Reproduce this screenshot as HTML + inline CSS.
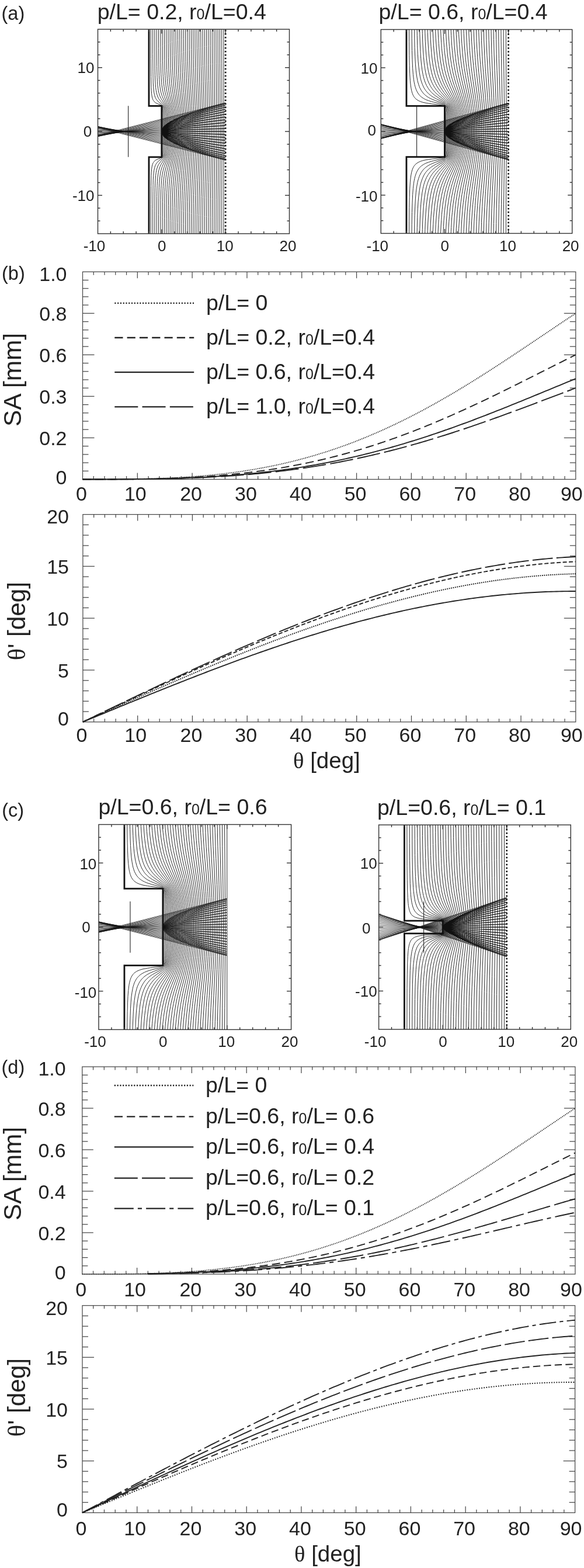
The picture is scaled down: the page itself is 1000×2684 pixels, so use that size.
<!DOCTYPE html>
<html><head><meta charset="utf-8"><title>Figure</title>
<style>html,body{margin:0;padding:0;background:#fff}svg{display:block}</style></head>
<body>
<svg width="1000" height="2684" viewBox="0 0 1000 2684" font-family='"Liberation Sans", Arial, Helvetica, sans-serif'>
<rect width="1000" height="2684" fill="#fff"/>
<text x="2.5" y="33.5" font-size="32.5" text-anchor="start" fill="#222" >(a)</text>
<text x="3" y="478.5" font-size="32.5" text-anchor="start" fill="#222" >(b)</text>
<text x="3.3" y="1398" font-size="32.5" text-anchor="start" fill="#222" >(c)</text>
<text x="2.5" y="1838.3" font-size="32.5" text-anchor="start" fill="#222" >(d)</text>
<rect x="141.5" y="465.3" width="844.3" height="355.2" fill="none" stroke="#484848" stroke-width="1.25"/>
<line x1="160.26" y1="820.5" x2="160.26" y2="815" stroke="#484848" stroke-width="1.25" />
<line x1="160.26" y1="465.3" x2="160.26" y2="470.8" stroke="#484848" stroke-width="1.25" />
<line x1="179.02" y1="820.5" x2="179.02" y2="815" stroke="#484848" stroke-width="1.25" />
<line x1="179.02" y1="465.3" x2="179.02" y2="470.8" stroke="#484848" stroke-width="1.25" />
<line x1="197.79" y1="820.5" x2="197.79" y2="815" stroke="#484848" stroke-width="1.25" />
<line x1="197.79" y1="465.3" x2="197.79" y2="470.8" stroke="#484848" stroke-width="1.25" />
<line x1="216.55" y1="820.5" x2="216.55" y2="815" stroke="#484848" stroke-width="1.25" />
<line x1="216.55" y1="465.3" x2="216.55" y2="470.8" stroke="#484848" stroke-width="1.25" />
<line x1="235.31" y1="820.5" x2="235.31" y2="809.5" stroke="#484848" stroke-width="1.25" />
<line x1="235.31" y1="465.3" x2="235.31" y2="476.3" stroke="#484848" stroke-width="1.25" />
<line x1="254.07" y1="820.5" x2="254.07" y2="815" stroke="#484848" stroke-width="1.25" />
<line x1="254.07" y1="465.3" x2="254.07" y2="470.8" stroke="#484848" stroke-width="1.25" />
<line x1="272.84" y1="820.5" x2="272.84" y2="815" stroke="#484848" stroke-width="1.25" />
<line x1="272.84" y1="465.3" x2="272.84" y2="470.8" stroke="#484848" stroke-width="1.25" />
<line x1="291.6" y1="820.5" x2="291.6" y2="815" stroke="#484848" stroke-width="1.25" />
<line x1="291.6" y1="465.3" x2="291.6" y2="470.8" stroke="#484848" stroke-width="1.25" />
<line x1="310.36" y1="820.5" x2="310.36" y2="815" stroke="#484848" stroke-width="1.25" />
<line x1="310.36" y1="465.3" x2="310.36" y2="470.8" stroke="#484848" stroke-width="1.25" />
<line x1="329.12" y1="820.5" x2="329.12" y2="809.5" stroke="#484848" stroke-width="1.25" />
<line x1="329.12" y1="465.3" x2="329.12" y2="476.3" stroke="#484848" stroke-width="1.25" />
<line x1="347.88" y1="820.5" x2="347.88" y2="815" stroke="#484848" stroke-width="1.25" />
<line x1="347.88" y1="465.3" x2="347.88" y2="470.8" stroke="#484848" stroke-width="1.25" />
<line x1="366.65" y1="820.5" x2="366.65" y2="815" stroke="#484848" stroke-width="1.25" />
<line x1="366.65" y1="465.3" x2="366.65" y2="470.8" stroke="#484848" stroke-width="1.25" />
<line x1="385.41" y1="820.5" x2="385.41" y2="815" stroke="#484848" stroke-width="1.25" />
<line x1="385.41" y1="465.3" x2="385.41" y2="470.8" stroke="#484848" stroke-width="1.25" />
<line x1="404.17" y1="820.5" x2="404.17" y2="815" stroke="#484848" stroke-width="1.25" />
<line x1="404.17" y1="465.3" x2="404.17" y2="470.8" stroke="#484848" stroke-width="1.25" />
<line x1="422.93" y1="820.5" x2="422.93" y2="809.5" stroke="#484848" stroke-width="1.25" />
<line x1="422.93" y1="465.3" x2="422.93" y2="476.3" stroke="#484848" stroke-width="1.25" />
<line x1="441.7" y1="820.5" x2="441.7" y2="815" stroke="#484848" stroke-width="1.25" />
<line x1="441.7" y1="465.3" x2="441.7" y2="470.8" stroke="#484848" stroke-width="1.25" />
<line x1="460.46" y1="820.5" x2="460.46" y2="815" stroke="#484848" stroke-width="1.25" />
<line x1="460.46" y1="465.3" x2="460.46" y2="470.8" stroke="#484848" stroke-width="1.25" />
<line x1="479.22" y1="820.5" x2="479.22" y2="815" stroke="#484848" stroke-width="1.25" />
<line x1="479.22" y1="465.3" x2="479.22" y2="470.8" stroke="#484848" stroke-width="1.25" />
<line x1="497.98" y1="820.5" x2="497.98" y2="815" stroke="#484848" stroke-width="1.25" />
<line x1="497.98" y1="465.3" x2="497.98" y2="470.8" stroke="#484848" stroke-width="1.25" />
<line x1="516.74" y1="820.5" x2="516.74" y2="809.5" stroke="#484848" stroke-width="1.25" />
<line x1="516.74" y1="465.3" x2="516.74" y2="476.3" stroke="#484848" stroke-width="1.25" />
<line x1="535.51" y1="820.5" x2="535.51" y2="815" stroke="#484848" stroke-width="1.25" />
<line x1="535.51" y1="465.3" x2="535.51" y2="470.8" stroke="#484848" stroke-width="1.25" />
<line x1="554.27" y1="820.5" x2="554.27" y2="815" stroke="#484848" stroke-width="1.25" />
<line x1="554.27" y1="465.3" x2="554.27" y2="470.8" stroke="#484848" stroke-width="1.25" />
<line x1="573.03" y1="820.5" x2="573.03" y2="815" stroke="#484848" stroke-width="1.25" />
<line x1="573.03" y1="465.3" x2="573.03" y2="470.8" stroke="#484848" stroke-width="1.25" />
<line x1="591.79" y1="820.5" x2="591.79" y2="815" stroke="#484848" stroke-width="1.25" />
<line x1="591.79" y1="465.3" x2="591.79" y2="470.8" stroke="#484848" stroke-width="1.25" />
<line x1="610.56" y1="820.5" x2="610.56" y2="809.5" stroke="#484848" stroke-width="1.25" />
<line x1="610.56" y1="465.3" x2="610.56" y2="476.3" stroke="#484848" stroke-width="1.25" />
<line x1="629.32" y1="820.5" x2="629.32" y2="815" stroke="#484848" stroke-width="1.25" />
<line x1="629.32" y1="465.3" x2="629.32" y2="470.8" stroke="#484848" stroke-width="1.25" />
<line x1="648.08" y1="820.5" x2="648.08" y2="815" stroke="#484848" stroke-width="1.25" />
<line x1="648.08" y1="465.3" x2="648.08" y2="470.8" stroke="#484848" stroke-width="1.25" />
<line x1="666.84" y1="820.5" x2="666.84" y2="815" stroke="#484848" stroke-width="1.25" />
<line x1="666.84" y1="465.3" x2="666.84" y2="470.8" stroke="#484848" stroke-width="1.25" />
<line x1="685.6" y1="820.5" x2="685.6" y2="815" stroke="#484848" stroke-width="1.25" />
<line x1="685.6" y1="465.3" x2="685.6" y2="470.8" stroke="#484848" stroke-width="1.25" />
<line x1="704.37" y1="820.5" x2="704.37" y2="809.5" stroke="#484848" stroke-width="1.25" />
<line x1="704.37" y1="465.3" x2="704.37" y2="476.3" stroke="#484848" stroke-width="1.25" />
<line x1="723.13" y1="820.5" x2="723.13" y2="815" stroke="#484848" stroke-width="1.25" />
<line x1="723.13" y1="465.3" x2="723.13" y2="470.8" stroke="#484848" stroke-width="1.25" />
<line x1="741.89" y1="820.5" x2="741.89" y2="815" stroke="#484848" stroke-width="1.25" />
<line x1="741.89" y1="465.3" x2="741.89" y2="470.8" stroke="#484848" stroke-width="1.25" />
<line x1="760.65" y1="820.5" x2="760.65" y2="815" stroke="#484848" stroke-width="1.25" />
<line x1="760.65" y1="465.3" x2="760.65" y2="470.8" stroke="#484848" stroke-width="1.25" />
<line x1="779.42" y1="820.5" x2="779.42" y2="815" stroke="#484848" stroke-width="1.25" />
<line x1="779.42" y1="465.3" x2="779.42" y2="470.8" stroke="#484848" stroke-width="1.25" />
<line x1="798.18" y1="820.5" x2="798.18" y2="809.5" stroke="#484848" stroke-width="1.25" />
<line x1="798.18" y1="465.3" x2="798.18" y2="476.3" stroke="#484848" stroke-width="1.25" />
<line x1="816.94" y1="820.5" x2="816.94" y2="815" stroke="#484848" stroke-width="1.25" />
<line x1="816.94" y1="465.3" x2="816.94" y2="470.8" stroke="#484848" stroke-width="1.25" />
<line x1="835.7" y1="820.5" x2="835.7" y2="815" stroke="#484848" stroke-width="1.25" />
<line x1="835.7" y1="465.3" x2="835.7" y2="470.8" stroke="#484848" stroke-width="1.25" />
<line x1="854.46" y1="820.5" x2="854.46" y2="815" stroke="#484848" stroke-width="1.25" />
<line x1="854.46" y1="465.3" x2="854.46" y2="470.8" stroke="#484848" stroke-width="1.25" />
<line x1="873.23" y1="820.5" x2="873.23" y2="815" stroke="#484848" stroke-width="1.25" />
<line x1="873.23" y1="465.3" x2="873.23" y2="470.8" stroke="#484848" stroke-width="1.25" />
<line x1="891.99" y1="820.5" x2="891.99" y2="809.5" stroke="#484848" stroke-width="1.25" />
<line x1="891.99" y1="465.3" x2="891.99" y2="476.3" stroke="#484848" stroke-width="1.25" />
<line x1="910.75" y1="820.5" x2="910.75" y2="815" stroke="#484848" stroke-width="1.25" />
<line x1="910.75" y1="465.3" x2="910.75" y2="470.8" stroke="#484848" stroke-width="1.25" />
<line x1="929.51" y1="820.5" x2="929.51" y2="815" stroke="#484848" stroke-width="1.25" />
<line x1="929.51" y1="465.3" x2="929.51" y2="470.8" stroke="#484848" stroke-width="1.25" />
<line x1="948.28" y1="820.5" x2="948.28" y2="815" stroke="#484848" stroke-width="1.25" />
<line x1="948.28" y1="465.3" x2="948.28" y2="470.8" stroke="#484848" stroke-width="1.25" />
<line x1="967.04" y1="820.5" x2="967.04" y2="815" stroke="#484848" stroke-width="1.25" />
<line x1="967.04" y1="465.3" x2="967.04" y2="470.8" stroke="#484848" stroke-width="1.25" />
<line x1="141.5" y1="806.29" x2="151.5" y2="806.29" stroke="#484848" stroke-width="1.25" />
<line x1="985.8" y1="806.29" x2="975.8" y2="806.29" stroke="#484848" stroke-width="1.25" />
<line x1="141.5" y1="792.08" x2="151.5" y2="792.08" stroke="#484848" stroke-width="1.25" />
<line x1="985.8" y1="792.08" x2="975.8" y2="792.08" stroke="#484848" stroke-width="1.25" />
<line x1="141.5" y1="777.88" x2="151.5" y2="777.88" stroke="#484848" stroke-width="1.25" />
<line x1="985.8" y1="777.88" x2="975.8" y2="777.88" stroke="#484848" stroke-width="1.25" />
<line x1="141.5" y1="763.67" x2="151.5" y2="763.67" stroke="#484848" stroke-width="1.25" />
<line x1="985.8" y1="763.67" x2="975.8" y2="763.67" stroke="#484848" stroke-width="1.25" />
<line x1="141.5" y1="749.46" x2="161.5" y2="749.46" stroke="#484848" stroke-width="1.25" />
<line x1="985.8" y1="749.46" x2="965.8" y2="749.46" stroke="#484848" stroke-width="1.25" />
<line x1="141.5" y1="735.25" x2="151.5" y2="735.25" stroke="#484848" stroke-width="1.25" />
<line x1="985.8" y1="735.25" x2="975.8" y2="735.25" stroke="#484848" stroke-width="1.25" />
<line x1="141.5" y1="721.04" x2="151.5" y2="721.04" stroke="#484848" stroke-width="1.25" />
<line x1="985.8" y1="721.04" x2="975.8" y2="721.04" stroke="#484848" stroke-width="1.25" />
<line x1="141.5" y1="706.84" x2="151.5" y2="706.84" stroke="#484848" stroke-width="1.25" />
<line x1="985.8" y1="706.84" x2="975.8" y2="706.84" stroke="#484848" stroke-width="1.25" />
<line x1="141.5" y1="692.63" x2="151.5" y2="692.63" stroke="#484848" stroke-width="1.25" />
<line x1="985.8" y1="692.63" x2="975.8" y2="692.63" stroke="#484848" stroke-width="1.25" />
<line x1="141.5" y1="678.42" x2="161.5" y2="678.42" stroke="#484848" stroke-width="1.25" />
<line x1="985.8" y1="678.42" x2="965.8" y2="678.42" stroke="#484848" stroke-width="1.25" />
<line x1="141.5" y1="664.21" x2="151.5" y2="664.21" stroke="#484848" stroke-width="1.25" />
<line x1="985.8" y1="664.21" x2="975.8" y2="664.21" stroke="#484848" stroke-width="1.25" />
<line x1="141.5" y1="650" x2="151.5" y2="650" stroke="#484848" stroke-width="1.25" />
<line x1="985.8" y1="650" x2="975.8" y2="650" stroke="#484848" stroke-width="1.25" />
<line x1="141.5" y1="635.8" x2="151.5" y2="635.8" stroke="#484848" stroke-width="1.25" />
<line x1="985.8" y1="635.8" x2="975.8" y2="635.8" stroke="#484848" stroke-width="1.25" />
<line x1="141.5" y1="621.59" x2="151.5" y2="621.59" stroke="#484848" stroke-width="1.25" />
<line x1="985.8" y1="621.59" x2="975.8" y2="621.59" stroke="#484848" stroke-width="1.25" />
<line x1="141.5" y1="607.38" x2="161.5" y2="607.38" stroke="#484848" stroke-width="1.25" />
<line x1="985.8" y1="607.38" x2="965.8" y2="607.38" stroke="#484848" stroke-width="1.25" />
<line x1="141.5" y1="593.17" x2="151.5" y2="593.17" stroke="#484848" stroke-width="1.25" />
<line x1="985.8" y1="593.17" x2="975.8" y2="593.17" stroke="#484848" stroke-width="1.25" />
<line x1="141.5" y1="578.96" x2="151.5" y2="578.96" stroke="#484848" stroke-width="1.25" />
<line x1="985.8" y1="578.96" x2="975.8" y2="578.96" stroke="#484848" stroke-width="1.25" />
<line x1="141.5" y1="564.76" x2="151.5" y2="564.76" stroke="#484848" stroke-width="1.25" />
<line x1="985.8" y1="564.76" x2="975.8" y2="564.76" stroke="#484848" stroke-width="1.25" />
<line x1="141.5" y1="550.55" x2="151.5" y2="550.55" stroke="#484848" stroke-width="1.25" />
<line x1="985.8" y1="550.55" x2="975.8" y2="550.55" stroke="#484848" stroke-width="1.25" />
<line x1="141.5" y1="536.34" x2="161.5" y2="536.34" stroke="#484848" stroke-width="1.25" />
<line x1="985.8" y1="536.34" x2="965.8" y2="536.34" stroke="#484848" stroke-width="1.25" />
<line x1="141.5" y1="522.13" x2="151.5" y2="522.13" stroke="#484848" stroke-width="1.25" />
<line x1="985.8" y1="522.13" x2="975.8" y2="522.13" stroke="#484848" stroke-width="1.25" />
<line x1="141.5" y1="507.92" x2="151.5" y2="507.92" stroke="#484848" stroke-width="1.25" />
<line x1="985.8" y1="507.92" x2="975.8" y2="507.92" stroke="#484848" stroke-width="1.25" />
<line x1="141.5" y1="493.72" x2="151.5" y2="493.72" stroke="#484848" stroke-width="1.25" />
<line x1="985.8" y1="493.72" x2="975.8" y2="493.72" stroke="#484848" stroke-width="1.25" />
<line x1="141.5" y1="479.51" x2="151.5" y2="479.51" stroke="#484848" stroke-width="1.25" />
<line x1="985.8" y1="479.51" x2="975.8" y2="479.51" stroke="#484848" stroke-width="1.25" />
<text x="114.5" y="480.5" font-size="34" text-anchor="end" fill="#222" >1.0</text>
<text x="114.5" y="548.94" font-size="34" text-anchor="end" fill="#222" >0.8</text>
<text x="114.5" y="619.98" font-size="34" text-anchor="end" fill="#222" >0.6</text>
<text x="114.5" y="691.02" font-size="34" text-anchor="end" fill="#222" >0.3</text>
<text x="114.5" y="762.06" font-size="34" text-anchor="end" fill="#222" >0.2</text>
<text x="114.5" y="828.8" font-size="34" text-anchor="end" fill="#222" >0</text>
<text x="139.5" y="856.6" font-size="34" text-anchor="middle" fill="#222" >0</text>
<text x="231.81" y="856.6" font-size="34" text-anchor="middle" fill="#222" >10</text>
<text x="327.12" y="856.6" font-size="34" text-anchor="middle" fill="#222" >20</text>
<text x="420.93" y="856.6" font-size="34" text-anchor="middle" fill="#222" >30</text>
<text x="514.74" y="856.6" font-size="34" text-anchor="middle" fill="#222" >40</text>
<text x="608.56" y="856.6" font-size="34" text-anchor="middle" fill="#222" >50</text>
<text x="702.37" y="856.6" font-size="34" text-anchor="middle" fill="#222" >60</text>
<text x="796.18" y="856.6" font-size="34" text-anchor="middle" fill="#222" >70</text>
<text x="889.99" y="856.6" font-size="34" text-anchor="middle" fill="#222" >80</text>
<text x="978.8" y="856.6" font-size="34" text-anchor="middle" fill="#222" >90</text>
<path d="M141.5,820.5 L146.19,820.5 L150.88,820.5 L155.57,820.5 L160.26,820.5 L164.95,820.49 L169.64,820.48 L174.33,820.48 L179.02,820.46 L183.72,820.45 L188.41,820.43 L193.1,820.4 L197.79,820.38 L202.48,820.34 L207.17,820.3 L211.86,820.26 L216.55,820.21 L221.24,820.15 L225.93,820.08 L230.62,820.01 L235.31,819.93 L240,819.84 L244.69,819.74 L249.38,819.63 L254.07,819.51 L258.76,819.38 L263.45,819.24 L268.14,819.09 L272.84,818.93 L277.53,818.76 L282.22,818.57 L286.91,818.37 L291.6,818.16 L296.29,817.93 L300.98,817.7 L305.67,817.44 L310.36,817.17 L315.05,816.89 L319.74,816.59 L324.43,816.28 L329.12,815.95 L333.81,815.6 L338.5,815.24 L343.19,814.86 L347.88,814.46 L352.57,814.04 L357.27,813.61 L361.96,813.16 L366.65,812.68 L371.34,812.19 L376.03,811.68 L380.72,811.15 L385.41,810.6 L390.1,810.02 L394.79,809.43 L399.48,808.82 L404.17,808.18 L408.86,807.52 L413.55,806.84 L418.24,806.13 L422.93,805.41 L427.62,804.66 L432.31,803.88 L437,803.09 L441.7,802.26 L446.39,801.42 L451.08,800.55 L455.77,799.65 L460.46,798.73 L465.15,797.79 L469.84,796.81 L474.53,795.82 L479.22,794.79 L483.91,793.74 L488.6,792.67 L493.29,791.57 L497.98,790.44 L502.67,789.28 L507.36,788.09 L512.05,786.88 L516.74,785.64 L521.43,784.38 L526.13,783.08 L530.82,781.76 L535.51,780.4 L540.2,779.02 L544.89,777.62 L549.58,776.18 L554.27,774.71 L558.96,773.22 L563.65,771.69 L568.34,770.14 L573.03,768.56 L577.72,766.95 L582.41,765.31 L587.1,763.64 L591.79,761.94 L596.48,760.21 L601.17,758.45 L605.87,756.67 L610.56,754.85 L615.25,753 L619.94,751.13 L624.63,749.23 L629.32,747.29 L634.01,745.33 L638.7,743.34 L643.39,741.32 L648.08,739.27 L652.77,737.19 L657.46,735.08 L662.15,732.95 L666.84,730.78 L671.53,728.59 L676.22,726.37 L680.91,724.12 L685.6,721.84 L690.29,719.54 L694.99,717.21 L699.68,714.85 L704.37,712.46 L709.06,710.05 L713.75,707.61 L718.44,705.15 L723.13,702.66 L727.82,700.14 L732.51,697.6 L737.2,695.03 L741.89,692.44 L746.58,689.83 L751.27,687.19 L755.96,684.53 L760.65,681.84 L765.34,679.13 L770.03,676.4 L774.72,673.65 L779.42,670.87 L784.11,668.07 L788.8,665.26 L793.49,662.42 L798.18,659.57 L802.87,656.69 L807.56,653.8 L812.25,650.88 L816.94,647.95 L821.63,645.01 L826.32,642.04 L831.01,639.06 L835.7,636.07 L840.39,633.06 L845.08,630.04 L849.77,627 L854.46,623.95 L859.15,620.89 L863.85,617.82 L868.54,614.73 L873.23,611.64 L877.92,608.53 L882.61,605.42 L887.3,602.3 L891.99,599.17 L896.68,596.04 L901.37,592.9 L906.06,589.76 L910.75,586.61 L915.44,583.46 L920.13,580.3 L924.82,577.14 L929.51,573.99 L934.2,570.83 L938.89,567.67 L943.58,564.52 L948.28,561.37 L952.97,558.22 L957.66,555.07 L962.35,551.93 L967.04,548.8 L971.73,545.67 L976.42,542.55 L981.11,539.44 L985.8,536.34" fill="none" stroke="#222" stroke-width="1.7" stroke-dasharray="1.5 1.5"/>
<path d="M141.5,820.5 L146.19,820.5 L150.88,820.5 L155.57,820.5 L160.26,820.5 L164.95,820.49 L169.64,820.49 L174.33,820.48 L179.02,820.47 L183.72,820.46 L188.41,820.45 L193.1,820.43 L197.79,820.41 L202.48,820.38 L207.17,820.35 L211.86,820.32 L216.55,820.28 L221.24,820.24 L225.93,820.19 L230.62,820.13 L235.31,820.07 L240,820 L244.69,819.93 L249.38,819.84 L254.07,819.76 L258.76,819.66 L263.45,819.56 L268.14,819.44 L272.84,819.32 L277.53,819.19 L282.22,819.05 L286.91,818.9 L291.6,818.75 L296.29,818.57 L300.98,818.4 L305.67,818.2 L310.36,818.01 L315.05,817.79 L319.74,817.57 L324.43,817.33 L329.12,817.09 L333.81,816.82 L338.5,816.55 L343.19,816.26 L347.88,815.97 L352.57,815.65 L357.27,815.33 L361.96,814.98 L366.65,814.63 L371.34,814.26 L376.03,813.88 L380.72,813.47 L385.41,813.06 L390.1,812.63 L394.79,812.19 L399.48,811.72 L404.17,811.25 L408.86,810.74 L413.55,810.24 L418.24,809.7 L422.93,809.16 L427.62,808.59 L432.31,808.02 L437,807.41 L441.7,806.8 L446.39,806.16 L451.08,805.51 L455.77,804.83 L460.46,804.15 L465.15,803.43 L469.84,802.71 L474.53,801.95 L479.22,801.19 L483.91,800.39 L488.6,799.59 L493.29,798.75 L497.98,797.92 L502.67,797.04 L507.36,796.16 L512.05,795.24 L516.74,794.32 L521.43,793.35 L526.13,792.39 L530.82,791.39 L535.51,790.38 L540.2,789.33 L544.89,788.29 L549.58,787.2 L554.27,786.11 L558.96,784.97 L563.65,783.84 L568.34,782.66 L573.03,781.48 L577.72,780.26 L582.41,779.04 L587.1,777.78 L591.79,776.51 L596.48,775.2 L601.17,773.89 L605.87,772.54 L610.56,771.19 L615.25,769.79 L619.94,768.4 L624.63,766.95 L629.32,765.51 L634.01,764.03 L638.7,762.55 L643.39,761.02 L648.08,759.49 L652.77,757.92 L657.46,756.35 L662.15,754.73 L666.84,753.12 L671.53,751.46 L676.22,749.81 L680.91,748.11 L685.6,746.41 L690.29,744.67 L694.99,742.93 L699.68,741.15 L704.37,739.37 L709.06,737.55 L713.75,735.73 L718.44,733.88 L723.13,732.02 L727.82,730.12 L732.51,728.22 L737.2,726.29 L741.89,724.35 L746.58,722.38 L751.27,720.41 L755.96,718.4 L760.65,716.4 L765.34,714.36 L770.03,712.32 L774.72,710.25 L779.42,708.17 L784.11,706.07 L788.8,703.96 L793.49,701.83 L798.18,699.7 L802.87,697.53 L807.56,695.37 L812.25,693.18 L816.94,690.99 L821.63,688.78 L826.32,686.56 L831.01,684.32 L835.7,682.08 L840.39,679.82 L845.08,677.56 L849.77,675.28 L854.46,673 L859.15,670.7 L863.85,668.4 L868.54,666.09 L873.23,663.77 L877.92,661.45 L882.61,659.12 L887.3,656.78 L891.99,654.44 L896.68,652.09 L901.37,649.74 L906.06,647.38 L910.75,645.02 L915.44,642.66 L920.13,640.3 L924.82,637.94 L929.51,635.57 L934.2,633.21 L938.89,630.84 L943.58,628.48 L948.28,626.12 L952.97,623.76 L957.66,621.41 L962.35,619.06 L967.04,616.71 L971.73,614.37 L976.42,612.03 L981.11,609.71 L985.8,607.38" fill="none" stroke="#222" stroke-width="1.9" stroke-dasharray="14.2 7.1"/>
<path d="M141.5,820.5 L146.19,820.5 L150.88,820.5 L155.57,820.5 L160.26,820.5 L164.95,820.49 L169.64,820.49 L174.33,820.49 L179.02,820.48 L183.72,820.47 L188.41,820.46 L193.1,820.44 L197.79,820.43 L202.48,820.41 L207.17,820.38 L211.86,820.36 L216.55,820.33 L221.24,820.29 L225.93,820.25 L230.62,820.21 L235.31,820.16 L240,820.1 L244.69,820.05 L249.38,819.98 L254.07,819.91 L258.76,819.83 L263.45,819.75 L268.14,819.66 L272.84,819.56 L277.53,819.45 L282.22,819.35 L286.91,819.22 L291.6,819.1 L296.29,818.96 L300.98,818.82 L305.67,818.67 L310.36,818.51 L315.05,818.34 L319.74,818.16 L324.43,817.97 L329.12,817.78 L333.81,817.57 L338.5,817.35 L343.19,817.12 L347.88,816.89 L352.57,816.63 L357.27,816.38 L361.96,816.1 L366.65,815.82 L371.34,815.52 L376.03,815.22 L380.72,814.89 L385.41,814.57 L390.1,814.22 L394.79,813.87 L399.48,813.49 L404.17,813.12 L408.86,812.72 L413.55,812.31 L418.24,811.89 L422.93,811.46 L427.62,811 L432.31,810.54 L437,810.06 L441.7,809.57 L446.39,809.06 L451.08,808.54 L455.77,808 L460.46,807.45 L465.15,806.88 L469.84,806.3 L474.53,805.69 L479.22,805.09 L483.91,804.45 L488.6,803.81 L493.29,803.14 L497.98,802.47 L502.67,801.77 L507.36,801.06 L512.05,800.33 L516.74,799.59 L521.43,798.82 L526.13,798.05 L530.82,797.25 L535.51,796.45 L540.2,795.61 L544.89,794.77 L549.58,793.9 L554.27,793.02 L558.96,792.12 L563.65,791.21 L568.34,790.27 L573.03,789.32 L577.72,788.35 L582.41,787.37 L587.1,786.36 L591.79,785.34 L596.48,784.29 L601.17,783.25 L605.87,782.16 L610.56,781.08 L615.25,779.96 L619.94,778.84 L624.63,777.68 L629.32,776.53 L634.01,775.34 L638.7,774.15 L643.39,772.92 L648.08,771.69 L652.77,770.43 L657.46,769.17 L662.15,767.88 L666.84,766.58 L671.53,765.25 L676.22,763.92 L680.91,762.55 L685.6,761.19 L690.29,759.79 L694.99,758.39 L699.68,756.96 L704.37,755.53 L709.06,754.07 L713.75,752.6 L718.44,751.1 L723.13,749.61 L727.82,748.08 L732.51,746.55 L737.2,744.99 L741.89,743.43 L746.58,741.84 L751.27,740.26 L755.96,738.64 L760.65,737.02 L765.34,735.37 L770.03,733.73 L774.72,732.05 L779.42,730.38 L784.11,728.68 L788.8,726.98 L793.49,725.25 L798.18,723.53 L802.87,721.78 L807.56,720.03 L812.25,718.25 L816.94,716.48 L821.63,714.69 L826.32,712.89 L831.01,711.08 L835.7,709.26 L840.39,707.43 L845.08,705.59 L849.77,703.74 L854.46,701.89 L859.15,700.02 L863.85,698.15 L868.54,696.27 L873.23,694.39 L877.92,692.49 L882.61,690.6 L887.3,688.69 L891.99,686.79 L896.68,684.87 L901.37,682.95 L906.06,681.03 L910.75,679.11 L915.44,677.18 L920.13,675.25 L924.82,673.31 L929.51,671.38 L934.2,669.44 L938.89,667.51 L943.58,665.57 L948.28,663.64 L952.97,661.7 L957.66,659.77 L962.35,657.84 L967.04,655.91 L971.73,653.98 L976.42,652.06 L981.11,650.14 L985.8,648.23" fill="none" stroke="#222" stroke-width="1.9" />
<path d="M141.5,820.5 L146.19,820.5 L150.88,820.5 L155.57,820.5 L160.26,820.5 L164.95,820.5 L169.64,820.49 L174.33,820.49 L179.02,820.48 L183.72,820.47 L188.41,820.46 L193.1,820.45 L197.79,820.43 L202.48,820.42 L207.17,820.4 L211.86,820.37 L216.55,820.34 L221.24,820.31 L225.93,820.28 L230.62,820.24 L235.31,820.19 L240,820.14 L244.69,820.09 L249.38,820.03 L254.07,819.97 L258.76,819.9 L263.45,819.83 L268.14,819.74 L272.84,819.66 L277.53,819.56 L282.22,819.47 L286.91,819.36 L291.6,819.25 L296.29,819.12 L300.98,819 L305.67,818.86 L310.36,818.72 L315.05,818.56 L319.74,818.4 L324.43,818.23 L329.12,818.06 L333.81,817.87 L338.5,817.68 L343.19,817.47 L347.88,817.26 L352.57,817.03 L357.27,816.8 L361.96,816.55 L366.65,816.3 L371.34,816.03 L376.03,815.76 L380.72,815.47 L385.41,815.18 L390.1,814.86 L394.79,814.55 L399.48,814.21 L404.17,813.87 L408.86,813.51 L413.55,813.15 L418.24,812.77 L422.93,812.38 L427.62,811.97 L432.31,811.56 L437,811.12 L441.7,810.69 L446.39,810.22 L451.08,809.76 L455.77,809.27 L460.46,808.78 L465.15,808.26 L469.84,807.75 L474.53,807.2 L479.22,806.66 L483.91,806.08 L488.6,805.51 L493.29,804.91 L497.98,804.3 L502.67,803.67 L507.36,803.04 L512.05,802.38 L516.74,801.71 L521.43,801.02 L526.13,800.33 L530.82,799.61 L535.51,798.88 L540.2,798.13 L544.89,797.37 L549.58,796.59 L554.27,795.8 L558.96,794.99 L563.65,794.17 L568.34,793.32 L573.03,792.47 L577.72,791.59 L582.41,790.71 L587.1,789.8 L591.79,788.89 L596.48,787.94 L601.17,787 L605.87,786.02 L610.56,785.04 L615.25,784.03 L619.94,783.02 L624.63,781.98 L629.32,780.94 L634.01,779.87 L638.7,778.79 L643.39,777.69 L648.08,776.58 L652.77,775.44 L657.46,774.31 L662.15,773.14 L666.84,771.97 L671.53,770.77 L676.22,769.56 L680.91,768.33 L685.6,767.1 L690.29,765.84 L694.99,764.57 L699.68,763.28 L704.37,761.99 L709.06,760.66 L713.75,759.34 L718.44,757.98 L723.13,756.63 L727.82,755.25 L732.51,753.87 L737.2,752.45 L741.89,751.04 L746.58,749.6 L751.27,748.17 L755.96,746.7 L760.65,745.23 L765.34,743.74 L770.03,742.25 L774.72,740.73 L779.42,739.21 L784.11,737.67 L788.8,736.13 L793.49,734.56 L798.18,733 L802.87,731.41 L807.56,729.82 L812.25,728.21 L816.94,726.6 L821.63,724.97 L826.32,723.34 L831.01,721.69 L835.7,720.04 L840.39,718.37 L845.08,716.7 L849.77,715.01 L854.46,713.33 L859.15,711.63 L863.85,709.92 L868.54,708.21 L873.23,706.49 L877.92,704.76 L882.61,703.03 L887.3,701.29 L891.99,699.55 L896.68,697.8 L901.37,696.05 L906.06,694.3 L910.75,692.54 L915.44,690.77 L920.13,689.01 L924.82,687.24 L929.51,685.47 L934.2,683.69 L938.89,681.92 L943.58,680.14 L948.28,678.37 L952.97,676.59 L957.66,674.82 L962.35,673.05 L967.04,671.27 L971.73,669.51 L976.42,667.74 L981.11,665.97 L985.8,664.21" fill="none" stroke="#222" stroke-width="1.9" stroke-dasharray="40 7.25"/>
<line x1="196.3" y1="518.8" x2="332.2" y2="518.8" stroke="#222" stroke-width="2.3" stroke-dasharray="2.2 2.57"/>
<text x="353" y="530.5" font-size="37.5" text-anchor="start" fill="#222" >p/L= 0</text>
<line x1="196.3" y1="578" x2="332.2" y2="578" stroke="#222" stroke-width="2.3" stroke-dasharray="14.2 7.1"/>
<text x="353" y="589.7" font-size="37.5" text-anchor="start" fill="#222" >p/L= 0.2, r<tspan font-size="25">0</tspan>/L=0.4</text>
<line x1="196.3" y1="637.2" x2="332.2" y2="637.2" stroke="#222" stroke-width="2.3" />
<text x="353" y="648.9" font-size="37.5" text-anchor="start" fill="#222" >p/L= 0.6, r<tspan font-size="25">0</tspan>/L=0.4</text>
<line x1="196.3" y1="696.3" x2="332.2" y2="696.3" stroke="#222" stroke-width="2.3" stroke-dasharray="40 7.25"/>
<text x="353" y="708" font-size="37.5" text-anchor="start" fill="#222" >p/L= 1.0, r<tspan font-size="25">0</tspan>/L=0.4</text>
<text transform="translate(36,650) scale(1,0.985) rotate(-90)" font-size="43" text-anchor="middle" fill="#222">SA [mm]</text>
<rect x="141.9" y="880.6" width="843.9" height="355.2" fill="none" stroke="#484848" stroke-width="1.25"/>
<line x1="160.65" y1="1235.8" x2="160.65" y2="1230.3" stroke="#484848" stroke-width="1.25" />
<line x1="160.65" y1="880.6" x2="160.65" y2="886.1" stroke="#484848" stroke-width="1.25" />
<line x1="179.41" y1="1235.8" x2="179.41" y2="1230.3" stroke="#484848" stroke-width="1.25" />
<line x1="179.41" y1="880.6" x2="179.41" y2="886.1" stroke="#484848" stroke-width="1.25" />
<line x1="198.16" y1="1235.8" x2="198.16" y2="1230.3" stroke="#484848" stroke-width="1.25" />
<line x1="198.16" y1="880.6" x2="198.16" y2="886.1" stroke="#484848" stroke-width="1.25" />
<line x1="216.91" y1="1235.8" x2="216.91" y2="1230.3" stroke="#484848" stroke-width="1.25" />
<line x1="216.91" y1="880.6" x2="216.91" y2="886.1" stroke="#484848" stroke-width="1.25" />
<line x1="235.67" y1="1235.8" x2="235.67" y2="1224.8" stroke="#484848" stroke-width="1.25" />
<line x1="235.67" y1="880.6" x2="235.67" y2="891.6" stroke="#484848" stroke-width="1.25" />
<line x1="254.42" y1="1235.8" x2="254.42" y2="1230.3" stroke="#484848" stroke-width="1.25" />
<line x1="254.42" y1="880.6" x2="254.42" y2="886.1" stroke="#484848" stroke-width="1.25" />
<line x1="273.17" y1="1235.8" x2="273.17" y2="1230.3" stroke="#484848" stroke-width="1.25" />
<line x1="273.17" y1="880.6" x2="273.17" y2="886.1" stroke="#484848" stroke-width="1.25" />
<line x1="291.93" y1="1235.8" x2="291.93" y2="1230.3" stroke="#484848" stroke-width="1.25" />
<line x1="291.93" y1="880.6" x2="291.93" y2="886.1" stroke="#484848" stroke-width="1.25" />
<line x1="310.68" y1="1235.8" x2="310.68" y2="1230.3" stroke="#484848" stroke-width="1.25" />
<line x1="310.68" y1="880.6" x2="310.68" y2="886.1" stroke="#484848" stroke-width="1.25" />
<line x1="329.43" y1="1235.8" x2="329.43" y2="1224.8" stroke="#484848" stroke-width="1.25" />
<line x1="329.43" y1="880.6" x2="329.43" y2="891.6" stroke="#484848" stroke-width="1.25" />
<line x1="348.19" y1="1235.8" x2="348.19" y2="1230.3" stroke="#484848" stroke-width="1.25" />
<line x1="348.19" y1="880.6" x2="348.19" y2="886.1" stroke="#484848" stroke-width="1.25" />
<line x1="366.94" y1="1235.8" x2="366.94" y2="1230.3" stroke="#484848" stroke-width="1.25" />
<line x1="366.94" y1="880.6" x2="366.94" y2="886.1" stroke="#484848" stroke-width="1.25" />
<line x1="385.69" y1="1235.8" x2="385.69" y2="1230.3" stroke="#484848" stroke-width="1.25" />
<line x1="385.69" y1="880.6" x2="385.69" y2="886.1" stroke="#484848" stroke-width="1.25" />
<line x1="404.45" y1="1235.8" x2="404.45" y2="1230.3" stroke="#484848" stroke-width="1.25" />
<line x1="404.45" y1="880.6" x2="404.45" y2="886.1" stroke="#484848" stroke-width="1.25" />
<line x1="423.2" y1="1235.8" x2="423.2" y2="1224.8" stroke="#484848" stroke-width="1.25" />
<line x1="423.2" y1="880.6" x2="423.2" y2="891.6" stroke="#484848" stroke-width="1.25" />
<line x1="441.95" y1="1235.8" x2="441.95" y2="1230.3" stroke="#484848" stroke-width="1.25" />
<line x1="441.95" y1="880.6" x2="441.95" y2="886.1" stroke="#484848" stroke-width="1.25" />
<line x1="460.71" y1="1235.8" x2="460.71" y2="1230.3" stroke="#484848" stroke-width="1.25" />
<line x1="460.71" y1="880.6" x2="460.71" y2="886.1" stroke="#484848" stroke-width="1.25" />
<line x1="479.46" y1="1235.8" x2="479.46" y2="1230.3" stroke="#484848" stroke-width="1.25" />
<line x1="479.46" y1="880.6" x2="479.46" y2="886.1" stroke="#484848" stroke-width="1.25" />
<line x1="498.21" y1="1235.8" x2="498.21" y2="1230.3" stroke="#484848" stroke-width="1.25" />
<line x1="498.21" y1="880.6" x2="498.21" y2="886.1" stroke="#484848" stroke-width="1.25" />
<line x1="516.97" y1="1235.8" x2="516.97" y2="1224.8" stroke="#484848" stroke-width="1.25" />
<line x1="516.97" y1="880.6" x2="516.97" y2="891.6" stroke="#484848" stroke-width="1.25" />
<line x1="535.72" y1="1235.8" x2="535.72" y2="1230.3" stroke="#484848" stroke-width="1.25" />
<line x1="535.72" y1="880.6" x2="535.72" y2="886.1" stroke="#484848" stroke-width="1.25" />
<line x1="554.47" y1="1235.8" x2="554.47" y2="1230.3" stroke="#484848" stroke-width="1.25" />
<line x1="554.47" y1="880.6" x2="554.47" y2="886.1" stroke="#484848" stroke-width="1.25" />
<line x1="573.23" y1="1235.8" x2="573.23" y2="1230.3" stroke="#484848" stroke-width="1.25" />
<line x1="573.23" y1="880.6" x2="573.23" y2="886.1" stroke="#484848" stroke-width="1.25" />
<line x1="591.98" y1="1235.8" x2="591.98" y2="1230.3" stroke="#484848" stroke-width="1.25" />
<line x1="591.98" y1="880.6" x2="591.98" y2="886.1" stroke="#484848" stroke-width="1.25" />
<line x1="610.73" y1="1235.8" x2="610.73" y2="1224.8" stroke="#484848" stroke-width="1.25" />
<line x1="610.73" y1="880.6" x2="610.73" y2="891.6" stroke="#484848" stroke-width="1.25" />
<line x1="629.49" y1="1235.8" x2="629.49" y2="1230.3" stroke="#484848" stroke-width="1.25" />
<line x1="629.49" y1="880.6" x2="629.49" y2="886.1" stroke="#484848" stroke-width="1.25" />
<line x1="648.24" y1="1235.8" x2="648.24" y2="1230.3" stroke="#484848" stroke-width="1.25" />
<line x1="648.24" y1="880.6" x2="648.24" y2="886.1" stroke="#484848" stroke-width="1.25" />
<line x1="666.99" y1="1235.8" x2="666.99" y2="1230.3" stroke="#484848" stroke-width="1.25" />
<line x1="666.99" y1="880.6" x2="666.99" y2="886.1" stroke="#484848" stroke-width="1.25" />
<line x1="685.75" y1="1235.8" x2="685.75" y2="1230.3" stroke="#484848" stroke-width="1.25" />
<line x1="685.75" y1="880.6" x2="685.75" y2="886.1" stroke="#484848" stroke-width="1.25" />
<line x1="704.5" y1="1235.8" x2="704.5" y2="1224.8" stroke="#484848" stroke-width="1.25" />
<line x1="704.5" y1="880.6" x2="704.5" y2="891.6" stroke="#484848" stroke-width="1.25" />
<line x1="723.25" y1="1235.8" x2="723.25" y2="1230.3" stroke="#484848" stroke-width="1.25" />
<line x1="723.25" y1="880.6" x2="723.25" y2="886.1" stroke="#484848" stroke-width="1.25" />
<line x1="742.01" y1="1235.8" x2="742.01" y2="1230.3" stroke="#484848" stroke-width="1.25" />
<line x1="742.01" y1="880.6" x2="742.01" y2="886.1" stroke="#484848" stroke-width="1.25" />
<line x1="760.76" y1="1235.8" x2="760.76" y2="1230.3" stroke="#484848" stroke-width="1.25" />
<line x1="760.76" y1="880.6" x2="760.76" y2="886.1" stroke="#484848" stroke-width="1.25" />
<line x1="779.51" y1="1235.8" x2="779.51" y2="1230.3" stroke="#484848" stroke-width="1.25" />
<line x1="779.51" y1="880.6" x2="779.51" y2="886.1" stroke="#484848" stroke-width="1.25" />
<line x1="798.27" y1="1235.8" x2="798.27" y2="1224.8" stroke="#484848" stroke-width="1.25" />
<line x1="798.27" y1="880.6" x2="798.27" y2="891.6" stroke="#484848" stroke-width="1.25" />
<line x1="817.02" y1="1235.8" x2="817.02" y2="1230.3" stroke="#484848" stroke-width="1.25" />
<line x1="817.02" y1="880.6" x2="817.02" y2="886.1" stroke="#484848" stroke-width="1.25" />
<line x1="835.77" y1="1235.8" x2="835.77" y2="1230.3" stroke="#484848" stroke-width="1.25" />
<line x1="835.77" y1="880.6" x2="835.77" y2="886.1" stroke="#484848" stroke-width="1.25" />
<line x1="854.53" y1="1235.8" x2="854.53" y2="1230.3" stroke="#484848" stroke-width="1.25" />
<line x1="854.53" y1="880.6" x2="854.53" y2="886.1" stroke="#484848" stroke-width="1.25" />
<line x1="873.28" y1="1235.8" x2="873.28" y2="1230.3" stroke="#484848" stroke-width="1.25" />
<line x1="873.28" y1="880.6" x2="873.28" y2="886.1" stroke="#484848" stroke-width="1.25" />
<line x1="892.03" y1="1235.8" x2="892.03" y2="1224.8" stroke="#484848" stroke-width="1.25" />
<line x1="892.03" y1="880.6" x2="892.03" y2="891.6" stroke="#484848" stroke-width="1.25" />
<line x1="910.79" y1="1235.8" x2="910.79" y2="1230.3" stroke="#484848" stroke-width="1.25" />
<line x1="910.79" y1="880.6" x2="910.79" y2="886.1" stroke="#484848" stroke-width="1.25" />
<line x1="929.54" y1="1235.8" x2="929.54" y2="1230.3" stroke="#484848" stroke-width="1.25" />
<line x1="929.54" y1="880.6" x2="929.54" y2="886.1" stroke="#484848" stroke-width="1.25" />
<line x1="948.29" y1="1235.8" x2="948.29" y2="1230.3" stroke="#484848" stroke-width="1.25" />
<line x1="948.29" y1="880.6" x2="948.29" y2="886.1" stroke="#484848" stroke-width="1.25" />
<line x1="967.05" y1="1235.8" x2="967.05" y2="1230.3" stroke="#484848" stroke-width="1.25" />
<line x1="967.05" y1="880.6" x2="967.05" y2="886.1" stroke="#484848" stroke-width="1.25" />
<line x1="141.9" y1="1218.04" x2="151.9" y2="1218.04" stroke="#484848" stroke-width="1.25" />
<line x1="985.8" y1="1218.04" x2="975.8" y2="1218.04" stroke="#484848" stroke-width="1.25" />
<line x1="141.9" y1="1200.28" x2="151.9" y2="1200.28" stroke="#484848" stroke-width="1.25" />
<line x1="985.8" y1="1200.28" x2="975.8" y2="1200.28" stroke="#484848" stroke-width="1.25" />
<line x1="141.9" y1="1182.52" x2="151.9" y2="1182.52" stroke="#484848" stroke-width="1.25" />
<line x1="985.8" y1="1182.52" x2="975.8" y2="1182.52" stroke="#484848" stroke-width="1.25" />
<line x1="141.9" y1="1164.76" x2="151.9" y2="1164.76" stroke="#484848" stroke-width="1.25" />
<line x1="985.8" y1="1164.76" x2="975.8" y2="1164.76" stroke="#484848" stroke-width="1.25" />
<line x1="141.9" y1="1147" x2="161.9" y2="1147" stroke="#484848" stroke-width="1.25" />
<line x1="985.8" y1="1147" x2="965.8" y2="1147" stroke="#484848" stroke-width="1.25" />
<line x1="141.9" y1="1129.24" x2="151.9" y2="1129.24" stroke="#484848" stroke-width="1.25" />
<line x1="985.8" y1="1129.24" x2="975.8" y2="1129.24" stroke="#484848" stroke-width="1.25" />
<line x1="141.9" y1="1111.48" x2="151.9" y2="1111.48" stroke="#484848" stroke-width="1.25" />
<line x1="985.8" y1="1111.48" x2="975.8" y2="1111.48" stroke="#484848" stroke-width="1.25" />
<line x1="141.9" y1="1093.72" x2="151.9" y2="1093.72" stroke="#484848" stroke-width="1.25" />
<line x1="985.8" y1="1093.72" x2="975.8" y2="1093.72" stroke="#484848" stroke-width="1.25" />
<line x1="141.9" y1="1075.96" x2="151.9" y2="1075.96" stroke="#484848" stroke-width="1.25" />
<line x1="985.8" y1="1075.96" x2="975.8" y2="1075.96" stroke="#484848" stroke-width="1.25" />
<line x1="141.9" y1="1058.2" x2="161.9" y2="1058.2" stroke="#484848" stroke-width="1.25" />
<line x1="985.8" y1="1058.2" x2="965.8" y2="1058.2" stroke="#484848" stroke-width="1.25" />
<line x1="141.9" y1="1040.44" x2="151.9" y2="1040.44" stroke="#484848" stroke-width="1.25" />
<line x1="985.8" y1="1040.44" x2="975.8" y2="1040.44" stroke="#484848" stroke-width="1.25" />
<line x1="141.9" y1="1022.68" x2="151.9" y2="1022.68" stroke="#484848" stroke-width="1.25" />
<line x1="985.8" y1="1022.68" x2="975.8" y2="1022.68" stroke="#484848" stroke-width="1.25" />
<line x1="141.9" y1="1004.92" x2="151.9" y2="1004.92" stroke="#484848" stroke-width="1.25" />
<line x1="985.8" y1="1004.92" x2="975.8" y2="1004.92" stroke="#484848" stroke-width="1.25" />
<line x1="141.9" y1="987.16" x2="151.9" y2="987.16" stroke="#484848" stroke-width="1.25" />
<line x1="985.8" y1="987.16" x2="975.8" y2="987.16" stroke="#484848" stroke-width="1.25" />
<line x1="141.9" y1="969.4" x2="161.9" y2="969.4" stroke="#484848" stroke-width="1.25" />
<line x1="985.8" y1="969.4" x2="965.8" y2="969.4" stroke="#484848" stroke-width="1.25" />
<line x1="141.9" y1="951.64" x2="151.9" y2="951.64" stroke="#484848" stroke-width="1.25" />
<line x1="985.8" y1="951.64" x2="975.8" y2="951.64" stroke="#484848" stroke-width="1.25" />
<line x1="141.9" y1="933.88" x2="151.9" y2="933.88" stroke="#484848" stroke-width="1.25" />
<line x1="985.8" y1="933.88" x2="975.8" y2="933.88" stroke="#484848" stroke-width="1.25" />
<line x1="141.9" y1="916.12" x2="151.9" y2="916.12" stroke="#484848" stroke-width="1.25" />
<line x1="985.8" y1="916.12" x2="975.8" y2="916.12" stroke="#484848" stroke-width="1.25" />
<line x1="141.9" y1="898.36" x2="151.9" y2="898.36" stroke="#484848" stroke-width="1.25" />
<line x1="985.8" y1="898.36" x2="975.8" y2="898.36" stroke="#484848" stroke-width="1.25" />
<text x="118" y="896" font-size="34" text-anchor="end" fill="#222" >20</text>
<text x="118" y="982" font-size="34" text-anchor="end" fill="#222" >15</text>
<text x="118" y="1070.8" font-size="34" text-anchor="end" fill="#222" >10</text>
<text x="118" y="1159.6" font-size="34" text-anchor="end" fill="#222" >5</text>
<text x="118" y="1242.2" font-size="34" text-anchor="end" fill="#222" >0</text>
<text x="139.9" y="1270.4" font-size="34" text-anchor="middle" fill="#222" >0</text>
<text x="232.17" y="1270.4" font-size="34" text-anchor="middle" fill="#222" >10</text>
<text x="327.43" y="1270.4" font-size="34" text-anchor="middle" fill="#222" >20</text>
<text x="421.2" y="1270.4" font-size="34" text-anchor="middle" fill="#222" >30</text>
<text x="514.97" y="1270.4" font-size="34" text-anchor="middle" fill="#222" >40</text>
<text x="608.73" y="1270.4" font-size="34" text-anchor="middle" fill="#222" >50</text>
<text x="702.5" y="1270.4" font-size="34" text-anchor="middle" fill="#222" >60</text>
<text x="796.27" y="1270.4" font-size="34" text-anchor="middle" fill="#222" >70</text>
<text x="890.03" y="1270.4" font-size="34" text-anchor="middle" fill="#222" >80</text>
<text x="978.8" y="1270.4" font-size="34" text-anchor="middle" fill="#222" >90</text>
<path d="M141.9,1235.8 L146.59,1233.86 L151.28,1231.93 L155.97,1229.99 L160.65,1228.05 L165.34,1226.12 L170.03,1224.18 L174.72,1222.25 L179.41,1220.32 L184.09,1218.38 L188.78,1216.45 L193.47,1214.52 L198.16,1212.6 L202.85,1210.67 L207.54,1208.74 L212.22,1206.82 L216.91,1204.9 L221.6,1202.98 L226.29,1201.07 L230.98,1199.16 L235.67,1197.25 L240.36,1195.34 L245.04,1193.43 L249.73,1191.53 L254.42,1189.63 L259.11,1187.74 L263.8,1185.85 L268.49,1183.96 L273.17,1182.07 L277.86,1180.19 L282.55,1178.32 L287.24,1176.45 L291.93,1174.58 L296.62,1172.72 L301.3,1170.86 L305.99,1169 L310.68,1167.15 L315.37,1165.31 L320.06,1163.47 L324.75,1161.64 L329.43,1159.81 L334.12,1157.99 L338.81,1156.17 L343.5,1154.36 L348.19,1152.55 L352.88,1150.75 L357.56,1148.96 L362.25,1147.18 L366.94,1145.4 L371.63,1143.62 L376.32,1141.86 L381,1140.1 L385.69,1138.34 L390.38,1136.6 L395.07,1134.86 L399.76,1133.13 L404.45,1131.41 L409.13,1129.69 L413.82,1127.98 L418.51,1126.28 L423.2,1124.59 L427.89,1122.91 L432.58,1121.23 L437.26,1119.57 L441.95,1117.91 L446.64,1116.26 L451.33,1114.62 L456.02,1112.99 L460.71,1111.36 L465.39,1109.75 L470.08,1108.15 L474.77,1106.55 L479.46,1104.97 L484.15,1103.39 L488.84,1101.82 L493.52,1100.27 L498.21,1098.72 L502.9,1097.19 L507.59,1095.66 L512.28,1094.15 L516.97,1092.64 L521.65,1091.15 L526.34,1089.67 L531.03,1088.2 L535.72,1086.74 L540.41,1085.29 L545.1,1083.85 L549.78,1082.42 L554.47,1081.01 L559.16,1079.6 L563.85,1078.21 L568.54,1076.83 L573.23,1075.46 L577.91,1074.1 L582.6,1072.76 L587.29,1071.43 L591.98,1070.11 L596.67,1068.8 L601.36,1067.51 L606.05,1066.22 L610.73,1064.95 L615.42,1063.7 L620.11,1062.45 L624.8,1061.22 L629.49,1060.01 L634.18,1058.8 L638.86,1057.61 L643.55,1056.44 L648.24,1055.27 L652.93,1054.12 L657.62,1052.99 L662.3,1051.86 L666.99,1050.76 L671.68,1049.66 L676.37,1048.58 L681.06,1047.51 L685.75,1046.46 L690.43,1045.43 L695.12,1044.4 L699.81,1043.39 L704.5,1042.4 L709.19,1041.42 L713.88,1040.46 L718.57,1039.51 L723.25,1038.57 L727.94,1037.65 L732.63,1036.75 L737.32,1035.86 L742.01,1034.99 L746.7,1034.13 L751.38,1033.29 L756.07,1032.46 L760.76,1031.65 L765.45,1030.85 L770.14,1030.07 L774.83,1029.31 L779.51,1028.56 L784.2,1027.82 L788.89,1027.11 L793.58,1026.41 L798.27,1025.72 L802.96,1025.05 L807.64,1024.4 L812.33,1023.76 L817.02,1023.14 L821.71,1022.54 L826.4,1021.95 L831.09,1021.38 L835.77,1020.83 L840.46,1020.29 L845.15,1019.77 L849.84,1019.26 L854.53,1018.78 L859.22,1018.3 L863.9,1017.85 L868.59,1017.41 L873.28,1016.99 L877.97,1016.59 L882.66,1016.2 L887.35,1015.83 L892.03,1015.48 L896.72,1015.14 L901.41,1014.82 L906.1,1014.52 L910.79,1014.24 L915.48,1013.97 L920.16,1013.72 L924.85,1013.49 L929.54,1013.27 L934.23,1013.07 L938.92,1012.89 L943.61,1012.73 L948.29,1012.58 L952.98,1012.45 L957.67,1012.34 L962.36,1012.24 L967.05,1012.16 L971.74,1012.1 L976.42,1012.06 L981.11,1012.03 L985.8,1012.02" fill="none" stroke="#222" stroke-width="1.9" />
<path d="M141.9,1235.8 L146.59,1233.58 L151.28,1231.61 L155.97,1229.51 L160.65,1227.41 L165.34,1225.32 L170.03,1223.22 L174.72,1221.13 L179.41,1219.03 L184.09,1216.94 L188.78,1214.85 L193.47,1212.76 L198.16,1210.67 L202.85,1208.58 L207.54,1206.5 L212.22,1204.41 L216.91,1202.33 L221.6,1200.25 L226.29,1198.17 L230.98,1196.1 L235.67,1194.03 L240.36,1191.96 L245.04,1189.89 L249.73,1187.83 L254.42,1185.77 L259.11,1183.71 L263.8,1181.66 L268.49,1179.61 L273.17,1177.56 L277.86,1175.52 L282.55,1173.48 L287.24,1171.44 L291.93,1169.41 L296.62,1167.39 L301.3,1165.36 L305.99,1163.35 L310.68,1161.33 L315.37,1159.33 L320.06,1157.32 L324.75,1155.32 L329.43,1153.33 L334.12,1151.34 L338.81,1149.36 L343.5,1147.38 L348.19,1145.41 L352.88,1143.45 L357.56,1141.49 L362.25,1139.54 L366.94,1137.59 L371.63,1135.65 L376.32,1133.71 L381,1131.79 L385.69,1129.87 L390.38,1127.96 L395.07,1126.05 L399.76,1124.15 L404.45,1122.25 L409.13,1120.37 L413.82,1118.49 L418.51,1116.63 L423.2,1114.76 L427.89,1112.91 L432.58,1111.06 L437.26,1109.23 L441.95,1107.4 L446.64,1105.58 L451.33,1103.76 L456.02,1101.96 L460.71,1100.16 L465.39,1098.38 L470.08,1096.6 L474.77,1094.84 L479.46,1093.08 L484.15,1091.33 L488.84,1089.59 L493.52,1087.86 L498.21,1086.14 L502.9,1084.44 L507.59,1082.73 L512.28,1081.05 L516.97,1079.36 L521.65,1077.7 L526.34,1076.03 L531.03,1074.39 L535.72,1072.75 L540.41,1071.13 L545.1,1069.51 L549.78,1067.91 L554.47,1066.31 L559.16,1064.74 L563.85,1063.16 L568.54,1061.61 L573.23,1060.06 L577.91,1058.53 L582.6,1057 L587.29,1055.5 L591.98,1053.99 L596.67,1052.51 L601.36,1051.03 L606.05,1049.58 L610.73,1048.13 L615.42,1046.7 L620.11,1045.27 L624.8,1043.86 L629.49,1042.46 L634.18,1041.08 L638.86,1039.71 L643.55,1038.36 L648.24,1037.01 L652.93,1035.69 L657.62,1034.36 L662.3,1033.07 L666.99,1031.77 L671.68,1030.51 L676.37,1029.24 L681.06,1028 L685.75,1026.76 L690.43,1025.56 L695.12,1024.35 L699.81,1023.17 L704.5,1021.99 L709.19,1020.84 L713.88,1019.69 L718.57,1018.57 L723.25,1017.45 L727.94,1016.36 L732.63,1015.27 L737.32,1014.21 L742.01,1013.15 L746.7,1012.13 L751.38,1011.1 L756.07,1010.11 L760.76,1009.11 L765.45,1008.15 L770.14,1007.19 L774.83,1006.26 L779.51,1005.33 L784.2,1004.43 L788.89,1003.53 L793.58,1002.67 L798.27,1001.8 L802.96,1000.97 L807.64,1000.14 L812.33,999.35 L817.02,998.55 L821.71,997.79 L826.4,997.02 L831.09,996.3 L835.77,995.57 L840.46,994.88 L845.15,994.18 L849.84,993.53 L854.53,992.87 L859.22,992.25 L863.9,991.62 L868.59,991.04 L873.28,990.45 L877.97,989.9 L882.66,989.35 L887.35,988.84 L892.03,988.33 L896.72,987.85 L901.41,987.37 L906.1,986.93 L910.79,986.49 L915.48,986.09 L920.16,985.69 L924.85,985.33 L929.54,984.96 L934.23,984.63 L938.92,984.31 L943.61,984.02 L948.29,983.73 L952.98,983.48 L957.67,983.23 L962.36,983.02 L967.05,982.8 L971.74,982.63 L976.42,982.46 L981.11,982.32 L985.8,982.19" fill="none" stroke="#222" stroke-width="1.9" stroke-dasharray="1.9 1.6"/>
<path d="M141.9,1235.8 L146.59,1233.46 L151.28,1231.37 L155.97,1229.15 L160.65,1226.94 L165.34,1224.72 L170.03,1222.51 L174.72,1220.3 L179.41,1218.09 L184.09,1215.88 L188.78,1213.66 L193.47,1211.46 L198.16,1209.25 L202.85,1207.04 L207.54,1204.84 L212.22,1202.64 L216.91,1200.44 L221.6,1198.24 L226.29,1196.04 L230.98,1193.85 L235.67,1191.66 L240.36,1189.47 L245.04,1187.29 L249.73,1185.11 L254.42,1182.92 L259.11,1180.75 L263.8,1178.57 L268.49,1176.41 L273.17,1174.24 L277.86,1172.08 L282.55,1169.92 L287.24,1167.76 L291.93,1165.61 L296.62,1163.47 L301.3,1161.32 L305.99,1159.19 L310.68,1157.05 L315.37,1154.92 L320.06,1152.8 L324.75,1150.68 L329.43,1148.56 L334.12,1146.46 L338.81,1144.35 L343.5,1142.26 L348.19,1140.16 L352.88,1138.08 L357.56,1135.99 L362.25,1133.92 L366.94,1131.85 L371.63,1129.79 L376.32,1127.73 L381,1125.69 L385.69,1123.64 L390.38,1121.61 L395.07,1119.57 L399.76,1117.55 L404.45,1115.54 L409.13,1113.53 L413.82,1111.53 L418.51,1109.54 L423.2,1107.55 L427.89,1105.58 L432.58,1103.6 L437.26,1101.64 L441.95,1099.69 L446.64,1097.75 L451.33,1095.81 L456.02,1093.88 L460.71,1091.96 L465.39,1090.05 L470.08,1088.15 L474.77,1086.26 L479.46,1084.37 L484.15,1082.5 L488.84,1080.63 L493.52,1078.78 L498.21,1076.93 L502.9,1075.1 L507.59,1073.27 L512.28,1071.46 L516.97,1069.65 L521.65,1067.86 L526.34,1066.07 L531.03,1064.3 L535.72,1062.53 L540.41,1060.79 L545.1,1059.04 L549.78,1057.31 L554.47,1055.59 L559.16,1053.89 L563.85,1052.18 L568.54,1050.51 L573.23,1048.83 L577.91,1047.17 L582.6,1045.52 L587.29,1043.89 L591.98,1042.25 L596.67,1040.65 L601.36,1039.04 L606.05,1037.46 L610.73,1035.88 L615.42,1034.32 L620.11,1032.77 L624.8,1031.24 L629.49,1029.71 L634.18,1028.21 L638.86,1026.71 L643.55,1025.23 L648.24,1023.75 L652.93,1022.31 L657.62,1020.86 L662.3,1019.44 L666.99,1018.02 L671.68,1016.63 L676.37,1015.24 L681.06,1013.87 L685.75,1012.51 L690.43,1011.18 L695.12,1009.85 L699.81,1008.54 L704.5,1007.24 L709.19,1005.97 L713.88,1004.7 L718.57,1003.45 L723.25,1002.21 L727.94,1001 L732.63,999.79 L737.32,998.62 L742.01,997.44 L746.7,996.29 L751.38,995.15 L756.07,994.03 L760.76,992.92 L765.45,991.84 L770.14,990.76 L774.83,989.71 L779.51,988.67 L784.2,987.66 L788.89,986.64 L793.58,985.67 L798.27,984.69 L802.96,983.75 L807.64,982.81 L812.33,981.9 L817.02,980.99 L821.71,980.12 L826.4,979.25 L831.09,978.42 L835.77,977.58 L840.46,976.78 L845.15,975.99 L849.84,975.23 L854.53,974.46 L859.22,973.74 L863.9,973.02 L868.59,972.33 L873.28,971.65 L877.97,971 L882.66,970.36 L887.35,969.75 L892.03,969.14 L896.72,968.57 L901.41,968 L906.1,967.47 L910.79,966.94 L915.48,966.45 L920.16,965.96 L924.85,965.52 L929.54,965.07 L934.23,964.66 L938.92,964.25 L943.61,963.88 L948.29,963.51 L952.98,963.19 L957.67,962.86 L962.36,962.58 L967.05,962.29 L971.74,962.05 L976.42,961.81 L981.11,961.61 L985.8,961.41" fill="none" stroke="#222" stroke-width="1.9" stroke-dasharray="7 3.5"/>
<path d="M141.9,1235.8 L146.59,1233.41 L151.28,1231.27 L155.97,1229.01 L160.65,1226.75 L165.34,1224.48 L170.03,1222.22 L174.72,1219.96 L179.41,1217.7 L184.09,1215.44 L188.78,1213.18 L193.47,1210.93 L198.16,1208.67 L202.85,1206.42 L207.54,1204.16 L212.22,1201.91 L216.91,1199.66 L221.6,1197.42 L226.29,1195.17 L230.98,1192.93 L235.67,1190.69 L240.36,1188.46 L245.04,1186.22 L249.73,1183.99 L254.42,1181.76 L259.11,1179.54 L263.8,1177.31 L268.49,1175.1 L273.17,1172.88 L277.86,1170.67 L282.55,1168.46 L287.24,1166.26 L291.93,1164.06 L296.62,1161.86 L301.3,1159.67 L305.99,1157.48 L310.68,1155.3 L315.37,1153.12 L320.06,1150.95 L324.75,1148.78 L329.43,1146.62 L334.12,1144.46 L338.81,1142.3 L343.5,1140.16 L348.19,1138.01 L352.88,1135.88 L357.56,1133.75 L362.25,1131.63 L366.94,1129.5 L371.63,1127.39 L376.32,1125.29 L381,1123.19 L385.69,1121.09 L390.38,1119.01 L395.07,1116.93 L399.76,1114.86 L404.45,1112.79 L409.13,1110.73 L413.82,1108.68 L418.51,1106.64 L423.2,1104.6 L427.89,1102.58 L432.58,1100.55 L437.26,1098.54 L441.95,1096.54 L446.64,1094.54 L451.33,1092.55 L456.02,1090.58 L460.71,1088.6 L465.39,1086.65 L470.08,1084.69 L474.77,1082.75 L479.46,1080.81 L484.15,1078.89 L488.84,1076.97 L493.52,1075.07 L498.21,1073.17 L502.9,1071.29 L507.59,1069.4 L512.28,1067.54 L516.97,1065.68 L521.65,1063.84 L526.34,1062 L531.03,1060.18 L535.72,1058.36 L540.41,1056.56 L545.1,1054.76 L549.78,1052.99 L554.47,1051.21 L559.16,1049.46 L563.85,1047.7 L568.54,1045.97 L573.23,1044.24 L577.91,1042.54 L582.6,1040.83 L587.29,1039.15 L591.98,1037.46 L596.67,1035.81 L601.36,1034.15 L606.05,1032.52 L610.73,1030.88 L615.42,1029.28 L620.11,1027.67 L624.8,1026.09 L629.49,1024.51 L634.18,1022.96 L638.86,1021.4 L643.55,1019.88 L648.24,1018.35 L652.93,1016.85 L657.62,1015.35 L662.3,1013.88 L666.99,1012.41 L671.68,1010.97 L676.37,1009.53 L681.06,1008.12 L685.75,1006.71 L690.43,1005.32 L695.12,1003.94 L699.81,1002.59 L704.5,1001.24 L709.19,999.92 L713.88,998.6 L718.57,997.31 L723.25,996.02 L727.94,994.76 L732.63,993.5 L737.32,992.27 L742.01,991.05 L746.7,989.85 L751.38,988.66 L756.07,987.5 L760.76,986.34 L765.45,985.22 L770.14,984.09 L774.83,983 L779.51,981.91 L784.2,980.85 L788.89,979.79 L793.58,978.77 L798.27,977.75 L802.96,976.76 L807.64,975.78 L812.33,974.83 L817.02,973.88 L821.71,972.96 L826.4,972.05 L831.09,971.17 L835.77,970.3 L840.46,969.46 L845.15,968.62 L849.84,967.82 L854.53,967.02 L859.22,966.26 L863.9,965.49 L868.59,964.77 L873.28,964.05 L877.97,963.36 L882.66,962.68 L887.35,962.03 L892.03,961.39 L896.72,960.79 L901.41,960.18 L906.1,959.62 L910.79,959.05 L915.48,958.53 L920.16,958.01 L924.85,957.53 L929.54,957.05 L934.23,956.61 L938.92,956.17 L943.61,955.77 L948.29,955.38 L952.98,955.02 L957.67,954.67 L962.36,954.36 L967.05,954.05 L971.74,953.78 L976.42,953.51 L981.11,953.29 L985.8,953.06" fill="none" stroke="#222" stroke-width="1.9" stroke-dasharray="34.8 6.31"/>
<text transform="translate(43,1063) scale(1,0.985) rotate(-90)" font-size="43" text-anchor="middle" fill="#222"><tspan font-family="Liberation Serif, serif">θ</tspan>' [deg]</text>
<text x="502" y="1314.5" font-size="38.5" fill="#222"><tspan font-family="Liberation Serif, serif">θ</tspan> [deg]</text>
<rect x="140.8" y="1826" width="844.1" height="355" fill="none" stroke="#484848" stroke-width="1.25"/>
<line x1="159.56" y1="2181" x2="159.56" y2="2175.5" stroke="#484848" stroke-width="1.25" />
<line x1="159.56" y1="1826" x2="159.56" y2="1831.5" stroke="#484848" stroke-width="1.25" />
<line x1="178.32" y1="2181" x2="178.32" y2="2175.5" stroke="#484848" stroke-width="1.25" />
<line x1="178.32" y1="1826" x2="178.32" y2="1831.5" stroke="#484848" stroke-width="1.25" />
<line x1="197.07" y1="2181" x2="197.07" y2="2175.5" stroke="#484848" stroke-width="1.25" />
<line x1="197.07" y1="1826" x2="197.07" y2="1831.5" stroke="#484848" stroke-width="1.25" />
<line x1="215.83" y1="2181" x2="215.83" y2="2175.5" stroke="#484848" stroke-width="1.25" />
<line x1="215.83" y1="1826" x2="215.83" y2="1831.5" stroke="#484848" stroke-width="1.25" />
<line x1="234.59" y1="2181" x2="234.59" y2="2170" stroke="#484848" stroke-width="1.25" />
<line x1="234.59" y1="1826" x2="234.59" y2="1837" stroke="#484848" stroke-width="1.25" />
<line x1="253.35" y1="2181" x2="253.35" y2="2175.5" stroke="#484848" stroke-width="1.25" />
<line x1="253.35" y1="1826" x2="253.35" y2="1831.5" stroke="#484848" stroke-width="1.25" />
<line x1="272.1" y1="2181" x2="272.1" y2="2175.5" stroke="#484848" stroke-width="1.25" />
<line x1="272.1" y1="1826" x2="272.1" y2="1831.5" stroke="#484848" stroke-width="1.25" />
<line x1="290.86" y1="2181" x2="290.86" y2="2175.5" stroke="#484848" stroke-width="1.25" />
<line x1="290.86" y1="1826" x2="290.86" y2="1831.5" stroke="#484848" stroke-width="1.25" />
<line x1="309.62" y1="2181" x2="309.62" y2="2175.5" stroke="#484848" stroke-width="1.25" />
<line x1="309.62" y1="1826" x2="309.62" y2="1831.5" stroke="#484848" stroke-width="1.25" />
<line x1="328.38" y1="2181" x2="328.38" y2="2170" stroke="#484848" stroke-width="1.25" />
<line x1="328.38" y1="1826" x2="328.38" y2="1837" stroke="#484848" stroke-width="1.25" />
<line x1="347.14" y1="2181" x2="347.14" y2="2175.5" stroke="#484848" stroke-width="1.25" />
<line x1="347.14" y1="1826" x2="347.14" y2="1831.5" stroke="#484848" stroke-width="1.25" />
<line x1="365.89" y1="2181" x2="365.89" y2="2175.5" stroke="#484848" stroke-width="1.25" />
<line x1="365.89" y1="1826" x2="365.89" y2="1831.5" stroke="#484848" stroke-width="1.25" />
<line x1="384.65" y1="2181" x2="384.65" y2="2175.5" stroke="#484848" stroke-width="1.25" />
<line x1="384.65" y1="1826" x2="384.65" y2="1831.5" stroke="#484848" stroke-width="1.25" />
<line x1="403.41" y1="2181" x2="403.41" y2="2175.5" stroke="#484848" stroke-width="1.25" />
<line x1="403.41" y1="1826" x2="403.41" y2="1831.5" stroke="#484848" stroke-width="1.25" />
<line x1="422.17" y1="2181" x2="422.17" y2="2170" stroke="#484848" stroke-width="1.25" />
<line x1="422.17" y1="1826" x2="422.17" y2="1837" stroke="#484848" stroke-width="1.25" />
<line x1="440.92" y1="2181" x2="440.92" y2="2175.5" stroke="#484848" stroke-width="1.25" />
<line x1="440.92" y1="1826" x2="440.92" y2="1831.5" stroke="#484848" stroke-width="1.25" />
<line x1="459.68" y1="2181" x2="459.68" y2="2175.5" stroke="#484848" stroke-width="1.25" />
<line x1="459.68" y1="1826" x2="459.68" y2="1831.5" stroke="#484848" stroke-width="1.25" />
<line x1="478.44" y1="2181" x2="478.44" y2="2175.5" stroke="#484848" stroke-width="1.25" />
<line x1="478.44" y1="1826" x2="478.44" y2="1831.5" stroke="#484848" stroke-width="1.25" />
<line x1="497.2" y1="2181" x2="497.2" y2="2175.5" stroke="#484848" stroke-width="1.25" />
<line x1="497.2" y1="1826" x2="497.2" y2="1831.5" stroke="#484848" stroke-width="1.25" />
<line x1="515.96" y1="2181" x2="515.96" y2="2170" stroke="#484848" stroke-width="1.25" />
<line x1="515.96" y1="1826" x2="515.96" y2="1837" stroke="#484848" stroke-width="1.25" />
<line x1="534.71" y1="2181" x2="534.71" y2="2175.5" stroke="#484848" stroke-width="1.25" />
<line x1="534.71" y1="1826" x2="534.71" y2="1831.5" stroke="#484848" stroke-width="1.25" />
<line x1="553.47" y1="2181" x2="553.47" y2="2175.5" stroke="#484848" stroke-width="1.25" />
<line x1="553.47" y1="1826" x2="553.47" y2="1831.5" stroke="#484848" stroke-width="1.25" />
<line x1="572.23" y1="2181" x2="572.23" y2="2175.5" stroke="#484848" stroke-width="1.25" />
<line x1="572.23" y1="1826" x2="572.23" y2="1831.5" stroke="#484848" stroke-width="1.25" />
<line x1="590.99" y1="2181" x2="590.99" y2="2175.5" stroke="#484848" stroke-width="1.25" />
<line x1="590.99" y1="1826" x2="590.99" y2="1831.5" stroke="#484848" stroke-width="1.25" />
<line x1="609.74" y1="2181" x2="609.74" y2="2170" stroke="#484848" stroke-width="1.25" />
<line x1="609.74" y1="1826" x2="609.74" y2="1837" stroke="#484848" stroke-width="1.25" />
<line x1="628.5" y1="2181" x2="628.5" y2="2175.5" stroke="#484848" stroke-width="1.25" />
<line x1="628.5" y1="1826" x2="628.5" y2="1831.5" stroke="#484848" stroke-width="1.25" />
<line x1="647.26" y1="2181" x2="647.26" y2="2175.5" stroke="#484848" stroke-width="1.25" />
<line x1="647.26" y1="1826" x2="647.26" y2="1831.5" stroke="#484848" stroke-width="1.25" />
<line x1="666.02" y1="2181" x2="666.02" y2="2175.5" stroke="#484848" stroke-width="1.25" />
<line x1="666.02" y1="1826" x2="666.02" y2="1831.5" stroke="#484848" stroke-width="1.25" />
<line x1="684.78" y1="2181" x2="684.78" y2="2175.5" stroke="#484848" stroke-width="1.25" />
<line x1="684.78" y1="1826" x2="684.78" y2="1831.5" stroke="#484848" stroke-width="1.25" />
<line x1="703.53" y1="2181" x2="703.53" y2="2170" stroke="#484848" stroke-width="1.25" />
<line x1="703.53" y1="1826" x2="703.53" y2="1837" stroke="#484848" stroke-width="1.25" />
<line x1="722.29" y1="2181" x2="722.29" y2="2175.5" stroke="#484848" stroke-width="1.25" />
<line x1="722.29" y1="1826" x2="722.29" y2="1831.5" stroke="#484848" stroke-width="1.25" />
<line x1="741.05" y1="2181" x2="741.05" y2="2175.5" stroke="#484848" stroke-width="1.25" />
<line x1="741.05" y1="1826" x2="741.05" y2="1831.5" stroke="#484848" stroke-width="1.25" />
<line x1="759.81" y1="2181" x2="759.81" y2="2175.5" stroke="#484848" stroke-width="1.25" />
<line x1="759.81" y1="1826" x2="759.81" y2="1831.5" stroke="#484848" stroke-width="1.25" />
<line x1="778.56" y1="2181" x2="778.56" y2="2175.5" stroke="#484848" stroke-width="1.25" />
<line x1="778.56" y1="1826" x2="778.56" y2="1831.5" stroke="#484848" stroke-width="1.25" />
<line x1="797.32" y1="2181" x2="797.32" y2="2170" stroke="#484848" stroke-width="1.25" />
<line x1="797.32" y1="1826" x2="797.32" y2="1837" stroke="#484848" stroke-width="1.25" />
<line x1="816.08" y1="2181" x2="816.08" y2="2175.5" stroke="#484848" stroke-width="1.25" />
<line x1="816.08" y1="1826" x2="816.08" y2="1831.5" stroke="#484848" stroke-width="1.25" />
<line x1="834.84" y1="2181" x2="834.84" y2="2175.5" stroke="#484848" stroke-width="1.25" />
<line x1="834.84" y1="1826" x2="834.84" y2="1831.5" stroke="#484848" stroke-width="1.25" />
<line x1="853.6" y1="2181" x2="853.6" y2="2175.5" stroke="#484848" stroke-width="1.25" />
<line x1="853.6" y1="1826" x2="853.6" y2="1831.5" stroke="#484848" stroke-width="1.25" />
<line x1="872.35" y1="2181" x2="872.35" y2="2175.5" stroke="#484848" stroke-width="1.25" />
<line x1="872.35" y1="1826" x2="872.35" y2="1831.5" stroke="#484848" stroke-width="1.25" />
<line x1="891.11" y1="2181" x2="891.11" y2="2170" stroke="#484848" stroke-width="1.25" />
<line x1="891.11" y1="1826" x2="891.11" y2="1837" stroke="#484848" stroke-width="1.25" />
<line x1="909.87" y1="2181" x2="909.87" y2="2175.5" stroke="#484848" stroke-width="1.25" />
<line x1="909.87" y1="1826" x2="909.87" y2="1831.5" stroke="#484848" stroke-width="1.25" />
<line x1="928.63" y1="2181" x2="928.63" y2="2175.5" stroke="#484848" stroke-width="1.25" />
<line x1="928.63" y1="1826" x2="928.63" y2="1831.5" stroke="#484848" stroke-width="1.25" />
<line x1="947.38" y1="2181" x2="947.38" y2="2175.5" stroke="#484848" stroke-width="1.25" />
<line x1="947.38" y1="1826" x2="947.38" y2="1831.5" stroke="#484848" stroke-width="1.25" />
<line x1="966.14" y1="2181" x2="966.14" y2="2175.5" stroke="#484848" stroke-width="1.25" />
<line x1="966.14" y1="1826" x2="966.14" y2="1831.5" stroke="#484848" stroke-width="1.25" />
<line x1="140.8" y1="2166.8" x2="150.4" y2="2166.8" stroke="#484848" stroke-width="1.25" />
<line x1="984.9" y1="2166.8" x2="975.3" y2="2166.8" stroke="#484848" stroke-width="1.25" />
<line x1="140.8" y1="2152.6" x2="150.4" y2="2152.6" stroke="#484848" stroke-width="1.25" />
<line x1="984.9" y1="2152.6" x2="975.3" y2="2152.6" stroke="#484848" stroke-width="1.25" />
<line x1="140.8" y1="2138.4" x2="150.4" y2="2138.4" stroke="#484848" stroke-width="1.25" />
<line x1="984.9" y1="2138.4" x2="975.3" y2="2138.4" stroke="#484848" stroke-width="1.25" />
<line x1="140.8" y1="2124.2" x2="150.4" y2="2124.2" stroke="#484848" stroke-width="1.25" />
<line x1="984.9" y1="2124.2" x2="975.3" y2="2124.2" stroke="#484848" stroke-width="1.25" />
<line x1="140.8" y1="2110" x2="159.8" y2="2110" stroke="#484848" stroke-width="1.25" />
<line x1="984.9" y1="2110" x2="965.9" y2="2110" stroke="#484848" stroke-width="1.25" />
<line x1="140.8" y1="2095.8" x2="150.4" y2="2095.8" stroke="#484848" stroke-width="1.25" />
<line x1="984.9" y1="2095.8" x2="975.3" y2="2095.8" stroke="#484848" stroke-width="1.25" />
<line x1="140.8" y1="2081.6" x2="150.4" y2="2081.6" stroke="#484848" stroke-width="1.25" />
<line x1="984.9" y1="2081.6" x2="975.3" y2="2081.6" stroke="#484848" stroke-width="1.25" />
<line x1="140.8" y1="2067.4" x2="150.4" y2="2067.4" stroke="#484848" stroke-width="1.25" />
<line x1="984.9" y1="2067.4" x2="975.3" y2="2067.4" stroke="#484848" stroke-width="1.25" />
<line x1="140.8" y1="2053.2" x2="150.4" y2="2053.2" stroke="#484848" stroke-width="1.25" />
<line x1="984.9" y1="2053.2" x2="975.3" y2="2053.2" stroke="#484848" stroke-width="1.25" />
<line x1="140.8" y1="2039" x2="159.8" y2="2039" stroke="#484848" stroke-width="1.25" />
<line x1="984.9" y1="2039" x2="965.9" y2="2039" stroke="#484848" stroke-width="1.25" />
<line x1="140.8" y1="2024.8" x2="150.4" y2="2024.8" stroke="#484848" stroke-width="1.25" />
<line x1="984.9" y1="2024.8" x2="975.3" y2="2024.8" stroke="#484848" stroke-width="1.25" />
<line x1="140.8" y1="2010.6" x2="150.4" y2="2010.6" stroke="#484848" stroke-width="1.25" />
<line x1="984.9" y1="2010.6" x2="975.3" y2="2010.6" stroke="#484848" stroke-width="1.25" />
<line x1="140.8" y1="1996.4" x2="150.4" y2="1996.4" stroke="#484848" stroke-width="1.25" />
<line x1="984.9" y1="1996.4" x2="975.3" y2="1996.4" stroke="#484848" stroke-width="1.25" />
<line x1="140.8" y1="1982.2" x2="150.4" y2="1982.2" stroke="#484848" stroke-width="1.25" />
<line x1="984.9" y1="1982.2" x2="975.3" y2="1982.2" stroke="#484848" stroke-width="1.25" />
<line x1="140.8" y1="1968" x2="159.8" y2="1968" stroke="#484848" stroke-width="1.25" />
<line x1="984.9" y1="1968" x2="965.9" y2="1968" stroke="#484848" stroke-width="1.25" />
<line x1="140.8" y1="1953.8" x2="150.4" y2="1953.8" stroke="#484848" stroke-width="1.25" />
<line x1="984.9" y1="1953.8" x2="975.3" y2="1953.8" stroke="#484848" stroke-width="1.25" />
<line x1="140.8" y1="1939.6" x2="150.4" y2="1939.6" stroke="#484848" stroke-width="1.25" />
<line x1="984.9" y1="1939.6" x2="975.3" y2="1939.6" stroke="#484848" stroke-width="1.25" />
<line x1="140.8" y1="1925.4" x2="150.4" y2="1925.4" stroke="#484848" stroke-width="1.25" />
<line x1="984.9" y1="1925.4" x2="975.3" y2="1925.4" stroke="#484848" stroke-width="1.25" />
<line x1="140.8" y1="1911.2" x2="150.4" y2="1911.2" stroke="#484848" stroke-width="1.25" />
<line x1="984.9" y1="1911.2" x2="975.3" y2="1911.2" stroke="#484848" stroke-width="1.25" />
<line x1="140.8" y1="1897" x2="159.8" y2="1897" stroke="#484848" stroke-width="1.25" />
<line x1="984.9" y1="1897" x2="965.9" y2="1897" stroke="#484848" stroke-width="1.25" />
<line x1="140.8" y1="1882.8" x2="150.4" y2="1882.8" stroke="#484848" stroke-width="1.25" />
<line x1="984.9" y1="1882.8" x2="975.3" y2="1882.8" stroke="#484848" stroke-width="1.25" />
<line x1="140.8" y1="1868.6" x2="150.4" y2="1868.6" stroke="#484848" stroke-width="1.25" />
<line x1="984.9" y1="1868.6" x2="975.3" y2="1868.6" stroke="#484848" stroke-width="1.25" />
<line x1="140.8" y1="1854.4" x2="150.4" y2="1854.4" stroke="#484848" stroke-width="1.25" />
<line x1="984.9" y1="1854.4" x2="975.3" y2="1854.4" stroke="#484848" stroke-width="1.25" />
<line x1="140.8" y1="1840.2" x2="150.4" y2="1840.2" stroke="#484848" stroke-width="1.25" />
<line x1="984.9" y1="1840.2" x2="975.3" y2="1840.2" stroke="#484848" stroke-width="1.25" />
<text x="112.7" y="1840.8" font-size="34" text-anchor="end" fill="#222" >1.0</text>
<text x="112.7" y="1910.4" font-size="34" text-anchor="end" fill="#222" >0.8</text>
<text x="112.7" y="1981" font-size="34" text-anchor="end" fill="#222" >0.6</text>
<text x="112.7" y="2052" font-size="34" text-anchor="end" fill="#222" >0.4</text>
<text x="112.7" y="2123" font-size="34" text-anchor="end" fill="#222" >0.2</text>
<text x="112.7" y="2190" font-size="34" text-anchor="end" fill="#222" >0</text>
<text x="138.8" y="2219" font-size="34" text-anchor="middle" fill="#222" >0</text>
<text x="231.09" y="2219" font-size="34" text-anchor="middle" fill="#222" >10</text>
<text x="326.38" y="2219" font-size="34" text-anchor="middle" fill="#222" >20</text>
<text x="420.17" y="2219" font-size="34" text-anchor="middle" fill="#222" >30</text>
<text x="513.96" y="2219" font-size="34" text-anchor="middle" fill="#222" >40</text>
<text x="607.74" y="2219" font-size="34" text-anchor="middle" fill="#222" >50</text>
<text x="701.53" y="2219" font-size="34" text-anchor="middle" fill="#222" >60</text>
<text x="795.32" y="2219" font-size="34" text-anchor="middle" fill="#222" >70</text>
<text x="889.11" y="2219" font-size="34" text-anchor="middle" fill="#222" >80</text>
<text x="977.9" y="2219" font-size="34" text-anchor="middle" fill="#222" >90</text>
<path d="M140.8,2181 L145.49,2181 L150.18,2181 L154.87,2181 L159.56,2181 L164.25,2180.99 L168.94,2180.98 L173.63,2180.98 L178.32,2180.96 L183,2180.95 L187.69,2180.93 L192.38,2180.9 L197.07,2180.88 L201.76,2180.84 L206.45,2180.8 L211.14,2180.76 L215.83,2180.71 L220.52,2180.65 L225.21,2180.58 L229.9,2180.51 L234.59,2180.43 L239.28,2180.34 L243.97,2180.24 L248.66,2180.13 L253.35,2180.01 L258.04,2179.88 L262.73,2179.74 L267.41,2179.59 L272.1,2179.43 L276.79,2179.26 L281.48,2179.07 L286.17,2178.87 L290.86,2178.66 L295.55,2178.44 L300.24,2178.2 L304.93,2177.94 L309.62,2177.68 L314.31,2177.39 L319,2177.1 L323.69,2176.78 L328.38,2176.45 L333.07,2176.11 L337.76,2175.74 L342.45,2175.36 L347.14,2174.96 L351.82,2174.55 L356.51,2174.11 L361.2,2173.66 L365.89,2173.19 L370.58,2172.7 L375.27,2172.19 L379.96,2171.65 L384.65,2171.1 L389.34,2170.53 L394.03,2169.94 L398.72,2169.32 L403.41,2168.69 L408.1,2168.03 L412.79,2167.35 L417.48,2166.64 L422.17,2165.92 L426.86,2165.17 L431.55,2164.39 L436.23,2163.6 L440.92,2162.77 L445.61,2161.93 L450.3,2161.06 L454.99,2160.16 L459.68,2159.24 L464.37,2158.3 L469.06,2157.33 L473.75,2156.33 L478.44,2155.31 L483.13,2154.26 L487.82,2153.18 L492.51,2152.08 L497.2,2150.95 L501.89,2149.8 L506.58,2148.61 L511.27,2147.4 L515.96,2146.16 L520.64,2144.9 L525.33,2143.6 L530.02,2142.28 L534.71,2140.93 L539.4,2139.55 L544.09,2138.14 L548.78,2136.7 L553.47,2135.24 L558.16,2133.74 L562.85,2132.22 L567.54,2130.67 L572.23,2129.09 L576.92,2127.48 L581.61,2125.84 L586.3,2124.17 L590.99,2122.47 L595.68,2120.74 L600.37,2118.99 L605.05,2117.2 L609.74,2115.39 L614.43,2113.54 L619.12,2111.67 L623.81,2109.77 L628.5,2107.83 L633.19,2105.87 L637.88,2103.88 L642.57,2101.86 L647.26,2099.81 L651.95,2097.74 L656.64,2095.63 L661.33,2093.5 L666.02,2091.33 L670.71,2089.14 L675.4,2086.92 L680.09,2084.67 L684.78,2082.4 L689.46,2080.1 L694.15,2077.77 L698.84,2075.41 L703.53,2073.03 L708.22,2070.61 L712.91,2068.18 L717.6,2065.71 L722.29,2063.23 L726.98,2060.71 L731.67,2058.17 L736.36,2055.6 L741.05,2053.02 L745.74,2050.4 L750.43,2047.76 L755.12,2045.1 L759.81,2042.42 L764.5,2039.71 L769.19,2036.98 L773.88,2034.23 L778.56,2031.45 L783.25,2028.66 L787.94,2025.85 L792.63,2023.01 L797.32,2020.16 L802.01,2017.28 L806.7,2014.39 L811.39,2011.48 L816.08,2008.55 L820.77,2005.61 L825.46,2002.64 L830.15,1999.67 L834.84,1996.67 L839.53,1993.67 L844.22,1990.64 L848.91,1987.61 L853.6,1984.56 L858.28,1981.5 L862.97,1978.43 L867.66,1975.35 L872.35,1972.26 L877.04,1969.15 L881.73,1966.04 L886.42,1962.92 L891.11,1959.8 L895.8,1956.67 L900.49,1953.53 L905.18,1950.39 L909.87,1947.24 L914.56,1944.09 L919.25,1940.94 L923.94,1937.78 L928.63,1934.63 L933.32,1931.47 L938.01,1928.32 L942.69,1925.16 L947.38,1922.01 L952.07,1918.86 L956.76,1915.72 L961.45,1912.58 L966.14,1909.45 L970.83,1906.32 L975.52,1903.21 L980.21,1900.1 L984.9,1897" fill="none" stroke="#222" stroke-width="1.7" stroke-dasharray="1.5 1.5"/>
<path d="M253.35,2180.29 L258.04,2180.19 L262.73,2180.1 L267.41,2179.99 L272.1,2179.87 L276.79,2179.74 L281.48,2179.62 L286.17,2179.47 L290.86,2179.32 L295.55,2179.15 L300.24,2178.99 L304.93,2178.8 L309.62,2178.61 L314.31,2178.4 L319,2178.19 L323.69,2177.96 L328.38,2177.73 L333.07,2177.47 L337.76,2177.22 L342.45,2176.94 L347.14,2176.66 L351.82,2176.35 L356.51,2176.05 L361.2,2175.71 L365.89,2175.38 L370.58,2175.02 L375.27,2174.66 L379.96,2174.27 L384.65,2173.88 L389.34,2173.46 L394.03,2173.04 L398.72,2172.59 L403.41,2172.13 L408.1,2171.65 L412.79,2171.17 L417.48,2170.65 L422.17,2170.14 L426.86,2169.59 L431.55,2169.04 L436.23,2168.46 L440.92,2167.87 L445.61,2167.25 L450.3,2166.64 L454.99,2165.98 L459.68,2165.33 L464.37,2164.64 L469.06,2163.94 L473.75,2163.22 L478.44,2162.49 L483.13,2161.72 L487.82,2160.95 L492.51,2160.15 L497.2,2159.34 L501.89,2158.5 L506.58,2157.66 L511.27,2156.77 L515.96,2155.89 L520.64,2154.96 L525.33,2154.04 L530.02,2153.07 L534.71,2152.11 L539.4,2151.1 L544.09,2150.09 L548.78,2149.05 L553.47,2148 L558.16,2146.91 L562.85,2145.82 L567.54,2144.69 L572.23,2143.55 L576.92,2142.38 L581.61,2141.2 L586.3,2139.99 L590.99,2138.77 L595.68,2137.51 L600.37,2136.25 L605.05,2134.95 L609.74,2133.64 L614.43,2132.3 L619.12,2130.95 L623.81,2129.56 L628.5,2128.18 L633.19,2126.75 L637.88,2125.31 L642.57,2123.84 L647.26,2122.37 L651.95,2120.85 L656.64,2119.34 L661.33,2117.78 L666.02,2116.22 L670.71,2114.62 L675.4,2113.02 L680.09,2111.38 L684.78,2109.74 L689.46,2108.06 L694.15,2106.38 L698.84,2104.65 L703.53,2102.93 L708.22,2101.17 L712.91,2099.41 L717.6,2097.61 L722.29,2095.81 L726.98,2093.97 L731.67,2092.13 L736.36,2090.25 L741.05,2088.38 L745.74,2086.46 L750.43,2084.55 L755.12,2082.6 L759.81,2080.65 L764.5,2078.67 L769.19,2076.69 L773.88,2074.67 L778.56,2072.65 L783.25,2070.61 L787.94,2068.56 L792.63,2066.48 L797.32,2064.4 L802.01,2062.29 L806.7,2060.18 L811.39,2058.04 L816.08,2055.9 L820.77,2053.74 L825.46,2051.58 L830.15,2049.39 L834.84,2047.2 L839.53,2044.98 L844.22,2042.77 L848.91,2040.53 L853.6,2038.3 L858.28,2036.04 L862.97,2033.79 L867.66,2031.51 L872.35,2029.24 L877.04,2026.95 L881.73,2024.66 L886.42,2022.35 L891.11,2020.05 L895.8,2017.73 L900.49,2015.41 L905.18,2013.09 L909.87,2010.76 L914.56,2008.42 L919.25,2006.09 L923.94,2003.75 L928.63,2001.4 L933.32,1999.06 L938.01,1996.71 L942.69,1994.37 L947.38,1992.02 L952.07,1989.68 L956.76,1987.33 L961.45,1984.99 L966.14,1982.65 L970.83,1980.31 L975.52,1977.98 L980.21,1975.65 L984.9,1973.33" fill="none" stroke="#222" stroke-width="1.9" stroke-dasharray="14.2 7.1"/>
<path d="M253.35,2180.41 L258.04,2180.33 L262.73,2180.25 L267.41,2180.16 L272.1,2180.06 L276.79,2179.96 L281.48,2179.85 L286.17,2179.73 L290.86,2179.6 L295.55,2179.46 L300.24,2179.32 L304.93,2179.17 L309.62,2179.01 L314.31,2178.84 L319,2178.67 L323.69,2178.47 L328.38,2178.28 L333.07,2178.07 L337.76,2177.85 L342.45,2177.62 L347.14,2177.39 L351.82,2177.13 L356.51,2176.88 L361.2,2176.6 L365.89,2176.32 L370.58,2176.02 L375.27,2175.72 L379.96,2175.4 L384.65,2175.07 L389.34,2174.72 L394.03,2174.37 L398.72,2174 L403.41,2173.62 L408.1,2173.22 L412.79,2172.82 L417.48,2172.39 L422.17,2171.96 L426.86,2171.5 L431.55,2171.05 L436.23,2170.56 L440.92,2170.08 L445.61,2169.56 L450.3,2169.05 L454.99,2168.5 L459.68,2167.96 L464.37,2167.38 L469.06,2166.81 L473.75,2166.2 L478.44,2165.6 L483.13,2164.96 L487.82,2164.32 L492.51,2163.65 L497.2,2162.98 L501.89,2162.28 L506.58,2161.57 L511.27,2160.84 L515.96,2160.1 L520.64,2159.33 L525.33,2158.56 L530.02,2157.76 L534.71,2156.96 L539.4,2156.12 L544.09,2155.28 L548.78,2154.41 L553.47,2153.54 L558.16,2152.63 L562.85,2151.73 L567.54,2150.78 L572.23,2149.84 L576.92,2148.86 L581.61,2147.89 L586.3,2146.88 L590.99,2145.86 L595.68,2144.81 L600.37,2143.77 L605.05,2142.68 L609.74,2141.6 L614.43,2140.48 L619.12,2139.36 L623.81,2138.21 L628.5,2137.05 L633.19,2135.86 L637.88,2134.67 L642.57,2133.45 L647.26,2132.22 L651.95,2130.96 L656.64,2129.7 L661.33,2128.41 L666.02,2127.11 L670.71,2125.78 L675.4,2124.45 L680.09,2123.09 L684.78,2121.72 L689.46,2120.33 L694.15,2118.93 L698.84,2117.5 L703.53,2116.07 L708.22,2114.6 L712.91,2113.14 L717.6,2111.64 L722.29,2110.15 L726.98,2108.62 L731.67,2107.09 L736.36,2105.54 L741.05,2103.98 L745.74,2102.39 L750.43,2100.8 L755.12,2099.18 L759.81,2097.57 L764.5,2095.92 L769.19,2094.28 L773.88,2092.6 L778.56,2090.93 L783.25,2089.23 L787.94,2087.53 L792.63,2085.81 L797.32,2084.08 L802.01,2082.33 L806.7,2080.58 L811.39,2078.81 L816.08,2077.04 L820.77,2075.25 L825.46,2073.45 L830.15,2071.64 L834.84,2069.82 L839.53,2067.99 L844.22,2066.16 L848.91,2064.31 L853.6,2062.46 L858.28,2060.59 L862.97,2058.72 L867.66,2056.84 L872.35,2054.96 L877.04,2053.07 L881.73,2051.17 L886.42,2049.27 L891.11,2047.36 L895.8,2045.45 L900.49,2043.53 L905.18,2041.61 L909.87,2039.69 L914.56,2037.76 L919.25,2035.83 L923.94,2033.9 L928.63,2031.96 L933.32,2030.03 L938.01,2028.09 L942.69,2026.16 L947.38,2024.22 L952.07,2022.29 L956.76,2020.36 L961.45,2018.43 L966.14,2016.5 L970.83,2014.58 L975.52,2012.65 L980.21,2010.74 L984.9,2008.83" fill="none" stroke="#222" stroke-width="1.9" />
<path d="M253.35,2180.54 L258.04,2180.48 L262.73,2180.41 L267.41,2180.34 L272.1,2180.27 L276.79,2180.18 L281.48,2180.1 L286.17,2180 L290.86,2179.91 L295.55,2179.8 L300.24,2179.69 L304.93,2179.57 L309.62,2179.45 L314.31,2179.31 L319,2179.18 L323.69,2179.03 L328.38,2178.88 L333.07,2178.71 L337.76,2178.55 L342.45,2178.36 L347.14,2178.18 L351.82,2177.98 L356.51,2177.78 L361.2,2177.57 L365.89,2177.35 L370.58,2177.12 L375.27,2176.88 L379.96,2176.63 L384.65,2176.38 L389.34,2176.11 L394.03,2175.83 L398.72,2175.54 L403.41,2175.25 L408.1,2174.94 L412.79,2174.62 L417.48,2174.29 L422.17,2173.96 L426.86,2173.6 L431.55,2173.24 L436.23,2172.87 L440.92,2172.49 L445.61,2172.09 L450.3,2171.69 L454.99,2171.27 L459.68,2170.84 L464.37,2170.4 L469.06,2169.95 L473.75,2169.48 L478.44,2169.01 L483.13,2168.51 L487.82,2168.02 L492.51,2167.5 L497.2,2166.98 L501.89,2166.43 L506.58,2165.89 L511.27,2165.32 L515.96,2164.75 L520.64,2164.15 L525.33,2163.56 L530.02,2162.94 L534.71,2162.31 L539.4,2161.67 L544.09,2161.02 L548.78,2160.34 L553.47,2159.67 L558.16,2158.97 L562.85,2158.27 L567.54,2157.54 L572.23,2156.81 L576.92,2156.06 L581.61,2155.31 L586.3,2154.53 L590.99,2153.75 L595.68,2152.94 L600.37,2152.13 L605.05,2151.3 L609.74,2150.46 L614.43,2149.6 L619.12,2148.74 L623.81,2147.86 L628.5,2146.97 L633.19,2146.06 L637.88,2145.14 L642.57,2144.2 L647.26,2143.26 L651.95,2142.3 L656.64,2141.33 L661.33,2140.34 L666.02,2139.35 L670.71,2138.33 L675.4,2137.32 L680.09,2136.28 L684.78,2135.24 L689.46,2134.17 L694.15,2133.11 L698.84,2132.02 L703.53,2130.93 L708.22,2129.82 L712.91,2128.7 L717.6,2127.57 L722.29,2126.43 L726.98,2125.27 L731.67,2124.12 L736.36,2122.94 L741.05,2121.76 L745.74,2120.56 L750.43,2119.36 L755.12,2118.14 L759.81,2116.92 L764.5,2115.68 L769.19,2114.44 L773.88,2113.18 L778.56,2111.93 L783.25,2110.65 L787.94,2109.38 L792.63,2108.09 L797.32,2106.8 L802.01,2105.49 L806.7,2104.18 L811.39,2102.86 L816.08,2101.54 L820.77,2100.21 L825.46,2098.88 L830.15,2097.53 L834.84,2096.18 L839.53,2094.83 L844.22,2093.47 L848.91,2092.11 L853.6,2090.74 L858.28,2089.37 L862.97,2087.99 L867.66,2086.61 L872.35,2085.23 L877.04,2083.85 L881.73,2082.46 L886.42,2081.07 L891.11,2079.68 L895.8,2078.29 L900.49,2076.9 L905.18,2075.5 L909.87,2074.11 L914.56,2072.72 L919.25,2071.33 L923.94,2069.94 L928.63,2068.55 L933.32,2067.16 L938.01,2065.77 L942.69,2064.39 L947.38,2063.01 L952.07,2061.64 L956.76,2060.26 L961.45,2058.9 L966.14,2057.53 L970.83,2056.18 L975.52,2054.82 L980.21,2053.48 L984.9,2052.14" fill="none" stroke="#222" stroke-width="1.9" stroke-dasharray="40 7.25"/>
<path d="M253.35,2180.6 L258.04,2180.55 L262.73,2180.49 L267.41,2180.43 L272.1,2180.37 L276.79,2180.29 L281.48,2180.22 L286.17,2180.14 L290.86,2180.05 L295.55,2179.96 L300.24,2179.87 L304.93,2179.76 L309.62,2179.65 L314.31,2179.54 L319,2179.42 L323.69,2179.29 L328.38,2179.16 L333.07,2179.01 L337.76,2178.87 L342.45,2178.71 L347.14,2178.56 L351.82,2178.38 L356.51,2178.21 L361.2,2178.02 L365.89,2177.84 L370.58,2177.63 L375.27,2177.43 L379.96,2177.21 L384.65,2176.99 L389.34,2176.76 L394.03,2176.52 L398.72,2176.27 L403.41,2176.02 L408.1,2175.75 L412.79,2175.48 L417.48,2175.19 L422.17,2174.9 L426.86,2174.59 L431.55,2174.28 L436.23,2173.96 L440.92,2173.63 L445.61,2173.29 L450.3,2172.94 L454.99,2172.58 L459.68,2172.21 L464.37,2171.83 L469.06,2171.44 L473.75,2171.04 L478.44,2170.63 L483.13,2170.2 L487.82,2169.78 L492.51,2169.33 L497.2,2168.88 L501.89,2168.41 L506.58,2167.94 L511.27,2167.45 L515.96,2166.96 L520.64,2166.45 L525.33,2165.94 L530.02,2165.41 L534.71,2164.87 L539.4,2164.32 L544.09,2163.76 L548.78,2163.18 L553.47,2162.61 L558.16,2162 L562.85,2161.4 L567.54,2160.78 L572.23,2160.16 L576.92,2159.52 L581.61,2158.87 L586.3,2158.2 L590.99,2157.54 L595.68,2156.85 L600.37,2156.16 L605.05,2155.45 L609.74,2154.74 L614.43,2154.01 L619.12,2153.27 L623.81,2152.52 L628.5,2151.76 L633.19,2150.99 L637.88,2150.21 L642.57,2149.42 L647.26,2148.62 L651.95,2147.8 L656.64,2146.98 L661.33,2146.15 L666.02,2145.31 L670.71,2144.45 L675.4,2143.59 L680.09,2142.71 L684.78,2141.84 L689.46,2140.94 L694.15,2140.04 L698.84,2139.13 L703.53,2138.21 L708.22,2137.28 L712.91,2136.35 L717.6,2135.4 L722.29,2134.45 L726.98,2133.48 L731.67,2132.51 L736.36,2131.53 L741.05,2130.55 L745.74,2129.55 L750.43,2128.56 L755.12,2127.54 L759.81,2126.53 L764.5,2125.51 L769.19,2124.48 L773.88,2123.45 L778.56,2122.41 L783.25,2121.36 L787.94,2120.31 L792.63,2119.26 L797.32,2118.2 L802.01,2117.13 L806.7,2116.06 L811.39,2114.99 L816.08,2113.91 L820.77,2112.83 L825.46,2111.75 L830.15,2110.66 L834.84,2109.57 L839.53,2108.48 L844.22,2107.39 L848.91,2106.29 L853.6,2105.2 L858.28,2104.1 L862.97,2103.01 L867.66,2101.91 L872.35,2100.81 L877.04,2099.72 L881.73,2098.62 L886.42,2097.53 L891.11,2096.44 L895.8,2095.35 L900.49,2094.26 L905.18,2093.18 L909.87,2092.1 L914.56,2091.02 L919.25,2089.95 L923.94,2088.88 L928.63,2087.81 L933.32,2086.76 L938.01,2085.7 L942.69,2084.66 L947.38,2083.61 L952.07,2082.58 L956.76,2081.55 L961.45,2080.54 L966.14,2079.52 L970.83,2078.52 L975.52,2077.52 L980.21,2076.54 L984.9,2075.57" fill="none" stroke="#222" stroke-width="1.9" stroke-dasharray="33 7.1 7.1 7.1"/>
<line x1="195.8" y1="1858" x2="331.3" y2="1858" stroke="#222" stroke-width="2.3" stroke-dasharray="2.2 2.57"/>
<text x="352" y="1869.6" font-size="37.5" text-anchor="start" fill="#222" >p/L= 0</text>
<line x1="195.8" y1="1911.3" x2="331.3" y2="1911.3" stroke="#222" stroke-width="2.3" stroke-dasharray="14.2 7.1"/>
<text x="352" y="1922.9" font-size="37.5" text-anchor="start" fill="#222" >p/L=0.6, r<tspan font-size="25">0</tspan>/L= 0.6</text>
<line x1="195.8" y1="1963.3" x2="331.3" y2="1963.3" stroke="#222" stroke-width="2.3" />
<text x="352" y="1974.9" font-size="37.5" text-anchor="start" fill="#222" >p/L=0.6, r<tspan font-size="25">0</tspan>/L= 0.4</text>
<line x1="195.8" y1="2016.7" x2="331.3" y2="2016.7" stroke="#222" stroke-width="2.3" stroke-dasharray="40 7.25"/>
<text x="352" y="2028.3" font-size="37.5" text-anchor="start" fill="#222" >p/L=0.6, r<tspan font-size="25">0</tspan>/L= 0.2</text>
<line x1="195.8" y1="2068.7" x2="331.3" y2="2068.7" stroke="#222" stroke-width="2.3" stroke-dasharray="33 7.1 7.1 7.1"/>
<text x="352" y="2080.3" font-size="37.5" text-anchor="start" fill="#222" >p/L=0.6, r<tspan font-size="25">0</tspan>/L= 0.1</text>
<text transform="translate(36,2009) scale(1,0.985) rotate(-90)" font-size="43" text-anchor="middle" fill="#222">SA [mm]</text>
<rect x="141" y="2234.7" width="843.6" height="354.7" fill="none" stroke="#484848" stroke-width="1.25"/>
<line x1="159.75" y1="2589.4" x2="159.75" y2="2583.9" stroke="#484848" stroke-width="1.25" />
<line x1="159.75" y1="2234.7" x2="159.75" y2="2240.2" stroke="#484848" stroke-width="1.25" />
<line x1="178.49" y1="2589.4" x2="178.49" y2="2583.9" stroke="#484848" stroke-width="1.25" />
<line x1="178.49" y1="2234.7" x2="178.49" y2="2240.2" stroke="#484848" stroke-width="1.25" />
<line x1="197.24" y1="2589.4" x2="197.24" y2="2583.9" stroke="#484848" stroke-width="1.25" />
<line x1="197.24" y1="2234.7" x2="197.24" y2="2240.2" stroke="#484848" stroke-width="1.25" />
<line x1="215.99" y1="2589.4" x2="215.99" y2="2583.9" stroke="#484848" stroke-width="1.25" />
<line x1="215.99" y1="2234.7" x2="215.99" y2="2240.2" stroke="#484848" stroke-width="1.25" />
<line x1="234.73" y1="2589.4" x2="234.73" y2="2578.4" stroke="#484848" stroke-width="1.25" />
<line x1="234.73" y1="2234.7" x2="234.73" y2="2245.7" stroke="#484848" stroke-width="1.25" />
<line x1="253.48" y1="2589.4" x2="253.48" y2="2583.9" stroke="#484848" stroke-width="1.25" />
<line x1="253.48" y1="2234.7" x2="253.48" y2="2240.2" stroke="#484848" stroke-width="1.25" />
<line x1="272.23" y1="2589.4" x2="272.23" y2="2583.9" stroke="#484848" stroke-width="1.25" />
<line x1="272.23" y1="2234.7" x2="272.23" y2="2240.2" stroke="#484848" stroke-width="1.25" />
<line x1="290.97" y1="2589.4" x2="290.97" y2="2583.9" stroke="#484848" stroke-width="1.25" />
<line x1="290.97" y1="2234.7" x2="290.97" y2="2240.2" stroke="#484848" stroke-width="1.25" />
<line x1="309.72" y1="2589.4" x2="309.72" y2="2583.9" stroke="#484848" stroke-width="1.25" />
<line x1="309.72" y1="2234.7" x2="309.72" y2="2240.2" stroke="#484848" stroke-width="1.25" />
<line x1="328.47" y1="2589.4" x2="328.47" y2="2578.4" stroke="#484848" stroke-width="1.25" />
<line x1="328.47" y1="2234.7" x2="328.47" y2="2245.7" stroke="#484848" stroke-width="1.25" />
<line x1="347.21" y1="2589.4" x2="347.21" y2="2583.9" stroke="#484848" stroke-width="1.25" />
<line x1="347.21" y1="2234.7" x2="347.21" y2="2240.2" stroke="#484848" stroke-width="1.25" />
<line x1="365.96" y1="2589.4" x2="365.96" y2="2583.9" stroke="#484848" stroke-width="1.25" />
<line x1="365.96" y1="2234.7" x2="365.96" y2="2240.2" stroke="#484848" stroke-width="1.25" />
<line x1="384.71" y1="2589.4" x2="384.71" y2="2583.9" stroke="#484848" stroke-width="1.25" />
<line x1="384.71" y1="2234.7" x2="384.71" y2="2240.2" stroke="#484848" stroke-width="1.25" />
<line x1="403.45" y1="2589.4" x2="403.45" y2="2583.9" stroke="#484848" stroke-width="1.25" />
<line x1="403.45" y1="2234.7" x2="403.45" y2="2240.2" stroke="#484848" stroke-width="1.25" />
<line x1="422.2" y1="2589.4" x2="422.2" y2="2578.4" stroke="#484848" stroke-width="1.25" />
<line x1="422.2" y1="2234.7" x2="422.2" y2="2245.7" stroke="#484848" stroke-width="1.25" />
<line x1="440.95" y1="2589.4" x2="440.95" y2="2583.9" stroke="#484848" stroke-width="1.25" />
<line x1="440.95" y1="2234.7" x2="440.95" y2="2240.2" stroke="#484848" stroke-width="1.25" />
<line x1="459.69" y1="2589.4" x2="459.69" y2="2583.9" stroke="#484848" stroke-width="1.25" />
<line x1="459.69" y1="2234.7" x2="459.69" y2="2240.2" stroke="#484848" stroke-width="1.25" />
<line x1="478.44" y1="2589.4" x2="478.44" y2="2583.9" stroke="#484848" stroke-width="1.25" />
<line x1="478.44" y1="2234.7" x2="478.44" y2="2240.2" stroke="#484848" stroke-width="1.25" />
<line x1="497.19" y1="2589.4" x2="497.19" y2="2583.9" stroke="#484848" stroke-width="1.25" />
<line x1="497.19" y1="2234.7" x2="497.19" y2="2240.2" stroke="#484848" stroke-width="1.25" />
<line x1="515.93" y1="2589.4" x2="515.93" y2="2578.4" stroke="#484848" stroke-width="1.25" />
<line x1="515.93" y1="2234.7" x2="515.93" y2="2245.7" stroke="#484848" stroke-width="1.25" />
<line x1="534.68" y1="2589.4" x2="534.68" y2="2583.9" stroke="#484848" stroke-width="1.25" />
<line x1="534.68" y1="2234.7" x2="534.68" y2="2240.2" stroke="#484848" stroke-width="1.25" />
<line x1="553.43" y1="2589.4" x2="553.43" y2="2583.9" stroke="#484848" stroke-width="1.25" />
<line x1="553.43" y1="2234.7" x2="553.43" y2="2240.2" stroke="#484848" stroke-width="1.25" />
<line x1="572.17" y1="2589.4" x2="572.17" y2="2583.9" stroke="#484848" stroke-width="1.25" />
<line x1="572.17" y1="2234.7" x2="572.17" y2="2240.2" stroke="#484848" stroke-width="1.25" />
<line x1="590.92" y1="2589.4" x2="590.92" y2="2583.9" stroke="#484848" stroke-width="1.25" />
<line x1="590.92" y1="2234.7" x2="590.92" y2="2240.2" stroke="#484848" stroke-width="1.25" />
<line x1="609.67" y1="2589.4" x2="609.67" y2="2578.4" stroke="#484848" stroke-width="1.25" />
<line x1="609.67" y1="2234.7" x2="609.67" y2="2245.7" stroke="#484848" stroke-width="1.25" />
<line x1="628.41" y1="2589.4" x2="628.41" y2="2583.9" stroke="#484848" stroke-width="1.25" />
<line x1="628.41" y1="2234.7" x2="628.41" y2="2240.2" stroke="#484848" stroke-width="1.25" />
<line x1="647.16" y1="2589.4" x2="647.16" y2="2583.9" stroke="#484848" stroke-width="1.25" />
<line x1="647.16" y1="2234.7" x2="647.16" y2="2240.2" stroke="#484848" stroke-width="1.25" />
<line x1="665.91" y1="2589.4" x2="665.91" y2="2583.9" stroke="#484848" stroke-width="1.25" />
<line x1="665.91" y1="2234.7" x2="665.91" y2="2240.2" stroke="#484848" stroke-width="1.25" />
<line x1="684.65" y1="2589.4" x2="684.65" y2="2583.9" stroke="#484848" stroke-width="1.25" />
<line x1="684.65" y1="2234.7" x2="684.65" y2="2240.2" stroke="#484848" stroke-width="1.25" />
<line x1="703.4" y1="2589.4" x2="703.4" y2="2578.4" stroke="#484848" stroke-width="1.25" />
<line x1="703.4" y1="2234.7" x2="703.4" y2="2245.7" stroke="#484848" stroke-width="1.25" />
<line x1="722.15" y1="2589.4" x2="722.15" y2="2583.9" stroke="#484848" stroke-width="1.25" />
<line x1="722.15" y1="2234.7" x2="722.15" y2="2240.2" stroke="#484848" stroke-width="1.25" />
<line x1="740.89" y1="2589.4" x2="740.89" y2="2583.9" stroke="#484848" stroke-width="1.25" />
<line x1="740.89" y1="2234.7" x2="740.89" y2="2240.2" stroke="#484848" stroke-width="1.25" />
<line x1="759.64" y1="2589.4" x2="759.64" y2="2583.9" stroke="#484848" stroke-width="1.25" />
<line x1="759.64" y1="2234.7" x2="759.64" y2="2240.2" stroke="#484848" stroke-width="1.25" />
<line x1="778.39" y1="2589.4" x2="778.39" y2="2583.9" stroke="#484848" stroke-width="1.25" />
<line x1="778.39" y1="2234.7" x2="778.39" y2="2240.2" stroke="#484848" stroke-width="1.25" />
<line x1="797.13" y1="2589.4" x2="797.13" y2="2578.4" stroke="#484848" stroke-width="1.25" />
<line x1="797.13" y1="2234.7" x2="797.13" y2="2245.7" stroke="#484848" stroke-width="1.25" />
<line x1="815.88" y1="2589.4" x2="815.88" y2="2583.9" stroke="#484848" stroke-width="1.25" />
<line x1="815.88" y1="2234.7" x2="815.88" y2="2240.2" stroke="#484848" stroke-width="1.25" />
<line x1="834.63" y1="2589.4" x2="834.63" y2="2583.9" stroke="#484848" stroke-width="1.25" />
<line x1="834.63" y1="2234.7" x2="834.63" y2="2240.2" stroke="#484848" stroke-width="1.25" />
<line x1="853.37" y1="2589.4" x2="853.37" y2="2583.9" stroke="#484848" stroke-width="1.25" />
<line x1="853.37" y1="2234.7" x2="853.37" y2="2240.2" stroke="#484848" stroke-width="1.25" />
<line x1="872.12" y1="2589.4" x2="872.12" y2="2583.9" stroke="#484848" stroke-width="1.25" />
<line x1="872.12" y1="2234.7" x2="872.12" y2="2240.2" stroke="#484848" stroke-width="1.25" />
<line x1="890.87" y1="2589.4" x2="890.87" y2="2578.4" stroke="#484848" stroke-width="1.25" />
<line x1="890.87" y1="2234.7" x2="890.87" y2="2245.7" stroke="#484848" stroke-width="1.25" />
<line x1="909.61" y1="2589.4" x2="909.61" y2="2583.9" stroke="#484848" stroke-width="1.25" />
<line x1="909.61" y1="2234.7" x2="909.61" y2="2240.2" stroke="#484848" stroke-width="1.25" />
<line x1="928.36" y1="2589.4" x2="928.36" y2="2583.9" stroke="#484848" stroke-width="1.25" />
<line x1="928.36" y1="2234.7" x2="928.36" y2="2240.2" stroke="#484848" stroke-width="1.25" />
<line x1="947.11" y1="2589.4" x2="947.11" y2="2583.9" stroke="#484848" stroke-width="1.25" />
<line x1="947.11" y1="2234.7" x2="947.11" y2="2240.2" stroke="#484848" stroke-width="1.25" />
<line x1="965.85" y1="2589.4" x2="965.85" y2="2583.9" stroke="#484848" stroke-width="1.25" />
<line x1="965.85" y1="2234.7" x2="965.85" y2="2240.2" stroke="#484848" stroke-width="1.25" />
<line x1="141" y1="2571.66" x2="151" y2="2571.66" stroke="#484848" stroke-width="1.25" />
<line x1="984.6" y1="2571.66" x2="974.6" y2="2571.66" stroke="#484848" stroke-width="1.25" />
<line x1="141" y1="2553.93" x2="151" y2="2553.93" stroke="#484848" stroke-width="1.25" />
<line x1="984.6" y1="2553.93" x2="974.6" y2="2553.93" stroke="#484848" stroke-width="1.25" />
<line x1="141" y1="2536.2" x2="151" y2="2536.2" stroke="#484848" stroke-width="1.25" />
<line x1="984.6" y1="2536.2" x2="974.6" y2="2536.2" stroke="#484848" stroke-width="1.25" />
<line x1="141" y1="2518.46" x2="151" y2="2518.46" stroke="#484848" stroke-width="1.25" />
<line x1="984.6" y1="2518.46" x2="974.6" y2="2518.46" stroke="#484848" stroke-width="1.25" />
<line x1="141" y1="2500.72" x2="161" y2="2500.72" stroke="#484848" stroke-width="1.25" />
<line x1="984.6" y1="2500.72" x2="964.6" y2="2500.72" stroke="#484848" stroke-width="1.25" />
<line x1="141" y1="2482.99" x2="151" y2="2482.99" stroke="#484848" stroke-width="1.25" />
<line x1="984.6" y1="2482.99" x2="974.6" y2="2482.99" stroke="#484848" stroke-width="1.25" />
<line x1="141" y1="2465.26" x2="151" y2="2465.26" stroke="#484848" stroke-width="1.25" />
<line x1="984.6" y1="2465.26" x2="974.6" y2="2465.26" stroke="#484848" stroke-width="1.25" />
<line x1="141" y1="2447.52" x2="151" y2="2447.52" stroke="#484848" stroke-width="1.25" />
<line x1="984.6" y1="2447.52" x2="974.6" y2="2447.52" stroke="#484848" stroke-width="1.25" />
<line x1="141" y1="2429.78" x2="151" y2="2429.78" stroke="#484848" stroke-width="1.25" />
<line x1="984.6" y1="2429.78" x2="974.6" y2="2429.78" stroke="#484848" stroke-width="1.25" />
<line x1="141" y1="2412.05" x2="161" y2="2412.05" stroke="#484848" stroke-width="1.25" />
<line x1="984.6" y1="2412.05" x2="964.6" y2="2412.05" stroke="#484848" stroke-width="1.25" />
<line x1="141" y1="2394.32" x2="151" y2="2394.32" stroke="#484848" stroke-width="1.25" />
<line x1="984.6" y1="2394.32" x2="974.6" y2="2394.32" stroke="#484848" stroke-width="1.25" />
<line x1="141" y1="2376.58" x2="151" y2="2376.58" stroke="#484848" stroke-width="1.25" />
<line x1="984.6" y1="2376.58" x2="974.6" y2="2376.58" stroke="#484848" stroke-width="1.25" />
<line x1="141" y1="2358.84" x2="151" y2="2358.84" stroke="#484848" stroke-width="1.25" />
<line x1="984.6" y1="2358.84" x2="974.6" y2="2358.84" stroke="#484848" stroke-width="1.25" />
<line x1="141" y1="2341.11" x2="151" y2="2341.11" stroke="#484848" stroke-width="1.25" />
<line x1="984.6" y1="2341.11" x2="974.6" y2="2341.11" stroke="#484848" stroke-width="1.25" />
<line x1="141" y1="2323.38" x2="161" y2="2323.38" stroke="#484848" stroke-width="1.25" />
<line x1="984.6" y1="2323.38" x2="964.6" y2="2323.38" stroke="#484848" stroke-width="1.25" />
<line x1="141" y1="2305.64" x2="151" y2="2305.64" stroke="#484848" stroke-width="1.25" />
<line x1="984.6" y1="2305.64" x2="974.6" y2="2305.64" stroke="#484848" stroke-width="1.25" />
<line x1="141" y1="2287.9" x2="151" y2="2287.9" stroke="#484848" stroke-width="1.25" />
<line x1="984.6" y1="2287.9" x2="974.6" y2="2287.9" stroke="#484848" stroke-width="1.25" />
<line x1="141" y1="2270.17" x2="151" y2="2270.17" stroke="#484848" stroke-width="1.25" />
<line x1="984.6" y1="2270.17" x2="974.6" y2="2270.17" stroke="#484848" stroke-width="1.25" />
<line x1="141" y1="2252.43" x2="151" y2="2252.43" stroke="#484848" stroke-width="1.25" />
<line x1="984.6" y1="2252.43" x2="974.6" y2="2252.43" stroke="#484848" stroke-width="1.25" />
<text x="116" y="2250.7" font-size="34" text-anchor="end" fill="#222" >20</text>
<text x="116" y="2335.97" font-size="34" text-anchor="end" fill="#222" >15</text>
<text x="116" y="2424.65" font-size="34" text-anchor="end" fill="#222" >10</text>
<text x="116" y="2513.32" font-size="34" text-anchor="end" fill="#222" >5</text>
<text x="116" y="2595.8" font-size="34" text-anchor="end" fill="#222" >0</text>
<text x="139" y="2628" font-size="34" text-anchor="middle" fill="#222" >0</text>
<text x="231.23" y="2628" font-size="34" text-anchor="middle" fill="#222" >10</text>
<text x="326.47" y="2628" font-size="34" text-anchor="middle" fill="#222" >20</text>
<text x="420.2" y="2628" font-size="34" text-anchor="middle" fill="#222" >30</text>
<text x="513.93" y="2628" font-size="34" text-anchor="middle" fill="#222" >40</text>
<text x="607.67" y="2628" font-size="34" text-anchor="middle" fill="#222" >50</text>
<text x="701.4" y="2628" font-size="34" text-anchor="middle" fill="#222" >60</text>
<text x="795.13" y="2628" font-size="34" text-anchor="middle" fill="#222" >70</text>
<text x="888.87" y="2628" font-size="34" text-anchor="middle" fill="#222" >80</text>
<text x="977.6" y="2628" font-size="34" text-anchor="middle" fill="#222" >90</text>
<path d="M141,2589.4 L145.69,2587.47 L150.37,2585.53 L155.06,2583.6 L159.75,2581.66 L164.43,2579.73 L169.12,2577.8 L173.81,2575.87 L178.49,2573.94 L183.18,2572.01 L187.87,2570.08 L192.55,2568.15 L197.24,2566.23 L201.93,2564.3 L206.61,2562.38 L211.3,2560.46 L215.99,2558.55 L220.67,2556.63 L225.36,2554.72 L230.05,2552.81 L234.73,2550.9 L239.42,2548.99 L244.11,2547.09 L248.79,2545.19 L253.48,2543.3 L258.17,2541.41 L262.85,2539.52 L267.54,2537.63 L272.23,2535.75 L276.91,2533.87 L281.6,2532 L286.29,2530.13 L290.97,2528.26 L295.66,2526.4 L300.35,2524.55 L305.03,2522.7 L309.72,2520.85 L314.41,2519.01 L319.09,2517.17 L323.78,2515.34 L328.47,2513.52 L333.15,2511.7 L337.84,2509.88 L342.53,2508.07 L347.21,2506.27 L351.9,2504.47 L356.59,2502.68 L361.27,2500.9 L365.96,2499.12 L370.65,2497.35 L375.33,2495.59 L380.02,2493.83 L384.71,2492.08 L389.39,2490.34 L394.08,2488.6 L398.77,2486.87 L403.45,2485.15 L408.14,2483.44 L412.83,2481.73 L417.51,2480.04 L422.2,2478.35 L426.89,2476.67 L431.57,2474.99 L436.26,2473.33 L440.95,2471.67 L445.63,2470.03 L450.32,2468.39 L455.01,2466.76 L459.69,2465.14 L464.38,2463.53 L469.07,2461.93 L473.75,2460.33 L478.44,2458.75 L483.13,2457.18 L487.81,2455.61 L492.5,2454.06 L497.19,2452.52 L501.87,2450.98 L506.56,2449.46 L511.25,2447.95 L515.93,2446.45 L520.62,2444.96 L525.31,2443.47 L529.99,2442 L534.68,2440.55 L539.37,2439.1 L544.05,2437.66 L548.74,2436.24 L553.43,2434.82 L558.11,2433.42 L562.8,2432.03 L567.49,2430.65 L572.17,2429.29 L576.86,2427.93 L581.55,2426.59 L586.23,2425.26 L590.92,2423.94 L595.61,2422.64 L600.29,2421.34 L604.98,2420.06 L609.67,2418.8 L614.35,2417.54 L619.04,2416.3 L623.73,2415.07 L628.41,2413.85 L633.1,2412.65 L637.79,2411.46 L642.47,2410.29 L647.16,2409.13 L651.85,2407.98 L656.53,2406.84 L661.22,2405.72 L665.91,2404.62 L670.59,2403.52 L675.28,2402.44 L679.97,2401.38 L684.65,2400.33 L689.34,2399.29 L694.03,2398.27 L698.71,2397.27 L703.4,2396.27 L708.09,2395.3 L712.77,2394.33 L717.46,2393.38 L722.15,2392.45 L726.83,2391.53 L731.52,2390.63 L736.21,2389.74 L740.89,2388.87 L745.58,2388.01 L750.27,2387.17 L754.95,2386.35 L759.64,2385.53 L764.33,2384.74 L769.01,2383.96 L773.7,2383.2 L778.39,2382.45 L783.07,2381.72 L787.76,2381 L792.45,2380.3 L797.13,2379.62 L801.82,2378.95 L806.51,2378.3 L811.19,2377.66 L815.88,2377.04 L820.57,2376.44 L825.25,2375.85 L829.94,2375.28 L834.63,2374.73 L839.31,2374.19 L844,2373.67 L848.69,2373.17 L853.37,2372.68 L858.06,2372.21 L862.75,2371.76 L867.43,2371.32 L872.12,2370.9 L876.81,2370.5 L881.49,2370.11 L886.18,2369.74 L890.87,2369.39 L895.55,2369.05 L900.24,2368.73 L904.93,2368.43 L909.61,2368.15 L914.3,2367.88 L918.99,2367.63 L923.67,2367.4 L928.36,2367.18 L933.05,2366.98 L937.73,2366.8 L942.42,2366.64 L947.11,2366.49 L951.79,2366.36 L956.48,2366.25 L961.17,2366.16 L965.85,2366.08 L970.54,2366.02 L975.23,2365.97 L979.91,2365.95 L984.6,2365.94" fill="none" stroke="#222" stroke-width="1.9" stroke-dasharray="1.91 2.24"/>
<path d="M141,2589.4 L145.69,2587.18 L150.37,2585.21 L155.06,2583.11 L159.75,2581.01 L164.43,2578.92 L169.12,2576.82 L173.81,2574.73 L178.49,2572.63 L183.18,2570.54 L187.87,2568.45 L192.55,2566.36 L197.24,2564.27 L201.93,2562.18 L206.61,2560.1 L211.3,2558.01 L215.99,2555.93 L220.67,2553.85 L225.36,2551.77 L230.05,2549.7 L234.73,2547.63 L239.42,2545.56 L244.11,2543.49 L248.79,2541.43 L253.48,2539.37 L258.17,2537.31 L262.85,2535.25 L267.54,2533.2 L272.23,2531.15 L276.91,2529.11 L281.6,2527.07 L286.29,2525.04 L290.97,2523 L295.66,2520.98 L300.35,2518.95 L305.03,2516.93 L309.72,2514.92 L314.41,2512.91 L319.09,2510.9 L323.78,2508.91 L328.47,2506.91 L333.15,2504.92 L337.84,2502.94 L342.53,2500.96 L347.21,2498.99 L351.9,2497.02 L356.59,2495.06 L361.27,2493.11 L365.96,2491.15 L370.65,2489.21 L375.33,2487.28 L380.02,2485.35 L384.71,2483.42 L389.39,2481.51 L394.08,2479.6 L398.77,2477.7 L403.45,2475.8 L408.14,2473.92 L412.83,2472.03 L417.51,2470.16 L422.2,2468.3 L426.89,2466.44 L431.57,2464.59 L436.26,2462.75 L440.95,2460.92 L445.63,2459.1 L450.32,2457.28 L455.01,2455.47 L459.69,2453.67 L464.38,2451.89 L469.07,2450.1 L473.75,2448.33 L478.44,2446.57 L483.13,2444.82 L487.81,2443.07 L492.5,2441.34 L497.19,2439.61 L501.87,2437.9 L506.56,2436.19 L511.25,2434.5 L515.93,2432.81 L520.62,2431.15 L525.31,2429.48 L529.99,2427.83 L534.68,2426.18 L539.37,2424.56 L544.05,2422.93 L548.74,2421.33 L553.43,2419.72 L558.11,2418.14 L562.8,2416.56 L567.49,2415 L572.17,2413.45 L576.86,2411.91 L581.55,2410.38 L586.23,2408.87 L590.92,2407.36 L595.61,2405.87 L600.29,2404.38 L604.98,2402.92 L609.67,2401.46 L614.35,2400.03 L619.04,2398.59 L623.73,2397.18 L628.41,2395.77 L633.1,2394.39 L637.79,2393.01 L642.47,2391.65 L647.16,2390.29 L651.85,2388.96 L656.53,2387.63 L661.22,2386.33 L665.91,2385.03 L670.59,2383.76 L675.28,2382.49 L679.97,2381.24 L684.65,2380 L689.34,2378.78 L694.03,2377.57 L698.71,2376.38 L703.4,2375.19 L708.09,2374.04 L712.77,2372.88 L717.46,2371.75 L722.15,2370.63 L726.83,2369.53 L731.52,2368.44 L736.21,2367.37 L740.89,2366.31 L745.58,2365.28 L750.27,2364.24 L754.95,2363.24 L759.64,2362.24 L764.33,2361.28 L769.01,2360.31 L773.7,2359.37 L778.39,2358.44 L783.07,2357.53 L787.76,2356.63 L792.45,2355.76 L797.13,2354.89 L801.82,2354.06 L806.51,2353.22 L811.19,2352.42 L815.88,2351.62 L820.57,2350.86 L825.25,2350.09 L829.94,2349.36 L834.63,2348.63 L839.31,2347.93 L844,2347.24 L848.69,2346.58 L853.37,2345.92 L858.06,2345.29 L862.75,2344.67 L867.43,2344.08 L872.12,2343.49 L876.81,2342.94 L881.49,2342.39 L886.18,2341.87 L890.87,2341.36 L895.55,2340.88 L900.24,2340.41 L904.93,2339.97 L909.61,2339.53 L914.3,2339.12 L918.99,2338.72 L923.67,2338.36 L928.36,2338 L933.05,2337.67 L937.73,2337.34 L942.42,2337.06 L947.11,2336.77 L951.79,2336.52 L956.48,2336.27 L961.17,2336.07 L965.85,2335.86 L970.54,2335.69 L975.23,2335.52 L979.91,2335.39 L984.6,2335.26" fill="none" stroke="#222" stroke-width="1.9" stroke-dasharray="12.35 6.18"/>
<path d="M141,2589.4 L145.69,2587.07 L150.37,2584.98 L155.06,2582.78 L159.75,2580.57 L164.43,2578.36 L169.12,2576.16 L173.81,2573.95 L178.49,2571.74 L183.18,2569.54 L187.87,2567.34 L192.55,2565.14 L197.24,2562.94 L201.93,2560.74 L206.61,2558.54 L211.3,2556.35 L215.99,2554.16 L220.67,2551.97 L225.36,2549.78 L230.05,2547.59 L234.73,2545.41 L239.42,2543.23 L244.11,2541.05 L248.79,2538.88 L253.48,2536.7 L258.17,2534.53 L262.85,2532.37 L267.54,2530.21 L272.23,2528.04 L276.91,2525.89 L281.6,2523.74 L286.29,2521.59 L290.97,2519.45 L295.66,2517.31 L300.35,2515.17 L305.03,2513.04 L309.72,2510.91 L314.41,2508.79 L319.09,2506.67 L323.78,2504.56 L328.47,2502.46 L333.15,2500.36 L337.84,2498.26 L342.53,2496.17 L347.21,2494.08 L351.9,2492 L356.59,2489.93 L361.27,2487.86 L365.96,2485.8 L370.65,2483.75 L375.33,2481.69 L380.02,2479.65 L384.71,2477.61 L389.39,2475.59 L394.08,2473.56 L398.77,2471.55 L403.45,2469.54 L408.14,2467.54 L412.83,2465.54 L417.51,2463.56 L422.2,2461.58 L426.89,2459.61 L431.57,2457.64 L436.26,2455.69 L440.95,2453.74 L445.63,2451.81 L450.32,2449.87 L455.01,2447.96 L459.69,2446.04 L464.38,2444.14 L469.07,2442.24 L473.75,2440.36 L478.44,2438.48 L483.13,2436.61 L487.81,2434.75 L492.5,2432.91 L497.19,2431.06 L501.87,2429.24 L506.56,2427.41 L511.25,2425.61 L515.93,2423.8 L520.62,2422.02 L525.31,2420.24 L529.99,2418.47 L534.68,2416.71 L539.37,2414.97 L544.05,2413.23 L548.74,2411.51 L553.43,2409.79 L558.11,2408.1 L562.8,2406.4 L567.49,2404.73 L572.17,2403.05 L576.86,2401.4 L581.55,2399.75 L586.23,2398.13 L590.92,2396.5 L595.61,2394.9 L600.29,2393.3 L604.98,2391.72 L609.67,2390.15 L614.35,2388.6 L619.04,2387.05 L623.73,2385.52 L628.41,2384 L633.1,2382.5 L637.79,2381 L642.47,2379.53 L647.16,2378.06 L651.85,2376.62 L656.53,2375.18 L661.22,2373.76 L665.91,2372.35 L670.59,2370.96 L675.28,2369.57 L679.97,2368.22 L684.65,2366.86 L689.34,2365.53 L694.03,2364.2 L698.71,2362.9 L703.4,2361.6 L708.09,2360.34 L712.77,2359.07 L717.46,2357.83 L722.15,2356.59 L726.83,2355.39 L731.52,2354.18 L736.21,2353.01 L740.89,2351.83 L745.58,2350.69 L750.27,2349.55 L754.95,2348.44 L759.64,2347.33 L764.33,2346.26 L769.01,2345.18 L773.7,2344.14 L778.39,2343.1 L783.07,2342.09 L787.76,2341.08 L792.45,2340.1 L797.13,2339.13 L801.82,2338.19 L806.51,2337.25 L811.19,2336.35 L815.88,2335.45 L820.57,2334.58 L825.25,2333.71 L829.94,2332.88 L834.63,2332.05 L839.31,2331.25 L844,2330.46 L848.69,2329.7 L853.37,2328.94 L858.06,2328.22 L862.75,2327.5 L867.43,2326.82 L872.12,2326.13 L876.81,2325.49 L881.49,2324.84 L886.18,2324.24 L890.87,2323.63 L895.55,2323.06 L900.24,2322.5 L904.93,2321.97 L909.61,2321.44 L914.3,2320.96 L918.99,2320.47 L923.67,2320.02 L928.36,2319.57 L933.05,2319.17 L937.73,2318.76 L942.42,2318.39 L947.11,2318.03 L951.79,2317.7 L956.48,2317.38 L961.17,2317.09 L965.85,2316.81 L970.54,2316.57 L975.23,2316.33 L979.91,2316.13 L984.6,2315.93" fill="none" stroke="#222" stroke-width="1.9" />
<path d="M141,2589.4 L145.69,2586.89 L150.37,2584.66 L155.06,2582.29 L159.75,2579.92 L164.43,2577.56 L169.12,2575.19 L173.81,2572.82 L178.49,2570.45 L183.18,2568.09 L187.87,2565.73 L192.55,2563.36 L197.24,2561 L201.93,2558.64 L206.61,2556.28 L211.3,2553.93 L215.99,2551.57 L220.67,2549.22 L225.36,2546.87 L230.05,2544.52 L234.73,2542.18 L239.42,2539.84 L244.11,2537.49 L248.79,2535.16 L253.48,2532.82 L258.17,2530.49 L262.85,2528.16 L267.54,2525.84 L272.23,2523.52 L276.91,2521.2 L281.6,2518.88 L286.29,2516.58 L290.97,2514.27 L295.66,2511.97 L300.35,2509.67 L305.03,2507.37 L309.72,2505.08 L314.41,2502.8 L319.09,2500.52 L323.78,2498.24 L328.47,2495.97 L333.15,2493.71 L337.84,2491.44 L342.53,2489.19 L347.21,2486.94 L351.9,2484.7 L356.59,2482.46 L361.27,2480.23 L365.96,2478 L370.65,2475.78 L375.33,2473.56 L380.02,2471.36 L384.71,2469.15 L389.39,2466.96 L394.08,2464.77 L398.77,2462.59 L403.45,2460.41 L408.14,2458.25 L412.83,2456.09 L417.51,2453.94 L422.2,2451.79 L426.89,2449.66 L431.57,2447.52 L436.26,2445.4 L440.95,2443.29 L445.63,2441.18 L450.32,2439.08 L455.01,2437 L459.69,2434.91 L464.38,2432.85 L469.07,2430.78 L473.75,2428.73 L478.44,2426.68 L483.13,2424.65 L487.81,2422.62 L492.5,2420.6 L497.19,2418.59 L501.87,2416.6 L506.56,2414.6 L511.25,2412.63 L515.93,2410.66 L520.62,2408.7 L525.31,2406.75 L529.99,2404.82 L534.68,2402.88 L539.37,2400.97 L544.05,2399.06 L548.74,2397.17 L553.43,2395.28 L558.11,2393.42 L562.8,2391.55 L567.49,2389.71 L572.17,2387.86 L576.86,2386.04 L581.55,2384.22 L586.23,2382.43 L590.92,2380.63 L595.61,2378.86 L600.29,2377.08 L604.98,2375.34 L609.67,2373.59 L614.35,2371.87 L619.04,2370.15 L623.73,2368.45 L628.41,2366.76 L633.1,2365.09 L637.79,2363.42 L642.47,2361.77 L647.16,2360.13 L651.85,2358.52 L656.53,2356.9 L661.22,2355.32 L665.91,2353.73 L670.59,2352.17 L675.28,2350.61 L679.97,2349.09 L684.65,2347.56 L689.34,2346.06 L694.03,2344.56 L698.71,2343.09 L703.4,2341.62 L708.09,2340.18 L712.77,2338.74 L717.46,2337.34 L722.15,2335.93 L726.83,2334.55 L731.52,2333.18 L736.21,2331.83 L740.89,2330.49 L745.58,2329.18 L750.27,2327.87 L754.95,2326.59 L759.64,2325.31 L764.33,2324.07 L769.01,2322.83 L773.7,2321.62 L778.39,2320.41 L783.07,2319.23 L787.76,2318.06 L792.45,2316.92 L797.13,2315.78 L801.82,2314.68 L806.51,2313.57 L811.19,2312.51 L815.88,2311.44 L820.57,2310.41 L825.25,2309.38 L829.94,2308.39 L834.63,2307.39 L839.31,2306.44 L844,2305.48 L848.69,2304.57 L853.37,2303.65 L858.06,2302.77 L862.75,2301.9 L867.43,2301.06 L872.12,2300.22 L876.81,2299.42 L881.49,2298.63 L886.18,2297.87 L890.87,2297.11 L895.55,2296.4 L900.24,2295.68 L904.93,2295.01 L909.61,2294.33 L914.3,2293.7 L918.99,2293.07 L923.67,2292.48 L928.36,2291.89 L933.05,2291.34 L937.73,2290.8 L942.42,2290.29 L947.11,2289.79 L951.79,2289.33 L956.48,2288.87 L961.17,2288.46 L965.85,2288.05 L970.54,2287.68 L975.23,2287.31 L979.91,2286.99 L984.6,2286.66" fill="none" stroke="#222" stroke-width="1.9" stroke-dasharray="34.8 6.31"/>
<path d="M141,2589.4 L145.69,2586.74 L150.37,2584.36 L155.06,2581.85 L159.75,2579.33 L164.43,2576.81 L169.12,2574.3 L173.81,2571.78 L178.49,2569.27 L183.18,2566.76 L187.87,2564.24 L192.55,2561.73 L197.24,2559.22 L201.93,2556.71 L206.61,2554.21 L211.3,2551.7 L215.99,2549.2 L220.67,2546.7 L225.36,2544.2 L230.05,2541.71 L234.73,2539.21 L239.42,2536.72 L244.11,2534.23 L248.79,2531.74 L253.48,2529.26 L258.17,2526.78 L262.85,2524.3 L267.54,2521.83 L272.23,2519.36 L276.91,2516.89 L281.6,2514.43 L286.29,2511.97 L290.97,2509.51 L295.66,2507.06 L300.35,2504.61 L305.03,2502.17 L309.72,2499.73 L314.41,2497.3 L319.09,2494.86 L323.78,2492.44 L328.47,2490.02 L333.15,2487.6 L337.84,2485.19 L342.53,2482.79 L347.21,2480.39 L351.9,2477.99 L356.59,2475.6 L361.27,2473.22 L365.96,2470.84 L370.65,2468.48 L375.33,2466.11 L380.02,2463.75 L384.71,2461.4 L389.39,2459.05 L394.08,2456.71 L398.77,2454.38 L403.45,2452.05 L408.14,2449.74 L412.83,2447.42 L417.51,2445.12 L422.2,2442.82 L426.89,2440.54 L431.57,2438.25 L436.26,2435.98 L440.95,2433.71 L445.63,2431.46 L450.32,2429.2 L455.01,2426.96 L459.69,2424.73 L464.38,2422.51 L469.07,2420.29 L473.75,2418.08 L478.44,2415.88 L483.13,2413.7 L487.81,2411.51 L492.5,2409.35 L497.19,2407.18 L501.87,2405.03 L506.56,2402.89 L511.25,2400.76 L515.93,2398.63 L520.62,2396.52 L525.31,2394.42 L529.99,2392.33 L534.68,2390.24 L539.37,2388.18 L544.05,2386.11 L548.74,2384.07 L553.43,2382.02 L558.11,2380 L562.8,2377.98 L567.49,2375.98 L572.17,2373.98 L576.86,2372.01 L581.55,2370.03 L586.23,2368.08 L590.92,2366.13 L595.61,2364.2 L600.29,2362.27 L604.98,2360.37 L609.67,2358.47 L614.35,2356.59 L619.04,2354.71 L623.73,2352.86 L628.41,2351.01 L633.1,2349.18 L637.79,2347.36 L642.47,2345.56 L647.16,2343.76 L651.85,2341.99 L656.53,2340.22 L661.22,2338.48 L665.91,2336.73 L670.59,2335.02 L675.28,2333.31 L679.97,2331.62 L684.65,2329.93 L689.34,2328.28 L694.03,2326.62 L698.71,2325 L703.4,2323.37 L708.09,2321.78 L712.77,2320.18 L717.46,2318.62 L722.15,2317.06 L726.83,2315.53 L731.52,2314 L736.21,2312.5 L740.89,2311 L745.58,2309.53 L750.27,2308.07 L754.95,2306.63 L759.64,2305.2 L764.33,2303.8 L769.01,2302.4 L773.7,2301.04 L778.39,2299.68 L783.07,2298.35 L787.76,2297.02 L792.45,2295.73 L797.13,2294.44 L801.82,2293.18 L806.51,2291.93 L811.19,2290.71 L815.88,2289.49 L820.57,2288.31 L825.25,2287.13 L829.94,2285.98 L834.63,2284.84 L839.31,2283.74 L844,2282.63 L848.69,2281.57 L853.37,2280.5 L858.06,2279.48 L862.75,2278.45 L867.43,2277.47 L872.12,2276.49 L876.81,2275.54 L881.49,2274.6 L886.18,2273.7 L890.87,2272.8 L895.55,2271.94 L900.24,2271.09 L904.93,2270.27 L909.61,2269.46 L914.3,2268.69 L918.99,2267.92 L923.67,2267.19 L928.36,2266.47 L933.05,2265.79 L937.73,2265.11 L942.42,2264.47 L947.11,2263.84 L951.79,2263.25 L956.48,2262.66 L961.17,2262.12 L965.85,2261.58 L970.54,2261.09 L975.23,2260.59 L979.91,2260.15 L984.6,2259.71" fill="none" stroke="#222" stroke-width="1.9" stroke-dasharray="28.71 6.18 6.18 6.18"/>
<text transform="translate(43,2392) scale(1,0.985) rotate(-90)" font-size="43" text-anchor="middle" fill="#222"><tspan font-family="Liberation Serif, serif">θ</tspan>' [deg]</text>
<text x="504" y="2672.8" font-size="38.5" fill="#222"><tspan font-family="Liberation Serif, serif">θ</tspan> [deg]</text>
<clipPath id="cp1"><rect x="167.5" y="50.1" width="328" height="349.9"/></clipPath>
<g clip-path="url(#cp1)">
<path d="M258.3,39.2l0,61.2 0.2,31.2 0.4,18 0.3,6 0.4,4.9 0.6,4.4 0.5,2.2 0.5,1.6 0.6,1.7 0.6,1.1 0.6,1.1 0.9,1.1 1.7,1.6 1.4,0.9 1.3,0.7 2,0.9 4.9,1.8 1.6,0.7 0.6,0.5 0.4,0.5 0.1,0.6 0.4,1.6 0.2,2.2 0.4,7.6 0.2,13.2 0,18.5 0,18.6 -0.2,13.2 -0.4,7.6 -0.2,2.2 -0.4,1.6 -0.1,0.6 -0.4,0.5 -0.6,0.5 -1.6,0.7 -4.9,1.8 -2,0.9 -1.3,0.7 -1.4,0.9 -1.7,1.6 -0.9,1.1 -0.6,1.1 -0.6,1.1 -0.6,1.7 -0.5,1.6 -0.5,2.2 -0.6,4.4 -0.4,4.9 -0.3,6 -0.4,18 -0.2,31.2 0,61.2M261.6,39.2l0,53.5 0.3,30.1 0.2,10.9 0.2,8.2 0.4,6.6 0.5,5.5 0.6,4.9 0.8,3.8 1,3.3 0.7,1.6 0.9,1.7 1.5,2.2 2,2.2 2,1.6 4.1,3 1.1,1.1 1,1.4 0.5,1.1 0.3,1.1 0.5,2.1 0.3,2.8 0.5,8.2 0.4,12.5 0.1,16.4 -0.1,16.5 -0.4,12.5 -0.5,8.2 -0.3,2.8 -0.5,2.1 -0.3,1.1 -0.5,1.1 -1,1.4 -1.1,1.1 -4.1,3 -2,1.6 -2,2.2 -1.5,2.2 -0.9,1.7 -0.7,1.6 -1,3.3 -0.8,3.8 -0.6,4.9 -0.5,5.5 -0.4,6.6 -0.2,8.2 -0.2,10.9 -0.3,30.1 0,53.5M264.8,39.2l0.2,49.7 0.2,29 0.2,10.4 0.3,8.7 0.4,7.1 0.5,5.5 0.6,4.9 0.8,4.4 1.1,3.8 1.2,3.3 1.4,2.7 1.5,2.2 1.7,2.2 3.6,4 1.1,1.5 0.6,1.1 0.8,1.6 0.8,2.7 0.4,2.2 0.5,3.3 0.3,3.8 0.3,5 0.4,12 0.1,14.7 -0.1,14.8 -0.4,12 -0.3,5 -0.3,3.8 -0.5,3.3 -0.4,2.2 -0.8,2.7 -0.8,1.6 -0.6,1.1 -1.1,1.5 -3.6,4 -1.7,2.2 -1.5,2.2 -1.4,2.7 -1.2,3.3 -1.1,3.8 -0.8,4.4 -0.6,4.9 -0.5,5.5 -0.4,7.1 -0.3,8.7 -0.2,10.4 -0.2,29 -0.2,49.7M268.1,39.2l0.2,45.9 0.3,28.4 0.2,10.4 0.3,8.8 0.4,7.1 0.4,6 0.7,5.4 0.7,4.4 0.9,3.8 1.2,3.9 1.1,2.7 1.3,2.7 1.3,2.2 3.6,5.5 1.1,2.2 0.8,1.6 0.6,1.7 0.8,3.2 0.5,2.8 0.4,3.3 0.4,3.8 0.3,4.9 0.4,11.5 0.1,13.6 -0.1,13.7 -0.4,11.5 -0.3,4.9 -0.4,3.8 -0.4,3.3 -0.5,2.8 -0.8,3.2 -0.6,1.7 -0.8,1.6 -1.1,2.2 -3.6,5.5 -1.3,2.2 -1.3,2.7 -1.1,2.7 -1.2,3.9 -0.9,3.8 -0.7,4.4 -0.7,5.4 -0.4,6 -0.4,7.1 -0.3,8.8 -0.2,10.4 -0.3,28.4 -0.2,45.9M271.4,39.2l0.2,43.2 0.3,27.8 0.5,19.2 0.4,7.1 0.5,6.5 0.6,5.5 0.7,4.4 0.8,4.4 1.1,3.8 1.1,3.3 1.1,2.7 4.1,8.4 1.4,3.1 1.3,3.8 0.8,3.8 0.6,3.3 0.4,3.3 0.6,8.7 0.4,11 0.2,12.5 -0.2,12.6 -0.4,11 -0.6,8.7 -0.4,3.3 -0.6,3.3 -0.8,3.8 -1.3,3.8 -1.4,3.1 -4.1,8.4 -1.1,2.7 -1.1,3.3 -1.1,3.8 -0.8,4.4 -0.7,4.4 -0.6,5.5 -0.5,6.5 -0.4,7.1 -0.5,19.2 -0.3,27.8 -0.2,43.2M274.7,39.2l0.2,41.5 0.3,26.8 0.5,19.1 0.4,7.1 0.5,6.6 0.5,5.5 0.7,4.9 0.8,4.4 0.9,3.8 0.9,3.3 1.1,3.3 3.9,9.8 1.2,3.3 1.3,4.4 0.8,4.3 0.5,3.3 0.5,3.8 0.6,8.2 0.4,10.4 0.2,12 -0.2,12.1 -0.4,10.4 -0.6,8.2 -0.5,3.8 -0.5,3.3 -0.8,4.3 -1.3,4.4 -1.2,3.3 -3.9,9.8 -1.1,3.3 -0.9,3.3 -0.9,3.8 -0.8,4.4 -0.7,4.9 -0.5,5.5 -0.5,6.6 -0.4,7.1 -0.5,19.1 -0.3,26.8 -0.2,41.5M278,39.2l0.2,39.3 0.3,26.3 0.5,19.1 0.4,7.7 0.5,6.5 0.5,5.5 0.6,4.9 0.7,4.4 0.9,4.4 0.9,3.8 1,3.3 3.6,10.9 1.2,3.8 1,4.4 0.9,4.9 0.9,7.1 0.6,8.2 0.4,9.9 0.1,11.4 -0.1,11.5 -0.4,9.9 -0.6,8.2 -0.9,7.1 -0.9,4.9 -1,4.4 -1.2,3.8 -3.6,10.9 -1,3.3 -0.9,3.8 -0.9,4.4 -0.7,4.4 -0.6,4.9 -0.5,5.5 -0.5,6.5 -0.4,7.7 -0.5,19.1 -0.3,26.3 -0.2,39.3M281.3,39.2l0.2,37.7 0.3,25.7 0.5,19.1 0.4,7.7 0.4,6.5 0.5,5.5 0.6,5.5 0.7,4.9 0.8,4.4 0.9,3.8 0.9,3.8 3.1,11 1.2,4.3 1.1,4.9 0.9,5.5 0.8,7.1 0.6,8.2 0.3,9.9 0.2,10.3 -0.2,10.4 -0.3,9.9 -0.6,8.2 -0.8,7.1 -0.9,5.5 -1.1,4.9 -1.2,4.3 -3.1,11 -0.9,3.8 -0.9,3.8 -0.8,4.4 -0.7,4.9 -0.6,5.5 -0.5,5.5 -0.4,6.5 -0.4,7.7 -0.5,19.1 -0.3,25.7 -0.2,37.7M284.6,39.2l0.2,36.6 0.3,25.1 0.5,18.6 0.4,7.7 0.4,7.1 0.4,5.5 0.6,5.4 0.7,4.9 0.7,4.4 1.6,8.2 3,12.1 1.1,4.9 0.9,4.9 0.9,5.5 0.8,7.6 0.5,8.2 0.4,9.3 0.1,9.8 -0.1,9.9 -0.4,9.3 -0.5,8.2 -0.8,7.6 -0.9,5.5 -0.9,4.9 -1.1,4.9 -3,12.1 -1.6,8.2 -0.7,4.4 -0.7,4.9 -0.6,5.4 -0.4,5.5 -0.4,7.1 -0.4,7.7 -0.5,18.6 -0.3,25.1 -0.2,36.6M287.9,39.2l0.2,35 0.3,24.6 0.5,19.1 0.7,14.8 1,10.9 0.6,4.9 0.7,4.9 1.4,8.2 3.9,18.6 1,5.5 0.7,5.5 0.7,7.1 0.5,8.2 0.4,9.3 0.1,9.2 -0.1,9.3 -0.4,9.3 -0.5,8.2 -0.7,7.1 -0.7,5.5 -1,5.5 -3.9,18.6 -1.4,8.2 -0.7,4.9 -0.6,4.9 -1,10.9 -0.7,14.8 -0.5,19.1 -0.3,24.6 -0.2,35M291.2,39.2l0.1,33.3 0.4,24.6 0.5,19.2 0.7,14.7 0.9,11.5 1.3,10.4 1.3,8.2 3.5,19.1 0.8,5.5 0.8,6 0.7,7.7 0.5,7.6 0.3,8.8 0.1,9.2 -0.1,9.3 -0.3,8.8 -0.5,7.6 -0.7,7.7 -0.8,6 -0.8,5.5 -3.5,19.1 -1.3,8.2 -1.3,10.4 -0.9,11.5 -0.7,14.7 -0.5,19.2 -0.4,24.6 -0.1,33.3M294.4,39.2l0.2,32.2 0.3,24.1 0.5,18.6 0.7,15.3 0.9,11.5 1.1,10.9 1.3,8.7 3.3,20.3 0.8,6 0.6,5.4 0.7,7.7 0.4,7.7 0.3,8.7 0.1,8.7 -0.1,8.8 -0.3,8.7 -0.4,7.7 -0.7,7.7 -0.6,5.4 -0.8,6 -3.3,20.3 -1.3,8.7 -1.1,10.9 -0.9,11.5 -0.7,15.3 -0.5,18.6 -0.3,24.1 -0.2,32.2M297.7,39.2l0.2,31.7 0.3,23.5 0.5,18.6 0.6,15.3 0.8,11.5 1.1,10.9 1.2,9.3 3,20.8 0.8,6 0.6,6 0.6,7.6 0.4,7.7 0.3,8.2 0.1,8.7 -0.1,8.8 -0.3,8.2 -0.4,7.7 -0.6,7.6 -0.6,6 -0.8,6 -3,20.8 -1.2,9.3 -1.1,10.9 -0.8,11.5 -0.6,15.3 -0.5,18.6 -0.3,23.5 -0.2,31.7M301,39.2l0.2,30.6 0.3,23.5 0.4,18.6 0.7,15.3 0.8,12 1,10.9 1,9.3 2.9,21.9 1.2,12 0.6,7.7 0.4,7.6 0.2,8.2 0.1,8.2 -0.1,8.3 -0.2,8.2 -0.4,7.6 -0.6,7.7 -1.2,12 -2.9,21.9 -1,9.3 -1,10.9 -0.8,12 -0.7,15.3 -0.4,18.6 -0.3,23.5 -0.2,30.6M304.3,39.2l0.2,29.5 0.3,23 0.4,18.5 0.6,15.3 0.7,12.1 0.9,11.5 1.1,9.8 2.6,22.4 1.2,12.6 0.5,7.6 0.3,7.7 0.2,7.6 0.1,8.2 -0.1,8.3 -0.2,7.6 -0.3,7.7 -0.5,7.6 -1.2,12.6 -2.6,22.4 -1.1,9.8 -0.9,11.5 -0.7,12.1 -0.6,15.3 -0.4,18.5 -0.3,23 -0.2,29.5M307.6,39.2l0.2,28.9 0.2,22.5 0.4,18.5 0.6,15.4 0.7,12.5 0.9,11.5 0.9,10.4 2.4,22.4 1.1,13.1 0.5,7.7 0.3,7.6 0.2,7.7 0.1,7.6 -0.1,7.7 -0.2,7.7 -0.3,7.6 -0.5,7.7 -1.1,13.1 -2.4,22.4 -0.9,10.4 -0.9,11.5 -0.7,12.5 -0.6,15.4 -0.4,18.5 -0.2,22.5 -0.2,28.9M310.9,39.2l0.1,28.4 0.3,21.9 0.4,18 0.5,15.9 0.7,12.5 0.8,12.1 0.9,10.4 2.2,23.5 1,12.5 0.4,7.7 0.3,7.6 0.2,7.7 0.1,7.6 -0.1,7.7 -0.2,7.7 -0.3,7.6 -0.4,7.7 -1,12.5 -2.2,23.5 -0.9,10.4 -0.8,12.1 -0.7,12.5 -0.5,15.9 -0.4,18 -0.3,21.9 -0.1,28.4M314.2,39.2l0.1,27.3 0.3,21.9 0.3,18 0.5,15.9 0.6,12.5 0.8,12.1 0.8,10.9 2.1,24.1 0.9,13.1 0.7,14.7 0.2,15.3 -0.2,15.4 -0.7,14.7 -0.9,13.1 -2.1,24.1 -0.8,10.9 -0.8,12.1 -0.6,12.5 -0.5,15.9 -0.3,18 -0.3,21.9 -0.1,27.3M317.4,39.2l0.2,26.8 0.2,21.3 0.4,18 0.4,15.9 0.6,12.5 0.7,12.6 2.7,35.6 0.8,13.1 0.6,15.3 0.2,14.7 -0.2,14.8 -0.6,15.3 -0.8,13.1 -2.7,35.6 -0.7,12.6 -0.6,12.5 -0.4,15.9 -0.4,18 -0.2,21.3 -0.2,26.8M320.7,39.2l0.4,47.5 0.3,18.1 0.4,15.3 0.6,13.1 0.6,12.6 2.5,36.1 0.8,13.1 0.5,15.3 0.2,14.7 -0.2,14.8 -0.5,15.3 -0.8,13.1 -2.5,36.1 -0.6,12.6 -0.6,13.1 -0.4,15.3 -0.3,18.1 -0.4,47.5M324,39.2l0.3,46.4 0.3,17.5 0.5,15.9 0.4,13.1 0.6,12.6 2.3,36.6 0.7,13.7 0.6,15.3 0.1,14.7 -0.1,14.8 -0.6,15.3 -0.7,13.7 -2.3,36.6 -0.6,12.6 -0.4,13.1 -0.5,15.9 -0.3,17.5 -0.3,46.4M327.3,39.2l0.3,45.3 0.3,17.5 0.4,15.9 0.4,13.1 0.6,13.1 2.1,37.2 0.6,13.7 0.5,15.3 0.2,14.7 -0.2,14.8 -0.5,15.3 -0.6,13.7 -2.1,37.2 -0.6,13.1 -0.4,13.1 -0.4,15.9 -0.3,17.5 -0.3,45.3M330.5,39.2l0.4,44.8 0.2,17.5 0.4,15.3 0.9,26.2 1.9,38.3 0.6,13.7 0.5,15.3 0.1,14.7 -0.1,14.8 -0.5,15.3 -0.6,13.7 -1.9,38.3 -0.9,26.2 -0.4,15.3 -0.2,17.5 -0.4,44.8M333.8,39.2l0.3,43.7 0.6,32.8 0.8,26.8 1.8,38.8 0.6,13.7 0.4,15.3 0.1,14.7 -0.1,14.8 -0.4,15.3 -0.6,13.7 -1.8,38.8 -0.8,26.8 -0.6,32.8 -0.3,43.7M337.1,39.2l0.3,43.2 0.5,32.8 0.8,26.7 2.1,52.5 0.4,15.9 0.1,14.7 -0.1,14.8 -0.4,15.9 -2.1,52.5 -0.8,26.7 -0.5,32.8 -0.3,43.2M340.4,39.2l0.2,42.6 0.5,32.3 0.7,26.8 1.9,53.5 0.4,15.9 0.1,14.7 -0.1,14.8 -0.4,15.9 -1.9,53.5 -0.7,26.8 -0.5,32.3 -0.2,42.6M343.6,39.2l0.3,42.1 0.4,32.2 0.7,26.8 1.7,54.1 0.3,15.9 0.1,14.7 -0.1,14.8 -0.3,15.9 -1.7,54.1 -0.7,26.8 -0.4,32.2 -0.3,42.1M346.9,39.2l0.2,41 0.4,32.2 0.6,27.4 1.6,54.6 0.3,15.9 0.1,14.7 -0.1,14.8 -0.3,15.9 -1.6,54.6 -0.6,27.4 -0.4,32.2 -0.2,41M350.2,39.2l0.2,40.4 0.3,32.3 0.6,27.3 1.4,54.7 0.3,15.8 0,15.3 0,15.4 -0.3,15.8 -1.4,54.7 -0.6,27.3 -0.3,32.3 -0.2,40.4M353.5,39.2l0.1,40.4 0.4,31.7 0.4,27.4 1.3,55.2 0.2,15.8 0.1,15.3 -0.1,15.4 -0.2,15.8 -1.3,55.2 -0.4,27.4 -0.4,31.7 -0.1,40.4M356.7,39.2l0.2,39.3 0.3,31.7 0.4,27.4 1.1,56.3 0.2,15.8 0.1,15.3 -0.1,15.4 -0.2,15.8 -1.1,56.3 -0.4,27.4 -0.3,31.7 -0.2,39.3M360,39.2l0.1,39.3 0.3,31.2 0.4,27.9 1,55.7 0.2,31.7 -0.2,31.8 -1,55.7 -0.4,27.9 -0.3,31.2 -0.1,39.3M363.3,39.2l0.1,38.8 0.2,31.7 0.3,27.3 0.9,56.3 0.2,31.7 -0.2,31.8 -0.9,56.3 -0.3,27.3 -0.2,31.7 -0.1,38.8M366.6,39.2l0.2,69.9 1,84.2 0.2,31.7 -0.2,31.8 -1,84.2 -0.2,69.9M369.8,39.2l0.3,69.4 0.8,84.2 0.1,32.2 -0.1,32.3 -0.8,84.2 -0.3,69.4M373.1,39.2l0.2,68.9 0.6,84.7 0.1,32.2 -0.1,32.3 -0.6,84.7 -0.2,68.9M376.4,39.2l0.1,68.9 0.5,84.7 0.1,32.2 -0.1,32.3 -0.5,84.7 -0.1,68.9M379.6,39.2l0.1,68.9 0.4,116.9 -0.4,117 -0.1,68.9M382.9,39.2l0.2,185.8 -0.2,185.9" fill="none" stroke="#2e2e2e" stroke-width="1"/>
<path d="M167.5,218.54L386.17,274.02M167.5,217.64L386.17,272.23M167.5,216.98L386.17,269.73M167.5,216.6L386.17,266.62M167.5,216.52L386.17,263.01M167.5,216.76L386.17,258.99M167.5,217.3L386.17,254.65M167.5,218.12L386.17,250.04M167.5,219.19L386.17,245.25M167.5,220.47L386.17,240.31M167.5,221.91L386.17,235.28M167.5,223.45L386.17,230.18M167.5,225.05L386.17,225.05M167.5,226.65L386.17,219.92M167.5,228.19L386.17,214.82M167.5,229.63L386.17,209.79M167.5,230.91L386.17,204.85M167.5,231.98L386.17,200.06M167.5,232.8L386.17,195.45M167.5,233.34L386.17,191.11M167.5,233.58L386.17,187.09M167.5,233.5L386.17,183.48M167.5,233.12L386.17,180.37M167.5,232.46L386.17,177.87M167.5,231.56L386.17,176.08" fill="none" stroke="#111" stroke-width="0.7"/>
<path d="M276.8,225l1,4.2 0.9,1.7 0.9,1.3 0.9,1.1 0.9,1 1.9,1.7 1.8,1.4 1.8,1.3 1.9,1.2 2.7,1.7 5.5,2.9 5.6,2.6 7.3,3.2 9.2,3.5 9.2,3.3 10.1,3.4 11,3.4 11,3.2 12.9,3.6 12.9,3.3M276.8,225l1,3.1 0.9,1.7 0.9,1.2 1.8,2.1 2.8,2.4 1.8,1.3 1.9,1.3 4.6,2.7 5.5,2.8 6.4,3 7.3,3 8.3,3.1 9.2,3.2 10.1,3.3 11,3.3 11.1,3.2 11.9,3.2 12.9,3.3M276.8,225l1,2.3 0.9,1.5 0.9,1.2 0.9,1 1.8,1.8 2.8,2.1 3.7,2.4 4.6,2.6 5.5,2.6 6.4,2.8 7.4,2.9 8.2,3 9.2,3 10.1,3.2 11.1,3.2 11,3.1 11.9,3.1 12,2.9M276.8,225l1,1.8 0.9,1.3 1.8,2 2.8,2.3 2.7,1.9 1.9,1.1 2.7,1.5 4.6,2.3 5.5,2.4 6.5,2.6 7.3,2.7 8.3,2.7 9.2,2.9 9.1,2.7 10.2,2.8 11,2.9 11.9,2.9 12,2.8M276.8,225l1,1.4 0.9,1.1 1.8,1.7 2.8,2.1 3.6,2.3 4.6,2.3 4.6,2.1 5.5,2.2 6.5,2.3 7.3,2.5 8.3,2.5 9.2,2.7 9.2,2.4 10.1,2.6 11,2.7 11,2.5 12,2.6M276.8,225l1,1.1 0.9,0.9 0.9,0.8 1.8,1.4 2.8,1.7 3.7,1.9 4.6,2 4.5,1.8 5.6,2 6.4,2.1 7.3,2.2 8.3,2.3 9.2,2.4 9.2,2.2 10.1,2.3 10.1,2.2 11,2.3 12,2.4M276.8,225l1.9,1.6 2.7,1.8 2.8,1.5 3.7,1.6 4.6,1.8 4.5,1.6 6.5,2 6.4,1.8 7.4,1.9 8.2,2.1 9.2,2 9.2,2 10.1,2.1 10.1,1.9 22.1,3.9M276.8,225l1.9,1.3 2.7,1.5 3.7,1.5 3.7,1.4 4.6,1.5 5.5,1.5 5.5,1.4 6.4,1.6 7.4,1.6 8.2,1.7 17.5,3.3 20.2,3.4 22.1,3.3M276.8,225l2.8,1.4 2.7,1.1 3.7,1.2 3.7,1 4.6,1.2 5.5,1.3 11.9,2.3 15.7,2.7 17.4,2.7 20.2,2.7 21.2,2.6M276.8,225l2.8,1 2.7,0.8 3.7,0.9 3.7,0.8 10.1,1.9 11.9,1.8 15.7,2 17.4,2 19.3,2 22.1,2.1M276.8,225l2.8,0.7 2.7,0.5 7.4,1.2 10.1,1.2 11.9,1.2 15.7,1.4 17.4,1.3 19.3,1.4 22.1,1.4M276.8,225l5.5,0.6 7.4,0.6 10.1,0.6 12.9,0.7 33,1.3 40.5,1.4M276.8,225l109.4,0M276.8,225l5.5-0.5 7.4-0.6 10.1-0.6 12.9-0.7 33-1.3 40.5-1.4M276.8,225l2.8-0.6 2.7-0.5 7.4-1.2 10.1-1.2 11.9-1.2 15.7-1.4 17.4-1.3 19.3-1.4 22.1-1.4M276.8,225l2.8-0.9 2.7-0.8 3.7-0.9 3.7-0.8 10.1-1.9 11.9-1.8 15.7-2 17.4-2 19.3-2 22.1-2.1M276.8,225l2.8-1.3 2.7-1.1 3.7-1.2 3.7-1 4.6-1.2 5.5-1.3 11.9-2.3 15.7-2.7 17.4-2.7 20.2-2.7 21.2-2.6M276.8,225l1.9-1.2 2.7-1.5 3.7-1.5 3.7-1.4 4.6-1.5 5.5-1.5 5.5-1.4 6.4-1.6 7.4-1.6 8.2-1.7 17.5-3.3 20.2-3.4 22.1-3.3M276.8,225l1.9-1.5 2.7-1.8 2.8-1.5 3.7-1.6 4.6-1.8 4.5-1.6 6.5-2 6.4-1.8 7.4-1.9 8.2-2.1 9.2-2 9.2-2 10.1-2.1 10.1-1.9 22.1-3.9M276.8,225l1-1 0.9-0.9 0.9-0.8 1.8-1.4 2.8-1.7 3.7-1.9 4.6-2 4.5-1.8 5.6-2 6.4-2.1 7.3-2.2 8.3-2.3 9.2-2.4 9.2-2.2 10.1-2.3 10.1-2.2 11-2.3 12-2.4M276.8,225l1-1.3 0.9-1.1 1.8-1.7 2.8-2.1 3.6-2.3 4.6-2.3 4.6-2.1 5.5-2.2 6.5-2.3 7.3-2.5 8.3-2.5 9.2-2.7 9.2-2.4 10.1-2.6 11-2.7 11-2.5 12-2.6M276.8,225l1-1.7 0.9-1.3 1.8-2 2.8-2.3 2.7-1.9 1.9-1.1 2.7-1.5 4.6-2.3 5.5-2.4 6.5-2.6 7.3-2.7 8.3-2.7 9.2-2.9 9.1-2.7 10.2-2.8 11-2.9 11.9-2.9 12-2.8M276.8,225l1-2.2 0.9-1.5 0.9-1.2 0.9-1 1.8-1.8 2.8-2.1 3.7-2.4 4.6-2.6 5.5-2.6 6.4-2.8 7.4-2.9 8.2-3 9.2-3 10.1-3.2 11.1-3.2 11-3.1 11.9-3.1 12-2.9M276.8,225l1-3 0.9-1.7 0.9-1.2 1.8-2.1 2.8-2.4 1.8-1.3 1.9-1.3 4.6-2.7 5.5-2.8 6.4-3 7.3-3 8.3-3.1 9.2-3.2 10.1-3.3 11-3.3 11.1-3.2 11.9-3.2 12.9-3.3M276.8,225l1-4.1 0.9-1.7 0.9-1.3 0.9-1.1 0.9-1 1.9-1.7 1.8-1.4 1.8-1.3 1.9-1.2 2.7-1.7 5.5-2.9 5.6-2.6 7.3-3.2 9.2-3.5 9.2-3.3 10.1-3.4 11-3.4 11-3.2 12.9-3.6 12.9-3.3" fill="none" stroke="#111" stroke-width="1.05" stroke-linejoin="round"/>
<line x1="219.64" y1="181.31" x2="219.64" y2="268.79" stroke="#222" stroke-width="1.1"/>
<line x1="386.17" y1="51.1" x2="386.17" y2="400" stroke="#111" stroke-width="2.7" stroke-dasharray="2.5 3.47"/>
<path d="M254.97,48.1 L254.97,181.31 L276.83,181.31 L276.83,268.79 L254.97,268.79 L254.97,402" fill="none" stroke="#111" stroke-width="2.8" stroke-linejoin="miter"/>
</g>
<rect x="167.5" y="50.1" width="328" height="349.9" fill="none" stroke="#333" stroke-width="1.4"/>
<line x1="189.37" y1="400" x2="189.37" y2="396" stroke="#333" stroke-width="1.4" />
<line x1="189.37" y1="50.1" x2="189.37" y2="54.1" stroke="#333" stroke-width="1.4" />
<line x1="211.23" y1="400" x2="211.23" y2="396" stroke="#333" stroke-width="1.4" />
<line x1="211.23" y1="50.1" x2="211.23" y2="54.1" stroke="#333" stroke-width="1.4" />
<line x1="233.1" y1="400" x2="233.1" y2="396" stroke="#333" stroke-width="1.4" />
<line x1="233.1" y1="50.1" x2="233.1" y2="54.1" stroke="#333" stroke-width="1.4" />
<line x1="254.97" y1="400" x2="254.97" y2="396" stroke="#333" stroke-width="1.4" />
<line x1="254.97" y1="50.1" x2="254.97" y2="54.1" stroke="#333" stroke-width="1.4" />
<line x1="276.83" y1="400" x2="276.83" y2="392.5" stroke="#333" stroke-width="1.4" />
<line x1="276.83" y1="50.1" x2="276.83" y2="57.6" stroke="#333" stroke-width="1.4" />
<line x1="298.7" y1="400" x2="298.7" y2="396" stroke="#333" stroke-width="1.4" />
<line x1="298.7" y1="50.1" x2="298.7" y2="54.1" stroke="#333" stroke-width="1.4" />
<line x1="320.57" y1="400" x2="320.57" y2="396" stroke="#333" stroke-width="1.4" />
<line x1="320.57" y1="50.1" x2="320.57" y2="54.1" stroke="#333" stroke-width="1.4" />
<line x1="342.43" y1="400" x2="342.43" y2="396" stroke="#333" stroke-width="1.4" />
<line x1="342.43" y1="50.1" x2="342.43" y2="54.1" stroke="#333" stroke-width="1.4" />
<line x1="364.3" y1="400" x2="364.3" y2="396" stroke="#333" stroke-width="1.4" />
<line x1="364.3" y1="50.1" x2="364.3" y2="54.1" stroke="#333" stroke-width="1.4" />
<line x1="386.17" y1="400" x2="386.17" y2="392.5" stroke="#333" stroke-width="1.4" />
<line x1="386.17" y1="50.1" x2="386.17" y2="57.6" stroke="#333" stroke-width="1.4" />
<line x1="408.03" y1="400" x2="408.03" y2="396" stroke="#333" stroke-width="1.4" />
<line x1="408.03" y1="50.1" x2="408.03" y2="54.1" stroke="#333" stroke-width="1.4" />
<line x1="429.9" y1="400" x2="429.9" y2="396" stroke="#333" stroke-width="1.4" />
<line x1="429.9" y1="50.1" x2="429.9" y2="54.1" stroke="#333" stroke-width="1.4" />
<line x1="451.77" y1="400" x2="451.77" y2="396" stroke="#333" stroke-width="1.4" />
<line x1="451.77" y1="50.1" x2="451.77" y2="54.1" stroke="#333" stroke-width="1.4" />
<line x1="473.63" y1="400" x2="473.63" y2="396" stroke="#333" stroke-width="1.4" />
<line x1="473.63" y1="50.1" x2="473.63" y2="54.1" stroke="#333" stroke-width="1.4" />
<line x1="167.5" y1="378.13" x2="171.5" y2="378.13" stroke="#333" stroke-width="1.4" />
<line x1="495.5" y1="378.13" x2="491.5" y2="378.13" stroke="#333" stroke-width="1.4" />
<line x1="167.5" y1="356.26" x2="171.5" y2="356.26" stroke="#333" stroke-width="1.4" />
<line x1="495.5" y1="356.26" x2="491.5" y2="356.26" stroke="#333" stroke-width="1.4" />
<line x1="167.5" y1="334.39" x2="175" y2="334.39" stroke="#333" stroke-width="1.4" />
<line x1="495.5" y1="334.39" x2="488" y2="334.39" stroke="#333" stroke-width="1.4" />
<line x1="167.5" y1="312.52" x2="171.5" y2="312.52" stroke="#333" stroke-width="1.4" />
<line x1="495.5" y1="312.52" x2="491.5" y2="312.52" stroke="#333" stroke-width="1.4" />
<line x1="167.5" y1="290.66" x2="171.5" y2="290.66" stroke="#333" stroke-width="1.4" />
<line x1="495.5" y1="290.66" x2="491.5" y2="290.66" stroke="#333" stroke-width="1.4" />
<line x1="167.5" y1="268.79" x2="171.5" y2="268.79" stroke="#333" stroke-width="1.4" />
<line x1="495.5" y1="268.79" x2="491.5" y2="268.79" stroke="#333" stroke-width="1.4" />
<line x1="167.5" y1="246.92" x2="171.5" y2="246.92" stroke="#333" stroke-width="1.4" />
<line x1="495.5" y1="246.92" x2="491.5" y2="246.92" stroke="#333" stroke-width="1.4" />
<line x1="167.5" y1="225.05" x2="175" y2="225.05" stroke="#333" stroke-width="1.4" />
<line x1="495.5" y1="225.05" x2="488" y2="225.05" stroke="#333" stroke-width="1.4" />
<line x1="167.5" y1="203.18" x2="171.5" y2="203.18" stroke="#333" stroke-width="1.4" />
<line x1="495.5" y1="203.18" x2="491.5" y2="203.18" stroke="#333" stroke-width="1.4" />
<line x1="167.5" y1="181.31" x2="171.5" y2="181.31" stroke="#333" stroke-width="1.4" />
<line x1="495.5" y1="181.31" x2="491.5" y2="181.31" stroke="#333" stroke-width="1.4" />
<line x1="167.5" y1="159.44" x2="171.5" y2="159.44" stroke="#333" stroke-width="1.4" />
<line x1="495.5" y1="159.44" x2="491.5" y2="159.44" stroke="#333" stroke-width="1.4" />
<line x1="167.5" y1="137.57" x2="171.5" y2="137.57" stroke="#333" stroke-width="1.4" />
<line x1="495.5" y1="137.57" x2="491.5" y2="137.57" stroke="#333" stroke-width="1.4" />
<line x1="167.5" y1="115.71" x2="175" y2="115.71" stroke="#333" stroke-width="1.4" />
<line x1="495.5" y1="115.71" x2="488" y2="115.71" stroke="#333" stroke-width="1.4" />
<line x1="167.5" y1="93.84" x2="171.5" y2="93.84" stroke="#333" stroke-width="1.4" />
<line x1="495.5" y1="93.84" x2="491.5" y2="93.84" stroke="#333" stroke-width="1.4" />
<line x1="167.5" y1="71.97" x2="171.5" y2="71.97" stroke="#333" stroke-width="1.4" />
<line x1="495.5" y1="71.97" x2="491.5" y2="71.97" stroke="#333" stroke-width="1.4" />
<text x="161.5" y="430" font-size="26" text-anchor="middle" fill="#222" >-10</text>
<text x="277.13" y="430" font-size="26" text-anchor="middle" fill="#222" >0</text>
<text x="385.17" y="430" font-size="26" text-anchor="middle" fill="#222" >10</text>
<text x="492.9" y="430" font-size="26" text-anchor="middle" fill="#222" >20</text>
<text x="161.5" y="343.69" font-size="26" text-anchor="end" fill="#222" >-10</text>
<text x="157.3" y="233.55" font-size="26" text-anchor="end" fill="#222" >0</text>
<text x="161.5" y="125.01" font-size="26" text-anchor="end" fill="#222" >10</text>
<text x="166.7" y="32.5" font-size="37.5" text-anchor="start" fill="#222" >p/L= 0.2, r<tspan font-size="25">0</tspan>/L=0.4</text>
<clipPath id="cp2"><rect x="652.3" y="50.5" width="327.4" height="349"/></clipPath>
<g clip-path="url(#cp2)">
<path d="M700.5,39.6l0.1,31.6 0.2,23.5 0.4,18 0.5,14.1 0.7,11.5 0.9,8.7 0.6,3.8 0.6,3.3 0.7,2.7 0.8,2.8 1.1,2.7 1.1,2.2 1.4,2.1 1.5,1.7 1.8,1.6 2.2,1.6 2.1,1.1 2.5,1.1 2.4,0.9 2.8,0.8 6,1.2 8.7,1.3 18.6,2.1 2.7,0.5 0.5,0.2 0.6,0.6 0.4,1.2 0.3,2.1 0.4,7.7 0.3,13.6 0.1,19.1 -0.1,19.1 -0.3,13.6 -0.4,7.7 -0.3,2.1 -0.4,1.2 -0.6,0.6 -0.5,0.2 -2.7,0.5 -18.6,2.1 -8.7,1.3 -6,1.2 -2.8,0.8 -2.4,0.9 -2.5,1.1 -2.1,1.1 -2.2,1.6 -1.8,1.6 -1.5,1.7 -1.4,2.1 -1.1,2.2 -1.1,2.7 -0.8,2.8 -0.7,2.7 -0.6,3.3 -0.6,3.8 -0.9,8.7 -0.7,11.5 -0.5,14.1 -0.4,18 -0.2,23.5 -0.1,31.6M705,39.6l0.2,26.2 0.3,20.7 0.5,16.3 0.6,13.7 0.8,10.9 1.1,9.3 0.6,3.8 0.8,3.8 0.8,3.3 1,3.2 1,2.8 1.3,2.8 1.4,2.6 1.5,2.2 1.8,2.2 1.8,1.7 2.2,1.7 2.7,1.8 2.2,1.2 2.2,1 4.9,1.8 3.6,1.1 4.1,1.1 12.5,2.8 3.3,0.9 2.7,0.9 1.1,0.7 0.6,0.7 0.4,0.6 0.4,1.1 0.5,2.1 0.5,3.3 0.4,4.9 0.3,6 0.2,7.7 0.2,18.5 -0.2,18.5 -0.2,7.7 -0.3,6 -0.4,4.9 -0.5,3.3 -0.5,2.1 -0.4,1.1 -0.4,0.6 -0.6,0.7 -1.1,0.7 -2.7,0.9 -3.3,0.9 -12.5,2.8 -4.1,1.1 -3.6,1.1 -4.9,1.8 -2.2,1 -2.2,1.2 -2.7,1.8 -2.2,1.7 -1.8,1.7 -1.8,2.2 -1.5,2.2 -1.4,2.6 -1.3,2.8 -1,2.8 -1,3.2 -0.8,3.3 -0.8,3.8 -0.6,3.8 -1.1,9.3 -0.8,10.9 -0.6,13.7 -0.5,16.3 -0.3,20.7 -0.2,26.2M709.5,39.6l0.2,23.4 0.4,18.6 0.6,15.3 0.7,13 0.9,10.9 1.2,9.3 0.7,3.8 0.7,3.9 0.8,3.2 1,3.3 1.1,3.3 1.1,2.7 1.4,2.7 1.6,2.7 1.6,2.2 1.8,2.2 2.2,2.2 2,1.6 2.3,1.7 2.6,1.6 2.5,1.3 2.9,1.4 5.5,2.2 11.2,4 3.3,1.3 1.6,0.9 1.1,0.9 0.6,0.5 0.8,1.1 0.5,1.1 0.5,1.1 0.7,2.7 0.6,3.9 0.4,4.3 0.4,6 0.3,7.7 0.2,8.1 0.1,9.3 -0.1,9.3 -0.2,8.1 -0.3,7.7 -0.4,6 -0.4,4.3 -0.6,3.9 -0.7,2.7 -0.5,1.1 -0.5,1.1 -0.8,1.1 -0.6,0.5 -1.1,0.9 -1.6,0.9 -3.3,1.3 -11.2,4 -5.5,2.2 -2.9,1.4 -2.5,1.3 -2.6,1.6 -2.3,1.7 -2,1.6 -2.2,2.2 -1.8,2.2 -1.6,2.2 -1.6,2.7 -1.4,2.7 -1.1,2.7 -1.1,3.3 -1,3.3 -0.8,3.2 -0.7,3.9 -0.7,3.8 -1.2,9.3 -0.9,10.9 -0.7,13 -0.6,15.3 -0.4,18.6 -0.2,23.4M714,39.6l0.3,20.7 0.4,17.5 0.6,14.7 0.7,12 1,10.3 1.2,9.3 1.3,7.7 0.9,3.8 0.9,3.2 1.1,3.3 1.3,3.3 1.2,2.7 1.4,2.7 1.7,2.8 1.6,2.1 1.9,2.2 2.1,2.2 1.9,1.6 2,1.7 2.3,1.6 2.7,1.7 5,2.7 10.1,4.9 3.3,1.9 1.6,1.2 1.1,1 1.1,1.3 0.6,1.1 1,2.2 0.9,3.3 0.7,3.8 0.6,4.9 0.5,6 0.4,7.1 0.2,8.2 0.1,8.7 -0.1,8.7 -0.2,8.2 -0.4,7.1 -0.5,6 -0.6,4.9 -0.7,3.8 -0.9,3.3 -1,2.2 -0.6,1.1 -1.1,1.3 -1.1,1 -1.6,1.2 -3.3,1.9 -10.1,4.9 -5,2.7 -2.7,1.7 -2.3,1.6 -2,1.7 -1.9,1.6 -2.1,2.2 -1.9,2.2 -1.6,2.1 -1.7,2.8 -1.4,2.7 -1.2,2.7 -1.3,3.3 -1.1,3.3 -0.9,3.2 -0.9,3.8 -1.3,7.7 -1.2,9.3 -1,10.3 -0.7,12 -0.6,14.7 -0.4,17.5 -0.3,20.7M718.4,39.6l0.4,19.1 0.5,16.3 0.6,13.7 0.8,12 1,10.3 1.1,8.8 1.4,7.6 0.9,3.8 0.8,3.3 1,3.3 1.2,3.2 1.1,2.7 1.3,2.8 1.5,2.7 1.6,2.5 1.7,2.4 1.9,2.2 2,2.2 1.7,1.6 2.6,2.2 2.1,1.6 4.7,3.3 8.4,5.3 3.3,2.3 1.6,1.5 1.2,1.3 1.2,1.6 1,1.6 1.1,2.8 0.9,3.2 0.9,4.4 0.6,4.9 0.5,6 0.4,7.1 0.3,7.6 0.1,8.2 -0.1,8.2 -0.3,7.6 -0.4,7.1 -0.5,6 -0.6,4.9 -0.9,4.4 -0.9,3.2 -1.1,2.8 -1,1.6 -1.2,1.6 -1.2,1.3 -1.6,1.5 -3.3,2.3 -8.4,5.3 -4.7,3.3 -2.1,1.6 -2.6,2.2 -1.7,1.6 -2,2.2 -1.9,2.2 -1.7,2.4 -1.6,2.5 -1.5,2.7 -1.3,2.8 -1.1,2.7 -1.2,3.2 -1,3.3 -0.8,3.3 -0.9,3.8 -1.4,7.6 -1.1,8.8 -1,10.3 -0.8,12 -0.6,13.7 -0.5,16.3 -0.4,19.1M722.9,39.6l0.4,18 0.5,15.3 0.7,13 0.8,11.5 1,10.4 1.2,8.7 1.3,7.6 1.7,7.1 1,3.3 1.1,3.3 1.3,3.2 1.3,2.7 1.4,2.8 1.2,2.2 1.8,2.7 1.6,2.2 3.3,3.8 3.9,3.8 3.8,3.3 8.1,6.3 3.3,2.9 1.7,1.7 1.2,1.6 1.1,1.6 1.2,2.2 1.2,3.3 1.1,3.8 0.8,4.4 0.7,4.9 0.5,6 0.4,6.5 0.3,7.7 0.1,7.6 -0.1,7.6 -0.3,7.7 -0.4,6.5 -0.5,6 -0.7,4.9 -0.8,4.4 -1.1,3.8 -1.2,3.3 -1.2,2.2 -1.1,1.6 -1.2,1.6 -1.7,1.7 -3.3,2.9 -8.1,6.3 -3.8,3.3 -3.9,3.8 -3.3,3.8 -1.6,2.2 -1.8,2.7 -1.2,2.2 -1.4,2.8 -1.3,2.7 -1.3,3.2 -1.1,3.3 -1,3.3 -1.7,7.1 -1.3,7.6 -1.2,8.7 -1,10.4 -0.8,11.5 -0.7,13 -0.5,15.3 -0.4,18M727.4,39.6l0.4,16.9 0.5,14.7 0.7,12.6 0.8,10.9 1,9.8 1.2,8.7 1.3,7.6 1.7,7.1 0.9,3.3 1,3.3 2.1,5.4 1.3,2.8 1.4,2.7 1.5,2.7 1.4,2.2 3.2,4.4 3.3,3.8 3.7,3.8 7.7,7.3 3.3,3.5 1.6,2.1 1.3,1.8 1.2,2.2 1,2.2 1.2,3.2 1,3.9 0.8,4.3 0.8,5.5 0.6,6 0.4,6.5 0.2,7.1 0.1,7.1 -0.1,7.1 -0.2,7.1 -0.4,6.5 -0.6,6 -0.8,5.5 -0.8,4.3 -1,3.9 -1.2,3.2 -1,2.2 -1.2,2.2 -1.3,1.8 -1.6,2.1 -3.3,3.5 -7.7,7.3 -3.7,3.8 -3.3,3.8 -3.2,4.4 -1.4,2.2 -1.5,2.7 -1.4,2.7 -1.3,2.8 -2.1,5.4 -1,3.3 -0.9,3.3 -1.7,7.1 -1.3,7.6 -1.2,8.7 -1,9.8 -0.8,10.9 -0.7,12.6 -0.5,14.7 -0.4,16.9M731.9,39.6l0.4,15.8 0.5,13.6 0.7,12 0.8,10.9 0.9,9.3 1.1,8.7 1.4,7.7 1.5,7.1 1.8,6.5 2.2,6 2.4,5.5 2.6,4.9 2.8,4.3 3.2,4.4 3.2,3.8 7.3,8.2 3.3,4.1 1.3,1.9 1.4,2.4 1.3,2.5 0.9,2.2 1.3,3.8 1,3.8 0.8,4.4 0.8,5.4 0.6,6 0.4,6 0.3,7.1 0.1,7.1 -0.1,7.1 -0.3,7.1 -0.4,6 -0.6,6 -0.8,5.4 -0.8,4.4 -1,3.8 -1.3,3.8 -0.9,2.2 -1.3,2.5 -1.4,2.4 -1.3,1.9 -3.3,4.1 -7.3,8.2 -3.2,3.8 -3.2,4.4 -2.8,4.3 -2.6,4.9 -2.4,5.5 -2.2,6 -1.8,6.5 -1.5,7.1 -1.4,7.7 -1.1,8.7 -0.9,9.3 -0.8,10.9 -0.7,12 -0.5,13.6 -0.4,15.8M736.3,39.6l0.5,15.3 0.5,13 0.7,11.5 0.8,10.4 0.9,9.2 1,8.2 1.3,7.6 1.5,7.1 1.7,6.6 2,6 2.2,5.4 2.6,5.5 2.5,4.3 3.2,5 2.7,3.8 7,9.1 2.8,4 1.6,2.7 1.1,2.2 1.3,2.7 1,2.7 1.2,3.8 1.1,4.4 0.9,4.9 0.7,4.9 0.5,6 0.4,6 0.3,6.6 0.1,6.5 -0.1,6.5 -0.3,6.6 -0.4,6 -0.5,6 -0.7,4.9 -0.9,4.9 -1.1,4.4 -1.2,3.8 -1,2.7 -1.3,2.7 -1.1,2.2 -1.6,2.7 -2.8,4 -7,9.1 -2.7,3.8 -3.2,5 -2.5,4.3 -2.6,5.5 -2.2,5.4 -2,6 -1.7,6.6 -1.5,7.1 -1.3,7.6 -1,8.2 -0.9,9.2 -0.8,10.4 -0.7,11.4 -0.5,13.1 -0.5,15.3M740.8,39.6l0.4,14.2 0.6,12.5 0.6,11.5 0.8,9.8 0.9,9.3 1,8.1 1.3,7.7 1.4,7.1 1.6,6.5 1.9,6 2,5.5 2.3,5.4 2.2,4.4 2.9,4.9 2.7,4.3 6.2,9.4 3,4.8 1.4,2.7 1.3,2.8 1.2,2.7 1,2.7 1.2,4.4 1.1,4.3 0.8,5 0.7,4.9 0.5,5.4 0.5,6 0.2,6.6 0.1,6.5 -0.1,6.5 -0.2,6.6 -0.5,6 -0.5,5.4 -0.7,4.9 -0.8,5 -1.1,4.3 -1.2,4.4 -1,2.7 -1.2,2.7 -1.3,2.8 -1.4,2.7 -3,4.8 -6.2,9.4 -2.7,4.3 -2.9,4.9 -2.2,4.4 -2.3,5.4 -2,5.5 -1.9,6 -1.6,6.5 -1.4,7.1 -1.3,7.7 -1,8.1 -0.9,9.3 -0.8,9.8 -0.6,11.5 -0.6,12.5 -0.4,14.2M745.3,39.6l0.4,13.6 0.5,12 0.7,10.9 0.7,9.8 0.9,8.8 1,8.1 1.2,7.7 1.3,7.1 1.6,6.5 1.7,6 2,6 2.2,5.5 2.2,4.9 2.6,4.9 2.4,4.3 5.6,9.7 3.1,5.6 2.4,5.5 1.1,2.8 1,3.2 1.2,4.3 1,4.4 0.8,4.9 0.7,4.9 0.5,5.5 0.4,6 0.3,6 0.1,6.5 -0.1,6.5 -0.3,6 -0.4,6 -0.5,5.5 -0.7,4.9 -0.8,4.9 -1,4.4 -1.2,4.3 -1,3.2 -1.1,2.8 -2.4,5.5 -3.1,5.6 -5.6,9.7 -2.4,4.3 -2.6,4.9 -2.2,4.9 -2.2,5.5 -2,6 -1.7,6 -1.6,6.5 -1.3,7.1 -1.2,7.7 -1,8.1 -0.9,8.8 -0.7,9.8 -0.7,10.9 -0.5,12 -0.4,13.6M749.7,39.6l0.4,13.1 0.5,11.4 0.7,10.4 0.7,9.8 0.8,8.7 1,8.2 1.2,7.6 1.3,7.1 1.4,6.6 1.6,6 1.9,6 2,5.4 2.1,4.9 2.2,4.9 7.8,15.3 2.6,5.5 2.5,6 1.1,3.2 1,3.3 1.1,4.4 0.9,4.3 0.8,4.9 0.7,5 0.5,5.4 0.4,6 0.2,6 0.1,6 -0.1,6 -0.2,6 -0.4,6 -0.5,5.4 -0.7,5 -0.8,4.9 -0.9,4.3 -1.1,4.4 -1,3.3 -1.1,3.2 -2.5,6 -2.6,5.5 -7.8,15.3 -2.2,4.9 -2.1,4.9 -2,5.4 -1.9,6 -1.6,6 -1.4,6.6 -1.3,7.1 -1.2,7.6 -1,8.2 -0.8,8.7 -0.7,9.8 -0.7,10.4 -0.5,11.4 -0.4,13.1M754.1,39.6l0.5,12.5 0.5,10.9 0.6,10.4 0.7,9.3 0.8,8.7 0.9,8.2 1.1,7.1 1.2,7.1 1.3,6.5 1.5,6 1.7,6 2,6 1.9,4.9 2.2,5.5 7.2,15.8 2.4,5.4 2.4,6.6 2,6.5 1,4.4 1,4.9 0.8,4.9 0.6,4.9 0.5,5.5 0.3,5.4 0.3,6 0,6 0,6 -0.3,6 -0.3,5.4 -0.5,5.5 -0.6,4.9 -0.8,4.9 -1,4.9 -1,4.4 -2,6.5 -2.4,6.6 -2.4,5.4 -7.2,15.8 -2.2,5.5 -1.9,4.9 -2,6 -1.7,6 -1.5,6 -1.3,6.5 -1.2,7.1 -1.1,7.1 -0.9,8.2 -0.8,8.7 -0.7,9.3 -0.6,10.4 -0.5,10.9 -0.5,12.5M758.5,39.6l0.5,12 0.5,10.9 0.5,9.8 0.7,9.3 0.8,8.7 0.9,7.6 1,7.1 1.1,7.1 1.3,6.6 1.4,6 1.6,6 1.8,6 1.6,4.9 2.1,5.4 6.8,16.7 2.4,6.2 2.4,7.1 1.7,6.6 1,4.3 0.9,4.9 0.8,4.9 0.5,4.9 0.5,5.5 0.4,5.4 0.2,5.5 0.1,6 -0.1,6 -0.2,5.5 -0.4,5.4 -0.5,5.5 -0.5,4.9 -0.8,4.9 -0.9,4.9 -1,4.3 -1.7,6.6 -2.4,7.1 -2.4,6.2 -6.8,16.7 -2.1,5.4 -1.6,4.9 -1.8,6 -1.6,6 -1.4,6 -1.3,6.6 -1.1,7.1 -1,7.1 -0.9,7.6 -0.8,8.7 -0.7,9.3 -0.5,9.8 -0.5,10.9 -0.5,12M762.9,39.6l1,22.4 0.5,9.8 0.7,8.7 0.8,8.7 0.8,7.7 1,7 1.1,7.1 1.2,6.6 1.3,6 1.4,6 1.7,6 1.7,5.4 1.8,5.5 6.3,16.9 2.2,6.5 2.2,7.1 1.6,6.6 1,4.3 0.8,4.9 0.7,4.9 0.7,5.5 0.4,5.4 0.4,5.5 0.1,5.4 0.1,5.5 -0.1,5.5 -0.1,5.4 -0.4,5.5 -0.4,5.4 -0.7,5.5 -0.7,4.9 -0.8,4.9 -1,4.3 -1.6,6.6 -2.2,7.1 -2.2,6.5 -6.3,16.9 -1.8,5.5 -1.7,5.4 -1.7,6 -1.4,6 -1.3,6 -1.2,6.6 -1.1,7.1 -1,7 -0.8,7.7 -0.8,8.7 -0.7,8.7 -0.5,9.8 -1,22.4M767.3,39.6l0.9,21.3 0.6,9.8 0.6,8.7 0.7,8.2 0.8,7.6 0.9,7.1 1.1,7.1 1.1,6.5 1.3,6.6 1.4,6 1.5,6 1.5,5.4 1.7,5.5 6,18 2,6.5 2,7.1 1.6,7.1 1,4.9 0.8,4.9 0.6,4.9 0.6,4.9 0.4,4.9 0.3,5.5 0.2,5.4 0,5.5 0,5.5 -0.2,5.4 -0.3,5.5 -0.4,4.9 -0.6,4.9 -0.6,4.9 -0.8,4.9 -1,4.9 -1.6,7.1 -2,7.1 -2,6.5 -6,18 -1.7,5.5 -1.5,5.4 -1.5,6 -1.4,6 -1.3,6.6 -1.1,6.5 -1.1,7.1 -0.9,7.1 -0.8,7.6 -0.7,8.2 -0.6,8.7 -0.6,9.8 -0.9,21.3M771.7,39.6l0.9,20.7 1.1,18 0.7,8.2 0.8,7.6 0.8,7.1 1,7.1 1.1,6.5 1.1,6 1.2,6 1.6,6.6 2.9,10.9 5.5,18.5 2.1,7.1 1.9,7.7 1.5,7 0.9,5 0.7,4.9 1.1,9.8 0.7,10.3 0.2,10.4 -0.2,10.4 -0.7,10.3 -1.1,9.8 -0.7,4.9 -0.9,5 -1.5,7 -1.9,7.7 -2.1,7.1 -5.5,18.5 -2.9,10.9 -1.6,6.6 -1.2,6 -1.1,6 -1.1,6.5 -1,7.1 -0.8,7.1 -0.8,7.6 -0.7,8.2 -1.1,18 -0.9,20.7M776.1,39.6l0.8,20.2 1.1,17.4 1.3,15.3 0.8,7.1 0.9,7.1 1,6.5 1.1,6.6 1.3,6.5 1.3,6 2.8,11.4 5.1,18.8 1.8,6.9 1.8,7.6 1.5,7.6 1.5,9.9 1,9.8 0.7,10.3 0.2,10.4 -0.2,10.4 -0.7,10.3 -1,9.8 -1.5,9.9 -1.5,7.6 -1.8,7.6 -1.8,6.9 -5.1,18.8 -2.8,11.4 -1.3,6 -1.3,6.5 -1.1,6.6 -1,6.5 -0.9,7.1 -0.8,7.1 -1.3,15.3 -1.1,17.4 -0.8,20.2M780.5,39.6l0.8,19.6 1,16.9 1.2,15.3 1.6,14.2 1,6.5 1,6.6 2.4,12.5 2.5,11.5 6.5,26.7 1.8,8.2 1.3,7.6 1.4,9.8 1,9.8 0.6,9.8 0.2,10.4 -0.2,10.4 -0.6,9.8 -1,9.8 -1.4,9.8 -1.3,7.6 -1.8,8.2 -6.5,26.7 -2.5,11.5 -2.4,12.5 -1,6.6 -1,6.5 -1.6,14.2 -1.2,15.3 -1,16.9 -0.8,19.6M784.8,39.6l0.8,19.1 1,16.9 1.2,15.3 1.4,13.6 1.8,13.1 2.2,12.5 2.5,12 6,27.3 1.6,8.2 1.2,7.6 1.3,9.8 1,9.8 0.5,9.8 0.2,10.4 -0.2,10.4 -0.5,9.8 -1,9.8 -1.3,9.8 -1.2,7.6 -1.6,8.2 -6,27.3 -2.5,12 -2.2,12.5 -1.8,13.1 -1.4,13.6 -1.2,15.3 -1,16.9 -0.8,19.1M789.2,39.6l0.7,18.5 0.9,16.4 1.1,15.3 1.4,13.6 1.7,13.1 2.1,13.1 2.2,12 5.6,27.8 1.4,8.2 1.2,7.6 1.2,9.8 0.9,9.8 0.5,9.8 0.2,10.4 -0.2,10.4 -0.5,9.8 -0.9,9.8 -1.2,9.8 -1.2,7.6 -1.4,8.2 -5.6,27.8 -2.2,12 -2.1,13.1 -1.7,13.1 -1.4,13.6 -1.1,15.3 -0.9,16.4 -0.7,18.5M793.5,39.6l0.7,18 0.8,16.3 1.1,14.8 1.3,13.6 1.5,13.1 1.9,13.1 2.1,12 5.2,28.9 1.4,8.7 1.1,7.6 1.1,9.9 0.8,9.8 0.4,9.8 0.2,9.8 -0.2,9.8 -0.4,9.8 -0.8,9.8 -1.1,9.9 -1.1,7.6 -1.4,8.7 -5.2,28.9 -2.1,12 -1.9,13.1 -1.5,13.1 -1.3,13.6 -1.1,14.8 -0.8,16.3 -0.7,18M797.9,39.6l0.6,17.4 0.8,15.9 0.9,14.7 1.2,13.6 1.4,13.1 1.8,13.1 1.9,12.5 4.9,29.5 1.2,8.2 1.1,8.1 1,9.9 0.7,9.8 0.4,9.8 0.2,9.8 -0.2,9.8 -0.4,9.8 -0.7,9.8 -1,9.9 -1.1,8.1 -1.2,8.2 -4.9,29.5 -1.9,12.5 -1.8,13.1 -1.4,13.1 -1.2,13.6 -0.9,14.7 -0.8,15.9 -0.6,17.4M802.2,39.6l0.6,16.9 0.7,15.8 0.9,14.2 1.1,13.6 1.3,13.7 1.6,13 1.8,12.6 4.4,29.4 1.2,8.8 1,8.1 0.9,9.9 0.7,9.8 0.4,9.8 0.1,9.8 -0.1,9.8 -0.4,9.8 -0.7,9.8 -0.9,9.9 -1,8.1 -1.2,8.8 -4.4,29.4 -1.8,12.6 -1.6,13 -1.3,13.7 -1.1,13.6 -0.9,14.2 -0.7,15.8 -0.6,16.9M806.5,39.6l0.5,16.9 0.7,15.3 0.8,14.1 1.1,13.7 1.2,13.1 1.5,13.6 1.6,12.5 4.1,30 1,8.8 0.9,8.1 0.9,9.9 0.6,9.8 0.4,9.8 0.1,9.8 -0.1,9.8 -0.4,9.8 -0.6,9.8 -0.9,9.9 -0.9,8.1 -1,8.8 -4.1,30 -1.6,12.5 -1.5,13.6 -1.2,13.1 -1.1,13.7 -0.8,14.1 -0.7,15.3 -0.5,16.9M810.8,39.6l0.5,16.4 0.6,15.2 0.8,14.2 0.9,13.1 1.1,13.1 1.4,13.6 1.5,13.1 3.8,30.5 1.7,16.9 0.8,9.9 0.6,9.8 0.3,9.8 0.1,9.8 -0.1,9.8 -0.3,9.8 -0.6,9.8 -0.8,9.9 -1.7,16.9 -3.8,30.5 -1.5,13.1 -1.4,13.6 -1.1,13.1 -0.9,13.1 -0.8,14.2 -0.6,15.2 -0.5,16.4M815.1,39.6l0.5,16.4 0.5,14.7 0.7,13.6 0.8,13.1 1.1,13.6 1.2,13.7 1.4,13.1 3.4,30.5 1.6,17.4 0.8,10.4 0.5,9.8 0.3,9.8 0.1,9.3 -0.1,9.3 -0.3,9.8 -0.5,9.8 -0.8,10.4 -1.6,17.4 -3.4,30.5 -1.4,13.1 -1.2,13.7 -1.1,13.6 -0.8,13.1 -0.7,13.6 -0.5,14.7 -0.5,16.4M819.4,39.6l0.4,15.8 0.5,14.7 0.7,13.7 0.7,13.1 1,13.6 1.1,13.6 4.3,44.2 1.5,17.4 0.7,10.4 0.4,9.8 0.3,9.8 0.1,9.3 -0.1,9.3 -0.3,9.8 -0.4,9.8 -0.7,10.4 -1.5,17.4 -4.3,44.2 -1.1,13.6 -1,13.6 -0.7,13.1 -0.7,13.7 -0.5,14.7 -0.4,15.8M823.7,39.6l0.8,30 0.6,13.6 0.7,13.1 0.8,13.6 1.1,13.7 3.8,44.1 1.4,17.5 0.6,10.4 0.4,9.8 0.3,9.8 0,9.8 0,9.8 -0.3,9.8 -0.4,9.8 -0.6,10.4 -1.4,17.5 -3.8,44.1 -1.1,13.7 -0.8,13.6 -0.7,13.1 -0.6,13.6 -0.8,30M828,39.6l0.7,29.4 1.1,26.2 0.8,13.6 0.9,13.7 3.5,45.2 1.2,17.5 0.5,10.4 0.4,9.8 0.2,9.8 0.1,9.8 -0.1,9.8 -0.2,9.8 -0.4,9.8 -0.5,10.4 -1.2,17.5 -3.5,45.2 -0.9,13.7 -0.8,13.6 -1.1,26.2 -0.7,29.4M832.2,39.6l0.7,28.9 1,26.2 1.5,27.2 3.1,45.8 1.1,17.5 0.4,10.4 0.4,9.8 0.2,9.8 0,9.8 0,9.8 -0.2,9.8 -0.4,9.8 -0.4,10.4 -1.1,17.5 -3.1,45.8 -1.5,27.2 -1,26.2 -0.7,28.9M836.5,39.6l0.6,28.9 0.9,25.6 1.3,27.3 2.7,45.8 0.9,18 0.8,20.2 0.2,19.6 -0.2,19.6 -0.8,20.2 -0.9,18 -2.7,45.8 -1.3,27.3 -0.9,25.6 -0.6,28.9M840.8,39.6l0.5,28.4 0.7,25.6 1.1,27.2 2.4,46.4 0.9,18 0.6,20.2 0.2,19.6 -0.2,19.6 -0.6,20.2 -0.9,18 -2.4,46.4 -1.1,27.2 -0.7,25.6 -0.5,28.4M845,39.6l0.5,27.8 0.6,25.6 0.9,27.3 2.1,46.9 0.7,18 0.5,20.2 0.2,19.6 -0.2,19.6 -0.5,20.2 -0.7,18 -2.1,46.9 -0.9,27.3 -0.6,25.6 -0.5,27.8M849.3,39.6l0.4,27.8 0.5,25.1 0.8,27.8 2.2,64.3 0.4,20.8 0.2,19.6 -0.2,19.6 -0.4,20.8 -2.2,64.3 -0.8,27.8 -0.5,25.1 -0.4,27.8M853.6,39.6l0.3,32.2 0.5,28.9 2.4,89.4 0.2,18 0.1,16.9 -0.1,16.9 -0.2,18 -2.4,89.4 -0.5,28.9 -0.3,32.2M857.8,39.6l0.3,32.2 0.4,28.9 1.7,89.4 0.2,18 0.1,16.9 -0.1,16.9 -0.2,18 -1.7,89.4 -0.4,28.9 -0.3,32.2M862.1,39.6l0.4,60.5 1.2,90 0.1,34.9 -0.1,34.9 -1.2,90 -0.4,60.5M866.3,39.6l0.2,60.5 0.6,90 0.1,34.9 -0.1,34.9 -0.6,90 -0.2,60.5" fill="none" stroke="#2e2e2e" stroke-width="1"/>
<path d="M652.3,213.5L870.57,273.63M652.3,212.92L870.57,271.89M652.3,212.65L870.57,269.43M652.3,212.7L870.57,266.36M652.3,213.08L870.57,262.78M652.3,213.78L870.57,258.79M652.3,214.77L870.57,254.46M652.3,216.04L870.57,249.88M652.3,217.54L870.57,245.11M652.3,219.24L870.57,240.2M652.3,221.08L870.57,235.18M652.3,223.01L870.57,230.11M652.3,225L870.57,225M652.3,226.99L870.57,219.89M652.3,228.92L870.57,214.82M652.3,230.76L870.57,209.8M652.3,232.46L870.57,204.89M652.3,233.96L870.57,200.12M652.3,235.23L870.57,195.54M652.3,236.22L870.57,191.21M652.3,236.92L870.57,187.22M652.3,237.3L870.57,183.64M652.3,237.35L870.57,180.57M652.3,237.08L870.57,178.11M652.3,236.5L870.57,176.37" fill="none" stroke="#111" stroke-width="0.7"/>
<path d="M761.4,225l1,3.9 0.9,1.6 0.9,1.2 0.9,1 1.8,1.8 1.9,1.5 1.8,1.3 3.7,2.2 4.6,2.5 6.4,3 7.3,3.2 9.2,3.6 10.1,3.6 10.1,3.5 11,3.6 11.9,3.7 12.8,3.8 12.9,3.6M761.4,225l1,2.9 0.9,1.6 0.9,1.2 1.8,1.9 2.8,2.3 3.6,2.4 3.7,2.1 4.6,2.3 6.4,2.9 7.3,3 8.3,3.2 10.1,3.6 10.1,3.4 11,3.5 11.9,3.6 11.9,3.4 12.9,3.6M761.4,225l1,2.2 0.9,1.4 0.9,1.1 1.8,1.9 2.8,2.1 3.6,2.4 4.6,2.5 5.5,2.6 5.5,2.3 7.4,2.9 8.2,3 10.1,3.5 10.1,3.2 11,3.4 11,3.2 12.8,3.6 12,3.1M761.4,225l1,1.7 0.9,1.2 0.9,1 0.9,0.9 1.8,1.5 2.8,1.9 3.7,2.2 4.5,2.2 5.5,2.5 6.5,2.5 7.3,2.7 9.2,3.1 9.1,2.9 10.1,3 11,3.2 11,3 11,2.9 12,3M761.4,225l1,1.3 0.9,1.1 1.8,1.6 2.8,2 2.7,1.7 3.7,1.8 4.6,2.1 5.5,2.2 6.4,2.3 7.3,2.4 8.3,2.6 9.1,2.7 10.1,2.8 11,2.9 11,2.8 11,2.7 12,2.8M761.4,225l1,1.1 0.9,0.8 1.8,1.5 2.8,1.7 3.6,1.9 3.7,1.6 4.6,1.8 5.5,2 6.4,2 7.3,2.2 8.3,2.3 9.2,2.5 10,2.5 10.1,2.4 11,2.6 11,2.4 12,2.5M761.4,225l1.9,1.5 2.7,1.8 2.8,1.4 3.6,1.6 4.6,1.7 4.6,1.5 5.5,1.6 5.5,1.6 7.4,1.9 8.2,2 9.2,2.1 10.1,2.3 21.1,4.3 22,4.2M761.4,225l1.9,1.2 2.7,1.4 2.8,1.2 3.6,1.3 4.6,1.5 4.6,1.3 5.5,1.4 6.4,1.5 15.6,3.3 18.4,3.5 21.1,3.7 22,3.6M761.4,225l1.9,0.9 2.7,1.2 3.7,1.2 3.7,1 4.5,1.1 4.6,1.1 11.9,2.3 15.6,2.7 18.4,2.8 20.2,2.9 22,2.9M761.4,225l1.9,0.7 2.7,0.8 3.7,0.9 3.7,0.8 9.1,1.6 11.9,1.8 15.6,2 18.4,2.2 20.2,2.2 22,2.2M761.4,225l4.6,1 7.4,1.1 9.1,1.1 11.9,1.2 15.6,1.4 18.4,1.4 20.2,1.5 22,1.5M761.4,225l4.6,0.5 7.4,0.6 10,0.6 12,0.5 33.9,1.5 41.3,1.4M761.4,225l109.2,0M761.4,225l4.6-0.5 7.4-0.6 10-0.6 12-0.5 33.9-1.5 41.3-1.4M761.4,225l4.6-1 7.4-1.1 9.1-1.1 11.9-1.2 15.6-1.4 18.4-1.4 20.2-1.5 22-1.5M761.4,225l1.9-0.7 2.7-0.8 3.7-0.9 3.7-0.8 9.1-1.6 11.9-1.8 15.6-2 18.4-2.2 20.2-2.2 22-2.2M761.4,225l1.9-0.9 2.7-1.2 3.7-1.2 3.7-1 4.5-1.1 4.6-1.1 11.9-2.3 15.6-2.7 18.4-2.8 20.2-2.9 22-2.9M761.4,225l1.9-1.2 2.7-1.4 2.8-1.2 3.6-1.3 4.6-1.5 4.6-1.3 5.5-1.4 6.4-1.5 15.6-3.3 18.4-3.5 21.1-3.7 22-3.6M761.4,225l1.9-1.5 2.7-1.8 2.8-1.4 3.6-1.6 4.6-1.7 4.6-1.5 5.5-1.6 5.5-1.6 7.4-1.9 8.2-2 9.2-2.1 10.1-2.3 21.1-4.3 22-4.2M761.4,225l1-1.1 0.9-0.8 1.8-1.5 2.8-1.7 3.6-1.9 3.7-1.6 4.6-1.8 5.5-2 6.4-2 7.3-2.2 8.3-2.3 9.2-2.5 10-2.5 10.1-2.4 11-2.6 11-2.4 12-2.5M761.4,225l1-1.3 0.9-1.1 1.8-1.6 2.8-2 2.7-1.7 3.7-1.8 4.6-2.1 5.5-2.2 6.4-2.3 7.3-2.4 8.3-2.6 9.1-2.7 10.1-2.8 11-2.9 11-2.8 11-2.7 12-2.8M761.4,225l1-1.7 0.9-1.2 0.9-1 0.9-0.9 1.8-1.5 2.8-1.9 3.7-2.2 4.5-2.2 5.5-2.5 6.5-2.5 7.3-2.7 9.2-3.1 9.1-2.9 10.1-3 11-3.2 11-3 11-2.9 12-3M761.4,225l1-2.2 0.9-1.4 0.9-1.1 1.8-1.9 2.8-2.1 3.6-2.4 4.6-2.5 5.5-2.6 5.5-2.3 7.4-2.9 8.2-3 10.1-3.5 10.1-3.2 11-3.4 11-3.2 12.8-3.6 12-3.1M761.4,225l1-2.9 0.9-1.6 0.9-1.2 1.8-1.9 2.8-2.3 3.6-2.4 3.7-2.1 4.6-2.3 6.4-2.9 7.3-3 8.3-3.2 10.1-3.6 10.1-3.4 11-3.5 11.9-3.6 11.9-3.4 12.9-3.6M761.4,225l1-3.9 0.9-1.6 0.9-1.2 0.9-1 1.8-1.8 1.9-1.5 1.8-1.3 3.7-2.2 4.6-2.5 6.4-3 7.3-3.2 9.2-3.6 10.1-3.6 10.1-3.5 11-3.6 11.9-3.7 12.8-3.8 12.9-3.6" fill="none" stroke="#111" stroke-width="1.05" stroke-linejoin="round"/>
<line x1="713.57" y1="181.38" x2="713.57" y2="268.62" stroke="#222" stroke-width="1.1"/>
<line x1="870.57" y1="51.5" x2="870.57" y2="399.5" stroke="#111" stroke-width="2.7" stroke-dasharray="2.5 3.47"/>
<path d="M695.95,48.5 L695.95,181.38 L761.43,181.38 L761.43,268.62 L695.95,268.62 L695.95,401.5" fill="none" stroke="#111" stroke-width="2.8" stroke-linejoin="miter"/>
</g>
<rect x="652.3" y="50.5" width="327.4" height="349" fill="none" stroke="#333" stroke-width="1.4"/>
<line x1="674.13" y1="399.5" x2="674.13" y2="395.5" stroke="#333" stroke-width="1.4" />
<line x1="674.13" y1="50.5" x2="674.13" y2="54.5" stroke="#333" stroke-width="1.4" />
<line x1="695.95" y1="399.5" x2="695.95" y2="395.5" stroke="#333" stroke-width="1.4" />
<line x1="695.95" y1="50.5" x2="695.95" y2="54.5" stroke="#333" stroke-width="1.4" />
<line x1="717.78" y1="399.5" x2="717.78" y2="395.5" stroke="#333" stroke-width="1.4" />
<line x1="717.78" y1="50.5" x2="717.78" y2="54.5" stroke="#333" stroke-width="1.4" />
<line x1="739.61" y1="399.5" x2="739.61" y2="395.5" stroke="#333" stroke-width="1.4" />
<line x1="739.61" y1="50.5" x2="739.61" y2="54.5" stroke="#333" stroke-width="1.4" />
<line x1="761.43" y1="399.5" x2="761.43" y2="392" stroke="#333" stroke-width="1.4" />
<line x1="761.43" y1="50.5" x2="761.43" y2="58" stroke="#333" stroke-width="1.4" />
<line x1="783.26" y1="399.5" x2="783.26" y2="395.5" stroke="#333" stroke-width="1.4" />
<line x1="783.26" y1="50.5" x2="783.26" y2="54.5" stroke="#333" stroke-width="1.4" />
<line x1="805.09" y1="399.5" x2="805.09" y2="395.5" stroke="#333" stroke-width="1.4" />
<line x1="805.09" y1="50.5" x2="805.09" y2="54.5" stroke="#333" stroke-width="1.4" />
<line x1="826.91" y1="399.5" x2="826.91" y2="395.5" stroke="#333" stroke-width="1.4" />
<line x1="826.91" y1="50.5" x2="826.91" y2="54.5" stroke="#333" stroke-width="1.4" />
<line x1="848.74" y1="399.5" x2="848.74" y2="395.5" stroke="#333" stroke-width="1.4" />
<line x1="848.74" y1="50.5" x2="848.74" y2="54.5" stroke="#333" stroke-width="1.4" />
<line x1="870.57" y1="399.5" x2="870.57" y2="392" stroke="#333" stroke-width="1.4" />
<line x1="870.57" y1="50.5" x2="870.57" y2="58" stroke="#333" stroke-width="1.4" />
<line x1="892.39" y1="399.5" x2="892.39" y2="395.5" stroke="#333" stroke-width="1.4" />
<line x1="892.39" y1="50.5" x2="892.39" y2="54.5" stroke="#333" stroke-width="1.4" />
<line x1="914.22" y1="399.5" x2="914.22" y2="395.5" stroke="#333" stroke-width="1.4" />
<line x1="914.22" y1="50.5" x2="914.22" y2="54.5" stroke="#333" stroke-width="1.4" />
<line x1="936.05" y1="399.5" x2="936.05" y2="395.5" stroke="#333" stroke-width="1.4" />
<line x1="936.05" y1="50.5" x2="936.05" y2="54.5" stroke="#333" stroke-width="1.4" />
<line x1="957.87" y1="399.5" x2="957.87" y2="395.5" stroke="#333" stroke-width="1.4" />
<line x1="957.87" y1="50.5" x2="957.87" y2="54.5" stroke="#333" stroke-width="1.4" />
<line x1="652.3" y1="377.69" x2="656.3" y2="377.69" stroke="#333" stroke-width="1.4" />
<line x1="979.7" y1="377.69" x2="975.7" y2="377.69" stroke="#333" stroke-width="1.4" />
<line x1="652.3" y1="355.88" x2="656.3" y2="355.88" stroke="#333" stroke-width="1.4" />
<line x1="979.7" y1="355.88" x2="975.7" y2="355.88" stroke="#333" stroke-width="1.4" />
<line x1="652.3" y1="334.06" x2="659.8" y2="334.06" stroke="#333" stroke-width="1.4" />
<line x1="979.7" y1="334.06" x2="972.2" y2="334.06" stroke="#333" stroke-width="1.4" />
<line x1="652.3" y1="312.25" x2="656.3" y2="312.25" stroke="#333" stroke-width="1.4" />
<line x1="979.7" y1="312.25" x2="975.7" y2="312.25" stroke="#333" stroke-width="1.4" />
<line x1="652.3" y1="290.44" x2="656.3" y2="290.44" stroke="#333" stroke-width="1.4" />
<line x1="979.7" y1="290.44" x2="975.7" y2="290.44" stroke="#333" stroke-width="1.4" />
<line x1="652.3" y1="268.62" x2="656.3" y2="268.62" stroke="#333" stroke-width="1.4" />
<line x1="979.7" y1="268.62" x2="975.7" y2="268.62" stroke="#333" stroke-width="1.4" />
<line x1="652.3" y1="246.81" x2="656.3" y2="246.81" stroke="#333" stroke-width="1.4" />
<line x1="979.7" y1="246.81" x2="975.7" y2="246.81" stroke="#333" stroke-width="1.4" />
<line x1="652.3" y1="225" x2="659.8" y2="225" stroke="#333" stroke-width="1.4" />
<line x1="979.7" y1="225" x2="972.2" y2="225" stroke="#333" stroke-width="1.4" />
<line x1="652.3" y1="203.19" x2="656.3" y2="203.19" stroke="#333" stroke-width="1.4" />
<line x1="979.7" y1="203.19" x2="975.7" y2="203.19" stroke="#333" stroke-width="1.4" />
<line x1="652.3" y1="181.38" x2="656.3" y2="181.38" stroke="#333" stroke-width="1.4" />
<line x1="979.7" y1="181.38" x2="975.7" y2="181.38" stroke="#333" stroke-width="1.4" />
<line x1="652.3" y1="159.56" x2="656.3" y2="159.56" stroke="#333" stroke-width="1.4" />
<line x1="979.7" y1="159.56" x2="975.7" y2="159.56" stroke="#333" stroke-width="1.4" />
<line x1="652.3" y1="137.75" x2="656.3" y2="137.75" stroke="#333" stroke-width="1.4" />
<line x1="979.7" y1="137.75" x2="975.7" y2="137.75" stroke="#333" stroke-width="1.4" />
<line x1="652.3" y1="115.94" x2="659.8" y2="115.94" stroke="#333" stroke-width="1.4" />
<line x1="979.7" y1="115.94" x2="972.2" y2="115.94" stroke="#333" stroke-width="1.4" />
<line x1="652.3" y1="94.12" x2="656.3" y2="94.12" stroke="#333" stroke-width="1.4" />
<line x1="979.7" y1="94.12" x2="975.7" y2="94.12" stroke="#333" stroke-width="1.4" />
<line x1="652.3" y1="72.31" x2="656.3" y2="72.31" stroke="#333" stroke-width="1.4" />
<line x1="979.7" y1="72.31" x2="975.7" y2="72.31" stroke="#333" stroke-width="1.4" />
<text x="646.3" y="429.5" font-size="26" text-anchor="middle" fill="#222" >-10</text>
<text x="761.73" y="429.5" font-size="26" text-anchor="middle" fill="#222" >0</text>
<text x="869.57" y="429.5" font-size="26" text-anchor="middle" fill="#222" >10</text>
<text x="977.1" y="429.5" font-size="26" text-anchor="middle" fill="#222" >20</text>
<text x="646.5" y="344.56" font-size="26" text-anchor="end" fill="#222" >-10</text>
<text x="644" y="232.1" font-size="26" text-anchor="end" fill="#222" >0</text>
<text x="646.5" y="126.44" font-size="26" text-anchor="end" fill="#222" >10</text>
<text x="648.5" y="32.5" font-size="37.5" text-anchor="start" fill="#222" >p/L= 0.6, r<tspan font-size="25">0</tspan>/L=0.4</text>
<clipPath id="cp3"><rect x="169" y="1411.4" width="329.6" height="351"/></clipPath>
<g clip-path="url(#cp3)">
<path d="M217.6,1400.4l0.2,23.6 0.3,18.1 0.4,14.8 0.5,11.5 0.8,9.9 0.9,7.7 0.5,3.3 0.7,3.3 0.7,2.7 0.7,2.2 1,2.7 1.3,2.6 1.5,2.4 1.4,1.6 1.7,1.7 2.2,1.6 2,1.2 2.7,1.3 2.2,0.8 2.8,0.9 2.9,0.8 3.1,0.6 4.4,0.8 4.9,0.7 18.2,2.4 2.7,0.6 0.6,0.2 0.7,0.7 0.4,1.6 0.3,3.3 0.3,4.4 0.2,6.6 0.3,20.3 0.1,29.6 -0.1,29.6 -0.3,20.3 -0.2,6.6 -0.3,4.4 -0.3,3.3 -0.4,1.6 -0.7,0.7 -0.6,0.2 -2.7,0.6 -18.2,2.4 -4.9,0.7 -4.4,0.8 -3.1,0.6 -2.9,0.8 -2.8,0.9 -2.2,0.8 -2.7,1.3 -2,1.2 -2.2,1.6 -1.7,1.7 -1.4,1.6 -1.5,2.4 -1.3,2.6 -1,2.7 -0.7,2.2 -0.7,2.7 -0.7,3.3 -0.5,3.3 -0.9,7.7 -0.8,9.9 -0.5,11.5 -0.4,14.8 -0.3,18.1 -0.2,23.6M222.3,1400.4l0.3,19.2 0.4,15.4 0.5,12.6 0.7,11 0.8,9.3 1.1,7.7 1.2,6.5 0.8,3.3 0.9,2.8 1.1,3.3 1.3,2.7 1.5,2.8 1.4,2.2 1.8,2.1 2.1,2.2 2,1.7 2.4,1.6 2.2,1.3 2.9,1.5 3.2,1.3 3.2,1.2 6.3,1.9 11.9,2.9 4.4,1.3 1.6,0.7 1.1,0.7 0.6,0.6 0.6,0.9 0.4,1.1 0.3,1.1 0.7,3.8 0.5,5 0.4,6.5 0.3,8.8 0.2,11.5 0.2,28 -0.2,28 -0.2,11.5 -0.3,8.8 -0.4,6.5 -0.5,5 -0.7,3.8 -0.3,1.1 -0.4,1.1 -0.6,0.9 -0.6,0.6 -1.1,0.7 -1.6,0.7 -4.4,1.3 -11.9,2.9 -6.3,1.9 -3.2,1.2 -3.2,1.3 -2.9,1.5 -2.2,1.3 -2.4,1.6 -2,1.7 -2.1,2.2 -1.8,2.1 -1.4,2.2 -1.5,2.8 -1.3,2.7 -1.1,3.3 -0.9,2.8 -0.8,3.3 -1.2,6.5 -1.1,7.7 -0.8,9.3 -0.7,11 -0.5,12.6 -0.4,15.4 -0.3,19.2M226.9,1400.4l0.4,16.5 0.5,13.7 0.6,12.1 0.7,9.8 1,8.8 1.1,7.7 1.3,6.6 1.6,6 1.1,3.3 1.2,2.7 1.3,2.8 1.5,2.7 1.5,2.2 1.9,2.4 1.9,2 2.4,2.2 2.1,1.6 2.4,1.7 2.8,1.6 3.2,1.7 6.3,2.7 10.8,4.2 3.3,1.6 1.6,1 1,0.9 0.9,1.1 0.7,1.1 0.4,1.1 0.6,1.6 0.8,3.9 0.6,5.5 0.5,6.5 0.5,8.8 0.3,11 0.2,13.1 0,14.3 0,14.3 -0.2,13.1 -0.3,11 -0.5,8.8 -0.5,6.5 -0.6,5.5 -0.8,3.9 -0.6,1.6 -0.4,1.1 -0.7,1.1 -0.9,1.1 -1,0.9 -1.6,1 -3.3,1.6 -10.8,4.2 -6.3,2.7 -3.2,1.7 -2.8,1.6 -2.4,1.7 -2.1,1.6 -2.4,2.2 -1.9,2 -1.9,2.4 -1.5,2.2 -1.5,2.7 -1.3,2.8 -1.2,2.7 -1.1,3.3 -1.6,6 -1.3,6.6 -1.1,7.7 -1,8.8 -0.7,9.8 -0.6,12.1 -0.5,13.7 -0.4,16.5M231.6,1400.4l0.4,14.8 0.5,12.7 0.7,10.9 0.8,9.3 0.9,8.3 1.2,7.7 1.3,6.5 1.7,6.1 1.1,3.3 1.3,3.2 1.2,2.8 1.5,2.7 1.7,2.8 1.5,2.2 1.8,2.2 2.1,2.2 2.3,2.1 2.1,1.7 2.2,1.6 2.5,1.7 4.7,2.7 9.9,5.3 2.2,1.3 1.7,1.1 1.6,1.4 1.1,1.1 1,1.3 0.9,1.7 0.7,1.6 0.5,1.7 1,4.4 0.8,5.4 0.6,7.2 0.5,8.8 0.4,10.9 0.2,12.6 0.1,13.2 -0.1,13.2 -0.2,12.6 -0.4,10.9 -0.5,8.8 -0.6,7.2 -0.8,5.4 -1,4.4 -0.5,1.7 -0.7,1.6 -0.9,1.7 -1,1.3 -1.1,1.1 -1.6,1.4 -1.7,1.1 -2.2,1.3 -9.9,5.3 -4.7,2.7 -2.5,1.7 -2.2,1.6 -2.1,1.7 -2.3,2.1 -2.1,2.2 -1.8,2.2 -1.5,2.2 -1.7,2.8 -1.5,2.7 -1.2,2.8 -1.3,3.2 -1.1,3.3 -1.7,6.1 -1.3,6.6 -1.2,7.6 -0.9,8.3 -0.8,9.3 -0.7,10.9 -0.5,12.7 -0.4,14.8M236.2,1400.4l0.6,15.4 0.7,13.2 0.9,11.5 1,9.8 1.3,8.8 1.6,7.7 1.8,6.6 1.1,3.3 1,2.7 2,4.4 2.4,4.4 2.7,3.8 2.7,3.3 2.1,2.2 1.7,1.7 3.9,3.2 4.5,3.3 9,6.2 2.2,1.7 1.7,1.5 1.9,2.1 1.5,2.2 1.3,2.8 0.9,2.7 0.9,3.9 0.8,4.9 0.7,6 0.6,7.2 0.4,8.2 0.3,9.9 0.2,10.4 0.1,11.5 -0.1,11.5 -0.2,10.4 -0.3,9.9 -0.4,8.2 -0.6,7.2 -0.7,6 -0.8,4.9 -0.9,3.9 -0.9,2.7 -1.3,2.8 -1.5,2.2 -1.9,2.1 -1.7,1.5 -2.2,1.7 -9,6.2 -4.5,3.3 -3.9,3.2 -1.7,1.7 -2.1,2.2 -2.7,3.3 -2.7,3.8 -2.4,4.4 -2,4.4 -1,2.7 -1.1,3.3 -1.8,6.6 -1.6,7.7 -1.3,8.8 -1,9.8 -0.9,11.5 -0.7,13.2 -0.6,15.4M240.8,1400.4l0.6,14.3 0.7,12.1 1,10.9 1,9.3 1.3,8.3 1.5,7.7 0.9,3.8 1,3.3 2,6 1.9,4.4 1.9,3.8 2.3,3.9 2.8,3.8 3.2,3.9 3.8,3.8 3.7,3.3 8.5,7.1 2.2,2.1 1.6,1.7 1.8,2.3 1.7,2.7 1.3,2.7 1.2,3.9 1.1,4.4 0.8,4.9 0.8,6 0.6,7.2 0.4,8.2 0.4,9.3 0.2,10.4 0.1,11 -0.1,11 -0.2,10.4 -0.4,9.3 -0.4,8.2 -0.6,7.2 -0.8,6 -0.8,4.9 -1.1,4.4 -1.2,3.9 -1.3,2.7 -1.7,2.7 -1.8,2.3 -1.6,1.7 -2.2,2.1 -8.5,7.1 -3.7,3.3 -3.8,3.8 -3.2,3.9 -2.8,3.8 -2.3,3.9 -1.9,3.8 -1.9,4.4 -2,6 -1,3.3 -0.9,3.8 -1.5,7.7 -1.3,8.3 -1,9.3 -1,10.9 -0.7,12.1 -0.6,14.3M245.4,1400.4l0.7,13.2 0.7,11.5 0.9,10.4 1.1,8.8 1.2,8.2 1.5,7.7 1.7,6.6 2,6 1.9,5 2.1,4.3 2.5,4.4 2.9,4.4 2.6,3.3 3.3,3.9 3.2,3.2 6.3,6.4 2.2,2.3 2.2,2.6 1.6,2.3 1.5,2.3 1.3,2.8 1.3,3.3 1,3.3 1,4.4 0.9,5.4 0.7,6.1 0.7,7.1 0.5,8.2 0.3,8.8 0.2,9.9 0.1,10.4 -0.1,10.4 -0.2,9.9 -0.3,8.8 -0.5,8.2 -0.7,7.1 -0.7,6.1 -0.9,5.4 -1,4.4 -1,3.3 -1.3,3.3 -1.3,2.8 -1.5,2.3 -1.6,2.3 -2.2,2.6 -2.2,2.3 -6.3,6.4 -3.2,3.2 -3.3,3.9 -2.6,3.3 -2.9,4.4 -2.5,4.4 -2.1,4.3 -1.9,5 -2,6 -1.7,6.6 -1.5,7.7 -1.2,8.2 -1.1,8.8 -0.9,10.4 -0.7,11.5 -0.7,13.2M250,1400.4l0.7,12.1 0.7,11 0.9,9.8 1.1,8.8 1.2,8.2 1.4,7.2 1.7,6.6 1.8,6 1.8,4.9 2.2,5 2.3,4.3 2.7,4.4 2.2,3.3 2.9,3.9 10.8,12.9 2.2,3 1.6,2.5 1.6,2.9 1.4,3.3 1.2,3.3 0.9,3.3 1.1,5 1,5.4 0.7,6.1 0.6,7.1 0.6,8.2 0.3,8.8 0.2,9.3 0.1,9.9 -0.1,9.9 -0.2,9.3 -0.3,8.8 -0.6,8.2 -0.6,7.1 -0.7,6.1 -1,5.4 -1.1,5 -0.9,3.3 -1.2,3.3 -1.4,3.3 -1.6,2.9 -1.6,2.5 -2.2,3 -10.8,12.9 -2.9,3.9 -2.2,3.3 -2.7,4.4 -2.3,4.3 -2.2,5 -1.8,4.9 -1.8,6.1 -1.7,6.5 -1.4,7.2 -1.2,8.2 -1.1,8.8 -0.9,9.8 -0.7,11 -0.7,12.1M254.6,1400.4l0.7,11.5 0.7,10.5 0.9,9.3 1.1,8.8 1.2,7.6 1.3,7.2 1.6,6.6 1.8,6 1.7,4.9 2,5 2.1,4.3 2.4,4.4 2.3,3.9 2.6,3.8 7.9,10.8 2.2,3.2 1.9,3 1.6,2.8 1.6,3.2 1.3,3.3 1.1,3.3 1.1,3.9 1.1,4.9 0.9,5.5 0.8,6 0.6,7.2 0.6,7.6 0.3,8.8 0.3,9.3 0.1,9.9 -0.1,9.9 -0.3,9.3 -0.3,8.8 -0.6,7.6 -0.6,7.2 -0.8,6 -0.9,5.5 -1.1,4.9 -1.1,3.9 -1.1,3.3 -1.3,3.3 -1.6,3.2 -1.6,2.8 -1.9,3 -2.2,3.2 -7.9,10.8 -2.6,3.8 -2.3,3.9 -2.4,4.4 -2.1,4.3 -2,5 -1.7,4.9 -1.8,6 -1.6,6.6 -1.3,7.2 -1.2,7.6 -1.1,8.8 -0.9,9.3 -0.7,10.5 -0.7,11.5M259.2,1400.4l0.6,11 0.8,9.9 0.8,8.7 1,8.3 1.2,7.7 1.3,7.1 1.5,6.6 1.7,6 1.6,4.9 1.9,5 2.1,4.9 2.2,4.4 2.1,3.8 2.3,3.9 9.1,14.2 2.1,3.8 1.6,3.2 1.6,3.4 1.4,3.9 1.2,3.8 1,3.9 1.1,5.4 0.9,5.5 0.7,6.1 0.7,7.1 0.5,7.7 0.3,8.2 0.2,8.8 0.1,9.3 -0.1,9.3 -0.2,8.8 -0.3,8.2 -0.5,7.7 -0.7,7.1 -0.7,6.1 -0.9,5.5 -1.1,5.4 -1,3.9 -1.2,3.8 -1.4,3.9 -1.6,3.4 -1.6,3.2 -2.1,3.8 -9.1,14.2 -2.3,3.9 -2.1,3.8 -2.2,4.4 -2.1,4.9 -1.9,5 -1.6,4.9 -1.7,6 -1.5,6.6 -1.3,7.1 -1.2,7.7 -1,8.3 -0.8,8.7 -0.8,9.9 -0.6,11M263.7,1400.4l0.7,10.5 0.7,9.3 0.9,8.8 1,8.2 1,7.1 1.3,7.1 1.5,6.6 1.6,6 1.5,5 1.8,4.9 1.9,5 2,4.3 1.9,3.9 2.1,3.8 8.5,15.1 1.8,3.6 1.8,3.8 1.5,3.8 1.4,3.9 1.1,3.8 1.1,4.4 1,4.9 0.9,6.1 0.8,6 0.6,7.1 0.5,7.7 0.4,8.3 0.2,8.7 0.1,8.8 -0.1,8.8 -0.2,8.7 -0.4,8.3 -0.5,7.7 -0.6,7.1 -0.8,6 -0.9,6.1 -1,4.9 -1.1,4.4 -1.1,3.8 -1.4,3.9 -1.5,3.8 -1.8,3.8 -1.8,3.6 -8.5,15.1 -2.1,3.8 -1.9,3.9 -2,4.3 -1.9,5 -1.8,4.9 -1.5,5 -1.6,6 -1.5,6.6 -1.3,7.1 -1,7.1 -1,8.2 -0.9,8.8 -0.7,9.3 -0.7,10.5M268.3,1400.4l0.6,9.9 0.7,9.3 0.8,8.3 1,7.6 1,7.2 1.3,7.1 1.4,6.6 1.5,6 1.4,4.9 1.6,5 1.9,4.9 1.8,4.4 3.5,7.7 8.3,16.4 1.7,3.9 1.6,3.8 1.5,3.8 1.2,3.9 1.2,4.4 1,4.4 1.1,5.4 0.9,6.1 0.8,6.6 0.6,6.5 0.5,7.7 0.3,7.7 0.2,8.2 0.1,8.8 -0.1,8.8 -0.2,8.2 -0.3,7.7 -0.5,7.7 -0.6,6.5 -0.8,6.6 -0.9,6.1 -1.1,5.4 -1,4.4 -1.2,4.4 -1.2,3.9 -1.5,3.8 -1.6,3.8 -1.7,3.9 -8.3,16.4 -3.5,7.7 -1.8,4.4 -1.9,4.9 -1.6,5 -1.4,4.9 -1.5,6 -1.4,6.6 -1.3,7.1 -1,7.2 -1,7.6 -0.8,8.3 -0.7,9.3 -0.6,9.9M272.8,1400.4l0.6,9.4 0.7,8.7 0.8,8.3 0.9,7.6 1,7.2 1.2,6.5 1.3,6.6 1.4,6.1 1.3,4.9 1.5,4.9 1.7,5 1.7,4.4 3.4,8.2 7.8,17.3 1.7,4.1 1.4,3.8 1.5,4.4 1.2,3.8 1.1,4.4 1,4.4 1,5.5 0.9,6 0.7,6.6 0.6,6.6 0.5,7.7 0.4,7.6 0.2,8.3 0,8.2 0,8.2 -0.2,8.3 -0.4,7.6 -0.5,7.7 -0.6,6.6 -0.7,6.6 -0.9,6 -1,5.5 -1,4.4 -1.1,4.4 -1.2,3.8 -1.5,4.4 -1.4,3.8 -1.7,4.1 -7.8,17.3 -3.4,8.2 -1.7,4.4 -1.7,5 -1.5,4.9 -1.3,4.9 -1.4,6.1 -1.3,6.6 -1.2,6.5 -1,7.2 -0.9,7.6 -0.8,8.3 -0.7,8.7 -0.6,9.4M277.3,1400.4l0.6,9.4 0.6,8.2 0.8,7.7 0.9,7.6 1,7.2 1.1,6.5 1.3,6.6 1.3,6.1 1.3,4.9 1.4,4.9 1.3,4.4 1.7,5 3.2,8.2 7,17.3 3.1,8.5 1.4,4.3 1.2,4.4 1.1,4.4 1,5 1,5.4 0.9,6.1 0.7,6.6 0.6,6.5 0.5,7.2 0.3,7.6 0.2,8.3 0.1,8.2 -0.1,8.2 -0.2,8.3 -0.3,7.6 -0.5,7.2 -0.6,6.5 -0.7,6.6 -0.9,6.1 -1,5.4 -1,5 -1.1,4.4 -1.2,4.4 -1.4,4.3 -3.1,8.5 -7,17.3 -3.2,8.2 -1.7,5 -1.3,4.4 -1.4,4.9 -1.3,4.9 -1.3,6.1 -1.3,6.6 -1.1,6.5 -1,7.2 -0.9,7.6 -0.8,7.7 -0.6,8.2 -0.6,9.4M281.7,1400.4l0.6,8.8 0.7,8.2 0.7,7.7 0.9,7.7 1,7.1 1,6.6 1.2,6 1.2,6.1 2.4,9.3 1.4,4.9 1.6,5 3,8.7 6.5,17.6 3,8.9 1.4,4.8 1.1,4.4 1,4.4 1,4.9 0.9,5.5 0.8,6 0.7,6.6 0.6,6.6 0.5,7.1 0.3,7.7 0.2,7.7 0.1,8.2 -0.1,8.2 -0.2,7.7 -0.3,7.7 -0.5,7.1 -0.6,6.6 -0.7,6.6 -0.8,6 -0.9,5.5 -1,4.9 -1,4.4 -1.1,4.4 -1.4,4.8 -3,8.9 -6.5,17.6 -3,8.7 -1.6,5 -1.4,4.9 -2.4,9.3 -1.2,6.1 -1.2,6 -1,6.6 -1,7.1 -0.9,7.7 -0.7,7.7 -0.7,8.2 -0.6,8.8M286.2,1400.4l1.2,16.5 0.7,7.7 0.8,7.1 0.9,6.6 1,6.6 1.1,6.5 1.2,6.1 2.4,9.8 2.7,9.9 2.8,8.8 6.1,18.1 2.7,8.8 1.3,4.9 1.1,4.4 1,4.9 0.9,5 1,6 0.8,6 0.7,6.6 0.5,6.6 0.4,7.1 0.3,7.1 0.2,7.7 0.1,7.7 -0.1,7.7 -0.2,7.7 -0.3,7.1 -0.4,7.1 -0.5,6.6 -0.7,6.6 -0.8,6 -1,6 -0.9,5 -1,4.9 -1.1,4.4 -1.3,4.9 -2.7,8.8 -6.1,18.1 -2.8,8.8 -2.7,9.9 -2.4,9.8 -1.2,6.1 -1.1,6.5 -1,6.6 -0.9,6.6 -0.8,7.1 -0.7,7.7 -1.2,16.5M290.6,1400.4l1.2,16.5 1.4,14.2 0.9,6.6 0.9,6.6 1,6 1.2,6.1 2.1,9.8 2.6,9.9 2.5,8.8 5.8,18.6 2.6,9.4 2.3,9.8 1.9,9.9 0.9,6 0.7,6.1 0.7,6.6 0.5,6.5 0.4,7.2 0.3,7.1 0.2,14.8 -0.2,14.8 -0.3,7.1 -0.4,7.2 -0.5,6.5 -0.7,6.6 -0.7,6.1 -0.9,6 -1.9,9.9 -2.3,9.8 -2.6,9.4 -5.8,18.6 -2.5,8.8 -2.6,9.9 -2.1,9.8 -1.2,6.1 -1,6 -0.9,6.6 -0.9,6.6 -1.4,14.2 -1.2,16.5M295,1400.4l1.1,15.4 1.4,14.2 1.7,13.2 2,12.1 2,9.8 2.4,9.9 2.3,8.8 5.6,19.9 2.5,9.7 2.1,9.9 1.7,9.9 0.9,6 0.7,6 0.6,6.6 0.5,6.6 0.7,13.7 0.2,14.8 -0.2,14.8 -0.7,13.7 -0.5,6.6 -0.6,6.6 -0.7,6 -0.9,6 -1.7,9.9 -2.1,9.9 -2.5,9.7 -5.6,19.9 -2.3,8.8 -2.4,9.9 -2,9.8 -2,12.1 -1.7,13.2 -1.4,14.2 -1.1,15.4M299.4,1400.4l1.1,15.4 1.3,13.7 1.6,13.2 1.9,12 1.9,9.9 2.1,9.9 2.3,9.3 5.1,19.7 2.3,9.9 2.1,10.4 1.6,9.9 0.8,6 0.7,6.1 0.6,6.5 0.5,6.6 0.6,13.7 0.2,14.3 -0.2,14.3 -0.6,13.7 -0.5,6.6 -0.6,6.5 -0.7,6.1 -0.8,6 -1.6,9.9 -2.1,10.4 -2.3,9.9 -5.1,19.7 -2.3,9.3 -2.1,9.9 -1.9,9.9 -1.9,12 -1.6,13.2 -1.3,13.7 -1.1,15.4M303.8,1400.4l1,14.8 1.2,13.8 1.6,13.1 1.8,12.1 1.7,9.9 2,9.8 2.1,9.3 4.8,20.3 2.1,9.9 2,10.4 1.6,10.4 1.3,12.1 1.1,13.2 0.6,13.7 0.1,13.7 -0.1,13.7 -0.6,13.7 -1.1,13.2 -1.3,12.1 -1.6,10.4 -2,10.4 -2.1,9.9 -4.8,20.3 -2.1,9.3 -2,9.9 -1.7,9.8 -1.8,12.1 -1.6,13.1 -1.2,13.8 -1,14.8M308.1,1400.4l1,14.8 1.1,13.2 1.4,12.6 1.7,12.1 1.6,9.9 2,10.4 6.3,29.6 2.1,10.4 1.8,10.4 1.4,10.4 1.4,12.1 0.9,13.2 0.6,13.7 0.2,13.7 -0.2,13.7 -0.6,13.7 -0.9,13.2 -1.4,12.1 -1.4,10.4 -1.8,10.4 -2.1,10.4 -6.3,29.6 -2,10.4 -1.6,9.9 -1.7,12.1 -1.4,12.6 -1.1,13.2 -1,14.8M312.5,1400.4l0.9,14.3 1.1,13.2 1.3,12.6 1.5,12 1.5,9.9 1.8,10.4 5.9,30.2 2,11 1.7,10.4 1.4,10.4 1.2,12.6 0.9,12.6 0.5,13.2 0.2,13.7 -0.2,13.7 -0.5,13.2 -0.9,12.6 -1.2,12.6 -1.4,10.4 -1.7,10.4 -2,11 -5.9,30.2 -1.8,10.4 -1.5,9.9 -1.5,12 -1.3,12.6 -1.1,13.2 -0.9,14.3M316.8,1400.4l0.8,14.3 1.1,13.2 1.2,12 1.4,12.1 1.4,9.9 1.7,10.4 5.5,30.7 1.8,11 1.6,10.9 1.3,10.4 1.2,12.7 0.8,12.6 0.5,13.1 0.1,13.2 -0.1,13.2 -0.5,13.1 -0.8,12.6 -1.2,12.7 -1.3,10.4 -1.6,10.9 -1.8,11 -5.5,30.7 -1.7,10.4 -1.4,9.9 -1.4,12.1 -1.2,12 -1.1,13.2 -0.8,14.3M321.1,1400.4l0.8,13.7 1,13.2 1.1,12.6 1.4,12.1 1.3,9.9 1.5,10.4 5,30.7 1.7,10.9 1.5,11 1.2,10.4 1.1,12.7 0.8,12.6 0.4,13.1 0.2,13.2 -0.2,13.2 -0.4,13.1 -0.8,12.6 -1.1,12.7 -1.2,10.4 -1.5,11 -1.7,10.9 -5,30.7 -1.5,10.4 -1.3,9.9 -1.4,12.1 -1.1,12.6 -1,13.2 -0.8,13.7M325.4,1400.4l0.7,13.7 1,13.2 1,12.1 1.3,12 1.1,9.9 1.4,10.4 4.7,31.3 1.6,11 1.3,10.9 1.1,10.4 1.1,12.7 0.7,12.6 0.4,13.1 0.2,13.2 -0.2,13.2 -0.4,13.1 -0.7,12.6 -1.1,12.7 -1.1,10.4 -1.3,10.9 -1.6,11 -4.7,31.3 -1.4,10.4 -1.1,9.9 -1.3,12 -1,12.1 -1,13.2 -0.7,13.7M329.7,1400.4l0.7,13.7 0.8,12.7 1,12 1.1,12.1 1.1,9.9 1.3,10.4 5.7,42.8 1.3,11.5 1,10.4 1,12.6 0.7,12.6 0.3,12.6 0.2,13.2 -0.2,13.2 -0.3,12.6 -0.7,12.6 -1,12.6 -1,10.4 -1.3,11.5 -5.7,42.8 -1.3,10.4 -1.1,9.9 -1.1,12.1 -1,12 -0.8,12.7 -0.7,13.7M333.9,1400.4l0.7,13.2 0.7,12.6 0.9,12.1 1.1,12 2.2,20.9 5.2,42.8 1.2,11.3 0.9,10.6 0.9,12.6 0.6,12.6 0.4,12.6 0.1,13.2 -0.1,13.2 -0.4,12.6 -0.6,12.6 -0.9,12.6 -0.9,10.6 -1.2,11.3 -5.2,42.8 -2.2,20.9 -1.1,12 -0.9,12.1 -0.7,12.6 -0.7,13.2M338.2,1400.4l0.6,13.2 0.7,12.6 0.8,12.1 1,12 1.9,20.3 4.8,43.4 1.1,11.5 0.9,10.9 0.8,12.1 0.5,12.6 0.4,12.6 0.1,13.2 -0.1,13.2 -0.4,12.6 -0.5,12.6 -0.8,12.1 -0.9,10.9 -1.1,11.5 -4.8,43.4 -1.9,20.3 -1,12 -0.8,12.1 -0.7,12.6 -0.6,13.2M342.4,1400.4l0.6,13.2 0.6,12.1 0.7,12 0.9,12.1 1.8,20.8 4.3,43.4 1,11.5 0.8,10.9 0.8,12.7 0.5,12.6 0.3,12.6 0.1,12.6 -0.1,12.6 -0.3,12.6 -0.5,12.6 -0.8,12.7 -0.8,10.9 -1,11.5 -4.3,43.4 -1.8,20.8 -0.9,12.1 -0.7,12 -0.6,12.1 -0.6,13.2M346.7,1400.4l1,25.3 1.5,24.1 1.6,20.8 3.9,43.4 0.9,11.5 0.7,10.9 0.6,12.7 0.5,12.6 0.3,12.6 0.1,12.6 -0.1,12.6 -0.3,12.6 -0.5,12.6 -0.6,12.7 -0.7,10.9 -0.9,11.5 -3.9,43.4 -1.6,20.8 -1.5,24.1 -1,25.3M350.9,1400.4l1,25.3 1.2,23.5 1.5,20.9 3.4,43.9 1.5,22.4 0.6,12.7 0.4,12.6 0.2,12.6 0.1,12.6 -0.1,12.6 -0.2,12.6 -0.4,12.6 -0.6,12.7 -1.5,22.4 -3.4,43.9 -1.5,20.9 -1.2,23.5 -1,25.3M355.1,1400.4l0.9,25.3 1.1,23.5 1.3,20.9 3,43.9 1.3,22.4 0.5,12.7 0.4,12.6 0.2,12.6 0.1,12.6 -0.1,12.6 -0.2,12.6 -0.4,12.6 -0.5,12.7 -1.3,22.4 -3,43.9 -1.3,20.9 -1.1,23.5 -0.9,25.3M359.3,1400.4l0.8,24.7 1,24.1 1.1,20.9 2.6,43.9 1.1,22.4 0.5,12.7 0.3,12.6 0.2,12.6 0,12.6 0,12.6 -0.2,12.6 -0.3,12.6 -0.5,12.7 -1.1,22.4 -2.6,43.9 -1.1,20.9 -1,24.1 -0.8,24.7M363.5,1400.4l0.7,24.7 0.8,23.6 1,20.8 2.2,45 1,22.5 0.6,25.2 0.2,24.7 -0.2,24.7 -0.6,25.2 -1,22.5 -2.2,45 -1,20.8 -0.8,23.6 -0.7,24.7M367.7,1400.4l0.6,24.7 0.7,23.6 0.8,20.8 1.8,45 0.8,22.5 0.5,25.2 0.2,24.7 -0.2,24.7 -0.5,25.2 -0.8,22.5 -1.8,45 -0.8,20.8 -0.7,23.6 -0.6,24.7M371.9,1400.4l0.5,24.7 0.5,23.6 2.1,65.8 0.7,22.5 0.4,25.2 0.1,24.7 -0.1,24.7 -0.4,25.2 -0.7,22.5 -2.1,65.8 -0.5,23.6 -0.5,24.7M376.1,1400.4l0.8,48.3 1.5,65.3 0.5,23 0.3,25.2 0.1,24.7 -0.1,24.7 -0.3,25.2 -0.5,23 -1.5,65.3 -0.8,48.3M380.3,1400.4l0.5,48.3 1.4,88.3 0.2,25.2 0.1,24.7 -0.1,24.7 -0.2,25.2 -1.4,88.3 -0.5,48.3M384.5,1400.4l0.3,47.7 0.7,88.9 0.1,49.9 -0.1,49.9 -0.7,88.9 -0.3,47.7" fill="none" stroke="#2e2e2e" stroke-width="1"/>
<line x1="388.73" y1="1411.4" x2="388.73" y2="1762.4" stroke="#1a1a1a" stroke-width="0.9"/>
<path d="M169,1579.59L388.73,1635.77M169,1578.71L388.73,1634M169,1578.1L388.73,1631.52M169,1577.78L388.73,1628.44M169,1577.78L388.73,1624.84M169,1578.1L388.73,1620.83M169,1578.73L388.73,1616.49M169,1579.63L388.73,1611.9M169,1580.77L388.73,1607.11M169,1582.12L388.73,1602.17M169,1583.63L388.73,1597.13M169,1585.24L388.73,1592.03M169,1586.9L388.73,1586.9M169,1588.56L388.73,1581.77M169,1590.17L388.73,1576.67M169,1591.68L388.73,1571.63M169,1593.03L388.73,1566.69M169,1594.17L388.73,1561.9M169,1595.07L388.73,1557.31M169,1595.7L388.73,1552.97M169,1596.02L388.73,1548.96M169,1596.02L388.73,1545.36M169,1595.7L388.73,1542.28M169,1595.09L388.73,1539.8M169,1594.21L388.73,1538.03" fill="none" stroke="#111" stroke-width="0.7"/>
<path d="M278.9,1586.9l0.9,4.2 0.9,1.7 0.9,1.3 1,1.1 0.9,1 1.8,1.7 1.9,1.5 1.8,1.3 1.9,1.2 2.7,1.7 5.6,2.9 5.5,2.6 7.4,3.1 8.3,3.1 9.2,3.3 10.2,3.3 11.1,3.4 12,3.5 12.9,3.6 12.9,3.4M278.9,1586.9l0.9,3.1 0.9,1.6 0.9,1.3 1.9,2.1 2.8,2.4 1.8,1.4 1.8,1.3 4.7,2.7 5.5,2.8 5.5,2.5 7.4,3 8.3,3.1 9.3,3.2 10.1,3.2 11.1,3.4 12,3.4 12,3.3 12.9,3.3M278.9,1586.9l0.9,2.3 0.9,1.5 0.9,1.2 1,1 1.8,1.8 2.8,2.1 3.7,2.5 4.6,2.5 5.5,2.7 6.5,2.7 7.4,2.9 8.3,2.9 9.2,3 9.2,2.9 11.1,3.2 11.1,3.1 12,3.1 12.9,3.2M278.9,1586.9l0.9,1.8 0.9,1.3 1.9,2 2.7,2.3 2.8,1.9 3.7,2.2 4.6,2.3 5.5,2.5 6.5,2.6 7.4,2.6 8.3,2.8 9.2,2.8 9.3,2.7 11,3 11.1,2.9 12,3 12,2.8M278.9,1586.9l0.9,1.4 0.9,1.1 1.9,1.7 2.7,2.1 3.7,2.3 4.6,2.3 4.7,2.1 5.5,2.2 5.5,2 7.4,2.4 8.3,2.6 9.3,2.6 9.2,2.5 10.1,2.6 11.1,2.6 12,2.8 12,2.6M278.9,1586.9l0.9,1.1 0.9,0.9 0.9,0.8 1.9,1.3 2.8,1.7 3.6,2 4.7,2 4.6,1.8 5.5,2 5.6,1.8 7.3,2.2 8.4,2.3 9.2,2.3 9.2,2.3 10.2,2.3 11.1,2.4 11,2.3 12,2.4M278.9,1586.9l1.8,1.6 2.8,1.8 2.8,1.5 3.6,1.6 4.7,1.8 4.6,1.6 5.5,1.7 6.5,1.9 7.4,1.9 7.4,1.8 9.2,2.1 9.2,1.9 10.2,2.1 11.1,2.1 23,4.2M278.9,1586.9l1.8,1.2 2.8,1.5 3.7,1.6 3.7,1.4 4.6,1.4 4.6,1.4 5.5,1.4 6.5,1.5 7.4,1.7 7.4,1.5 18.4,3.4 21.3,3.6 22.1,3.4M278.9,1586.9l1.8,1 2.8,1.1 3.7,1.3 3.7,1.1 4.6,1.2 5.5,1.2 12,2.4 14.8,2.6 18.5,2.8 20.3,2.7 22.1,2.8M278.9,1586.9l2.7,1 2.8,0.8 3.7,0.9 3.7,0.8 9.2,1.7 12,1.8 15.7,2 17.6,2 20.3,2.2 22.1,2.1M278.9,1586.9l2.7,0.7 2.8,0.5 7.4,1.1 10.1,1.2 12.1,1.2 15.6,1.4 17.6,1.4 20.3,1.4 21.2,1.3M278.9,1586.9l5.5,0.6 7.4,0.6 10.1,0.6 12.1,0.6 33.2,1.3 41.5,1.4M278.9,1586.9l109.8,0M278.9,1586.9l5.5-0.6 7.4-0.6 10.1-0.6 12.1-0.6 33.2-1.3 41.5-1.4M278.9,1586.9l2.7-0.7 2.8-0.5 7.4-1.1 10.1-1.2 12.1-1.2 15.6-1.4 17.6-1.4 20.3-1.4 21.2-1.3M278.9,1586.9l2.7-1 2.8-0.8 3.7-0.9 3.7-0.8 9.2-1.7 12-1.8 15.7-2 17.6-2 20.3-2.2 22.1-2.1M278.9,1586.9l1.8-1 2.8-1.1 3.7-1.3 3.7-1.1 4.6-1.2 5.5-1.2 12-2.4 14.8-2.6 18.5-2.8 20.3-2.7 22.1-2.8M278.9,1586.9l1.8-1.2 2.8-1.5 3.7-1.6 3.7-1.4 4.6-1.4 4.6-1.4 5.5-1.4 6.5-1.5 7.4-1.7 7.4-1.5 18.4-3.4 21.3-3.6 22.1-3.4M278.9,1586.9l1.8-1.6 2.8-1.8 2.8-1.5 3.6-1.6 4.7-1.8 4.6-1.6 5.5-1.7 6.5-1.9 7.4-1.9 7.4-1.8 9.2-2.1 9.2-1.9 10.2-2.1 11.1-2.1 23-4.2M278.9,1586.9l0.9-1.1 0.9-0.9 0.9-0.8 1.9-1.3 2.8-1.7 3.6-2 4.7-2 4.6-1.8 5.5-2 5.6-1.8 7.3-2.2 8.4-2.3 9.2-2.3 9.2-2.3 10.2-2.3 11.1-2.4 11-2.3 12-2.4M278.9,1586.9l0.9-1.4 0.9-1.1 1.9-1.7 2.7-2.1 3.7-2.3 4.6-2.3 4.7-2.1 5.5-2.2 5.5-2 7.4-2.4 8.3-2.6 9.3-2.6 9.2-2.5 10.1-2.6 11.1-2.6 12-2.8 12-2.6M278.9,1586.9l0.9-1.8 0.9-1.3 1.9-2 2.7-2.3 2.8-1.9 3.7-2.2 4.6-2.3 5.5-2.5 6.5-2.6 7.4-2.6 8.3-2.8 9.2-2.8 9.3-2.7 11-3 11.1-2.9 12-3 12-2.8M278.9,1586.9l0.9-2.3 0.9-1.5 0.9-1.2 1-1 1.8-1.8 2.8-2.1 3.7-2.5 4.6-2.5 5.5-2.7 6.5-2.7 7.4-2.9 8.3-2.9 9.2-3 9.2-2.9 11.1-3.2 11.1-3.1 12-3.1 12.9-3.2M278.9,1586.9l0.9-3.1 0.9-1.6 0.9-1.3 1.9-2.1 2.8-2.4 1.8-1.4 1.8-1.3 4.7-2.7 5.5-2.8 5.5-2.5 7.4-3 8.3-3.1 9.3-3.2 10.1-3.2 11.1-3.4 12-3.4 12-3.3 12.9-3.3M278.9,1586.9l0.9-4.2 0.9-1.7 0.9-1.3 1-1.1 0.9-1 1.8-1.7 1.9-1.5 1.8-1.3 1.9-1.2 2.7-1.7 5.6-2.9 5.5-2.6 7.4-3.1 8.3-3.1 9.2-3.3 10.2-3.3 11.1-3.4 12-3.5 12.9-3.6 12.9-3.4" fill="none" stroke="#111" stroke-width="0.9" stroke-linejoin="round"/>
<line x1="222.95" y1="1543.03" x2="222.95" y2="1630.78" stroke="#222" stroke-width="1.1"/>
<path d="M212.95,1409.4 L212.95,1521.09 L278.87,1521.09 L278.87,1652.71 L212.95,1652.71 L212.95,1764.4" fill="none" stroke="#111" stroke-width="2.8" stroke-linejoin="miter"/>
</g>
<rect x="169" y="1411.4" width="329.6" height="351" fill="none" stroke="#333" stroke-width="1.4"/>
<line x1="190.97" y1="1762.4" x2="190.97" y2="1758.4" stroke="#333" stroke-width="1.4" />
<line x1="190.97" y1="1411.4" x2="190.97" y2="1415.4" stroke="#333" stroke-width="1.4" />
<line x1="212.95" y1="1762.4" x2="212.95" y2="1758.4" stroke="#333" stroke-width="1.4" />
<line x1="212.95" y1="1411.4" x2="212.95" y2="1415.4" stroke="#333" stroke-width="1.4" />
<line x1="234.92" y1="1762.4" x2="234.92" y2="1758.4" stroke="#333" stroke-width="1.4" />
<line x1="234.92" y1="1411.4" x2="234.92" y2="1415.4" stroke="#333" stroke-width="1.4" />
<line x1="256.89" y1="1762.4" x2="256.89" y2="1758.4" stroke="#333" stroke-width="1.4" />
<line x1="256.89" y1="1411.4" x2="256.89" y2="1415.4" stroke="#333" stroke-width="1.4" />
<line x1="278.87" y1="1762.4" x2="278.87" y2="1754.9" stroke="#333" stroke-width="1.4" />
<line x1="278.87" y1="1411.4" x2="278.87" y2="1418.9" stroke="#333" stroke-width="1.4" />
<line x1="300.84" y1="1762.4" x2="300.84" y2="1758.4" stroke="#333" stroke-width="1.4" />
<line x1="300.84" y1="1411.4" x2="300.84" y2="1415.4" stroke="#333" stroke-width="1.4" />
<line x1="322.81" y1="1762.4" x2="322.81" y2="1758.4" stroke="#333" stroke-width="1.4" />
<line x1="322.81" y1="1411.4" x2="322.81" y2="1415.4" stroke="#333" stroke-width="1.4" />
<line x1="344.79" y1="1762.4" x2="344.79" y2="1758.4" stroke="#333" stroke-width="1.4" />
<line x1="344.79" y1="1411.4" x2="344.79" y2="1415.4" stroke="#333" stroke-width="1.4" />
<line x1="366.76" y1="1762.4" x2="366.76" y2="1758.4" stroke="#333" stroke-width="1.4" />
<line x1="366.76" y1="1411.4" x2="366.76" y2="1415.4" stroke="#333" stroke-width="1.4" />
<line x1="388.73" y1="1762.4" x2="388.73" y2="1754.9" stroke="#333" stroke-width="1.4" />
<line x1="388.73" y1="1411.4" x2="388.73" y2="1418.9" stroke="#333" stroke-width="1.4" />
<line x1="410.71" y1="1762.4" x2="410.71" y2="1758.4" stroke="#333" stroke-width="1.4" />
<line x1="410.71" y1="1411.4" x2="410.71" y2="1415.4" stroke="#333" stroke-width="1.4" />
<line x1="432.68" y1="1762.4" x2="432.68" y2="1758.4" stroke="#333" stroke-width="1.4" />
<line x1="432.68" y1="1411.4" x2="432.68" y2="1415.4" stroke="#333" stroke-width="1.4" />
<line x1="454.65" y1="1762.4" x2="454.65" y2="1758.4" stroke="#333" stroke-width="1.4" />
<line x1="454.65" y1="1411.4" x2="454.65" y2="1415.4" stroke="#333" stroke-width="1.4" />
<line x1="476.63" y1="1762.4" x2="476.63" y2="1758.4" stroke="#333" stroke-width="1.4" />
<line x1="476.63" y1="1411.4" x2="476.63" y2="1415.4" stroke="#333" stroke-width="1.4" />
<line x1="169" y1="1740.46" x2="173" y2="1740.46" stroke="#333" stroke-width="1.4" />
<line x1="498.6" y1="1740.46" x2="494.6" y2="1740.46" stroke="#333" stroke-width="1.4" />
<line x1="169" y1="1718.53" x2="173" y2="1718.53" stroke="#333" stroke-width="1.4" />
<line x1="498.6" y1="1718.53" x2="494.6" y2="1718.53" stroke="#333" stroke-width="1.4" />
<line x1="169" y1="1696.59" x2="176.5" y2="1696.59" stroke="#333" stroke-width="1.4" />
<line x1="498.6" y1="1696.59" x2="491.1" y2="1696.59" stroke="#333" stroke-width="1.4" />
<line x1="169" y1="1674.65" x2="173" y2="1674.65" stroke="#333" stroke-width="1.4" />
<line x1="498.6" y1="1674.65" x2="494.6" y2="1674.65" stroke="#333" stroke-width="1.4" />
<line x1="169" y1="1652.71" x2="173" y2="1652.71" stroke="#333" stroke-width="1.4" />
<line x1="498.6" y1="1652.71" x2="494.6" y2="1652.71" stroke="#333" stroke-width="1.4" />
<line x1="169" y1="1630.78" x2="173" y2="1630.78" stroke="#333" stroke-width="1.4" />
<line x1="498.6" y1="1630.78" x2="494.6" y2="1630.78" stroke="#333" stroke-width="1.4" />
<line x1="169" y1="1608.84" x2="173" y2="1608.84" stroke="#333" stroke-width="1.4" />
<line x1="498.6" y1="1608.84" x2="494.6" y2="1608.84" stroke="#333" stroke-width="1.4" />
<line x1="169" y1="1586.9" x2="176.5" y2="1586.9" stroke="#333" stroke-width="1.4" />
<line x1="498.6" y1="1586.9" x2="491.1" y2="1586.9" stroke="#333" stroke-width="1.4" />
<line x1="169" y1="1564.96" x2="173" y2="1564.96" stroke="#333" stroke-width="1.4" />
<line x1="498.6" y1="1564.96" x2="494.6" y2="1564.96" stroke="#333" stroke-width="1.4" />
<line x1="169" y1="1543.03" x2="173" y2="1543.03" stroke="#333" stroke-width="1.4" />
<line x1="498.6" y1="1543.03" x2="494.6" y2="1543.03" stroke="#333" stroke-width="1.4" />
<line x1="169" y1="1521.09" x2="173" y2="1521.09" stroke="#333" stroke-width="1.4" />
<line x1="498.6" y1="1521.09" x2="494.6" y2="1521.09" stroke="#333" stroke-width="1.4" />
<line x1="169" y1="1499.15" x2="173" y2="1499.15" stroke="#333" stroke-width="1.4" />
<line x1="498.6" y1="1499.15" x2="494.6" y2="1499.15" stroke="#333" stroke-width="1.4" />
<line x1="169" y1="1477.21" x2="176.5" y2="1477.21" stroke="#333" stroke-width="1.4" />
<line x1="498.6" y1="1477.21" x2="491.1" y2="1477.21" stroke="#333" stroke-width="1.4" />
<line x1="169" y1="1455.28" x2="173" y2="1455.28" stroke="#333" stroke-width="1.4" />
<line x1="498.6" y1="1455.28" x2="494.6" y2="1455.28" stroke="#333" stroke-width="1.4" />
<line x1="169" y1="1433.34" x2="173" y2="1433.34" stroke="#333" stroke-width="1.4" />
<line x1="498.6" y1="1433.34" x2="494.6" y2="1433.34" stroke="#333" stroke-width="1.4" />
<text x="163" y="1792.4" font-size="26" text-anchor="middle" fill="#222" >-10</text>
<text x="279.17" y="1792.4" font-size="26" text-anchor="middle" fill="#222" >0</text>
<text x="387.73" y="1792.4" font-size="26" text-anchor="middle" fill="#222" >10</text>
<text x="496" y="1792.4" font-size="26" text-anchor="middle" fill="#222" >20</text>
<text x="165.3" y="1707.79" font-size="26" text-anchor="end" fill="#222" >-10</text>
<text x="154.6" y="1595.7" font-size="26" text-anchor="end" fill="#222" >0</text>
<text x="165.3" y="1488.41" font-size="26" text-anchor="end" fill="#222" >10</text>
<text x="168.4" y="1394.2" font-size="37.5" text-anchor="start" fill="#222" >p/L=0.6, r<tspan font-size="25">0</tspan>/L= 0.6</text>
<clipPath id="cp4"><rect x="648.6" y="1412" width="328.7" height="350"/></clipPath>
<g clip-path="url(#cp4)">
<path d="M696.8,1401.1l0.2,81.4 0.3,23.6 0.3,16.9 0.6,13.7 0.8,9.8 0.4,3.9 0.7,3.8 0.6,2.7 0.8,2.8 0.9,2.1 1.1,2.2 1.2,1.7 1.4,1.4 1.7,1.3 1.9,1.1 1.9,0.8 2.5,0.8 2.1,0.6 3.1,0.6 3.3,0.5 4.3,0.5 8.8,0.8 18.6,1.1 2.2,0.2 1.7,0.3 0.4,0.4 0.3,2.1 0.2,3.9 0.1,4.9 -0.1,4.9 -0.2,3.9 -0.3,2.1 -0.4,0.4 -1.7,0.3 -2.2,0.2 -18.6,1.1 -8.8,0.8 -4.3,0.5 -3.3,0.5 -3.1,0.6 -2.1,0.6 -2.5,0.8 -1.9,0.8 -1.9,1.1 -1.7,1.3 -1.4,1.4 -1.2,1.7 -1.1,2.2 -0.9,2.1 -0.8,2.8 -0.6,2.7 -0.7,3.8 -0.4,3.9 -0.8,9.8 -0.6,13.7 -0.3,16.9 -0.3,23.6 -0.2,81.4M701.3,1401.1l0.1,42.6 0.2,30.1 0.3,21.9 0.4,16.9 0.7,13.7 0.4,5.5 0.5,4.9 0.6,4.4 0.7,4.3 0.8,3.3 0.9,3.3 0.9,2.7 1.1,2.3 1.1,2.1 1.6,2.2 1.5,1.6 1.9,1.7 2.4,1.6 2.4,1.3 2.3,0.9 3.2,1.1 2.7,0.7 3.3,0.7 8,1.3 14.5,1.9 2.7,0.5 1.7,0.5 0.5,0.5 0.4,0.5 0.3,1.1 0.3,1 0.3,3.9 0.2,4.9 -0.2,4.9 -0.3,3.9 -0.3,1 -0.3,1.1 -0.4,0.5 -0.5,0.5 -1.7,0.5 -2.7,0.5 -14.5,1.9 -8,1.3 -3.3,0.7 -2.7,0.7 -3.2,1.1 -2.3,0.9 -2.4,1.3 -2.4,1.6 -1.9,1.7 -1.5,1.6 -1.6,2.2 -1.1,2.1 -1.1,2.3 -0.9,2.7 -0.9,3.3 -0.8,3.3 -0.7,4.3 -0.6,4.4 -0.5,4.9 -0.4,5.5 -0.7,13.7 -0.4,16.9 -0.3,21.9 -0.2,30.1 -0.1,42.6M705.7,1401.1l0.1,38.8 0.2,27.9 0.4,21.3 0.5,17 0.8,13.6 0.5,6.1 0.6,4.9 0.6,4.3 0.7,4.4 0.8,3.8 0.9,3.3 1.2,3.3 1.1,2.7 1.5,2.8 1.5,2.2 1.6,2 1.9,1.8 2,1.6 2.1,1.4 2.2,1.2 2.2,1 2.2,0.9 3,1 6,1.6 14,3.1 2.8,0.8 1.1,0.5 0.5,0.4 0.7,0.7 0.3,0.6 0.5,1.1 0.4,1.6 0.5,3.8 0.1,4.4 -0.1,4.4 -0.5,3.8 -0.4,1.6 -0.5,1.1 -0.3,0.6 -0.7,0.7 -0.5,0.4 -1.1,0.5 -2.8,0.8 -14,3.1 -6,1.6 -3,1 -2.2,0.9 -2.2,1 -2.2,1.2 -2.1,1.4 -2,1.6 -1.9,1.8 -1.6,2 -1.5,2.2 -1.5,2.8 -1.1,2.7 -1.2,3.3 -0.9,3.3 -0.8,3.8 -0.7,4.4 -0.6,4.3 -0.6,4.9 -0.5,6.1 -0.8,13.6 -0.5,17 -0.4,21.3 -0.2,27.9 -0.1,38.8M710.1,1401.1l0.2,35.5 0.2,26.8 0.4,20.8 0.6,16.4 0.8,13.7 0.5,6 0.5,4.9 0.6,4.4 0.8,4.4 0.8,3.8 0.9,3.8 1.1,3.3 1,2.7 1.2,2.8 1.6,2.7 1.5,2.2 1.8,2.2 2.2,2.2 2,1.6 2,1.4 2.3,1.3 2.1,1.1 2.4,1.1 2.8,1.1 3.1,1.1 11.4,3.6 2.7,1.2 1.1,0.6 0.7,0.6 0.5,0.6 0.7,1.1 0.4,1.1 0.5,1.6 0.3,1.6 0.3,2.2 0.2,4.4 -0.2,4.4 -0.3,2.2 -0.3,1.6 -0.5,1.6 -0.4,1.1 -0.7,1.1 -0.5,0.6 -0.7,0.6 -1.1,0.6 -2.7,1.2 -11.4,3.6 -3.1,1.1 -2.8,1.1 -2.4,1.1 -2.1,1.1 -2.3,1.3 -2,1.4 -2,1.6 -2.2,2.2 -1.8,2.2 -1.5,2.2 -1.6,2.7 -1.2,2.8 -1,2.7 -1.1,3.3 -0.9,3.8 -0.8,3.8 -0.8,4.4 -0.6,4.4 -0.5,4.9 -0.5,6 -0.8,13.7 -0.6,16.4 -0.4,20.8 -0.2,26.8 -0.2,35.5M714.5,1401.1l0.2,33.3 0.3,25.2 0.4,20.2 0.6,15.9 0.8,13.6 1,11 0.7,4.9 0.7,4.4 0.7,3.8 0.9,3.8 1,3.3 1.1,3.3 1.2,2.7 1.3,2.8 1.6,2.7 1.6,2.2 1.8,2.2 1.7,1.6 1.8,1.7 1.4,1.1 2,1.3 2.3,1.4 2.7,1.4 2.6,1.3 8.3,3.6 3.3,1.5 2.2,1.4 1.1,0.9 0.6,0.6 0.9,1.3 0.5,1.1 0.4,1.1 0.4,1.6 0.3,1.7 0.3,2.2 0.2,3.8 -0.2,3.8 -0.3,2.2 -0.3,1.7 -0.4,1.6 -0.4,1.1 -0.5,1.1 -0.9,1.3 -0.6,0.6 -1.1,0.9 -2.2,1.4 -3.3,1.5 -8.3,3.6 -2.6,1.3 -2.7,1.4 -2.3,1.4 -2,1.3 -1.4,1.1 -1.8,1.7 -1.7,1.6 -1.8,2.2 -1.6,2.2 -1.6,2.7 -1.3,2.8 -1.2,2.7 -1.1,3.3 -1,3.3 -0.9,3.8 -0.7,3.8 -0.7,4.4 -0.7,4.9 -1,11 -0.8,13.6 -0.6,15.9 -0.4,20.2 -0.3,25.2 -0.2,33.3M718.9,1401.1l0.2,31.7 0.3,24 0.4,19.2 0.6,15.8 0.8,13.2 1,10.9 0.6,4.9 0.7,4.4 0.8,4.4 0.9,3.8 0.8,3.3 1.1,3.3 1.2,3.2 1.2,2.8 1.5,2.7 1.3,2.2 1.6,2.2 1.8,2.2 1.5,1.6 1.8,1.7 3.4,2.7 4.2,2.7 8.3,4.7 2.7,1.7 2.2,1.7 1.6,1.8 0.7,1.1 0.6,1.1 0.6,1.6 0.4,1.6 0.4,1.7 0.2,2.2 0.2,3.8 -0.2,3.8 -0.2,2.2 -0.4,1.7 -0.4,1.6 -0.6,1.6 -0.6,1.1 -0.7,1.1 -1.6,1.8 -2.2,1.7 -2.7,1.7 -8.3,4.7 -4.2,2.7 -3.4,2.7 -1.8,1.7 -1.5,1.6 -1.8,2.2 -1.6,2.2 -1.3,2.2 -1.5,2.7 -1.2,2.8 -1.2,3.2 -1.1,3.3 -0.8,3.3 -0.9,3.8 -0.8,4.4 -0.7,4.4 -0.6,4.9 -1,10.9 -0.8,13.2 -0.6,15.8 -0.4,19.2 -0.3,24 -0.2,31.7M723.3,1401.1l0.2,29.5 0.3,23.5 0.5,19.1 0.6,15.4 0.8,13.1 1,10.9 1.2,9.3 0.8,4.4 0.8,3.8 0.8,3.3 0.9,3.3 1.2,3.3 1,2.7 1.3,2.7 1.5,2.8 1.3,2.2 1.6,2.1 2.7,3.3 3.4,3.3 4,3.3 7.3,5.2 2.2,1.7 2.2,2.1 1.6,2.1 0.9,1.5 0.5,1.1 0.6,1.6 0.4,1.6 0.7,3.9 0.2,3.8 -0.2,3.8 -0.7,3.9 -0.4,1.6 -0.6,1.6 -0.5,1.1 -0.9,1.5 -1.6,2.1 -2.2,2.1 -2.2,1.7 -7.3,5.2 -4,3.3 -3.4,3.3 -2.7,3.3 -1.6,2.1 -1.3,2.2 -1.5,2.8 -1.3,2.7 -1,2.7 -1.2,3.3 -0.9,3.3 -0.8,3.3 -0.8,3.8 -0.8,4.4 -1.2,9.3 -1,10.9 -0.8,13.1 -0.6,15.4 -0.5,19.1 -0.3,23.5 -0.2,29.5M727.7,1401.1l0.2,27.9 0.4,22.4 0.4,18 0.6,15.3 0.7,13.2 1,10.9 1.2,9.8 0.7,4.4 0.8,3.8 0.9,3.9 0.8,3.3 1.1,3.2 0.9,2.8 1.2,2.7 1.3,2.7 1.4,2.8 1.4,2.2 2.3,3.2 2.8,3.3 3.3,3.3 7.1,6.3 2.2,2.1 2.1,2.5 1.5,2.2 1.3,2.8 1,3.2 0.6,3.9 0.2,3.8 -0.2,3.8 -0.6,3.9 -1,3.2 -1.3,2.8 -1.5,2.2 -2.1,2.5 -2.2,2.1 -7.1,6.3 -3.3,3.3 -2.8,3.3 -2.3,3.2 -1.4,2.2 -1.4,2.8 -1.3,2.7 -1.2,2.7 -0.9,2.8 -1.1,3.2 -0.8,3.3 -0.9,3.9 -0.8,3.8 -0.7,4.4 -1.2,9.8 -1,10.9 -0.7,13.2 -0.6,15.3 -0.4,18 -0.4,22.4 -0.2,27.9M732.1,1401.1l0.3,26.8 0.3,21.3 0.4,18 0.6,14.8 0.7,13.1 0.9,11 1.2,9.8 1.4,8.2 1.6,7.1 1.8,6 1,2.8 1.2,2.7 1.2,2.7 1.5,2.8 2.4,3.8 2.4,3.3 3.2,3.8 5.6,6.1 2.2,2.6 2.1,2.8 1.5,2.7 0.7,1.7 0.6,1.6 0.9,3.3 0.5,3.3 0.2,3.8 -0.2,3.8 -0.5,3.3 -0.9,3.3 -0.6,1.6 -0.7,1.7 -1.5,2.7 -2.1,2.8 -2.2,2.6 -5.6,6.1 -3.2,3.8 -2.4,3.3 -2.4,3.8 -1.5,2.8 -1.2,2.7 -1.2,2.7 -1,2.8 -1.8,6 -1.6,7.1 -1.4,8.2 -1.2,9.8 -0.9,11 -0.7,13.1 -0.6,14.8 -0.4,18 -0.3,21.3 -0.3,26.8M736.6,1401.1l0.2,25.1 0.3,20.8 0.4,17.5 0.5,14.8 0.8,13.1 0.9,10.9 1.1,9.9 1.3,8.2 1.4,7.1 1.8,6.5 1.9,5.5 1.2,2.7 1.2,2.8 2.4,4.4 2.4,3.8 2.7,3.8 5.4,7.1 1.9,2.8 1.7,2.7 1.3,2.7 1.2,3.3 0.7,3.3 0.5,3.3 0.2,3.8 -0.2,3.8 -0.5,3.3 -0.7,3.3 -1.2,3.3 -1.3,2.7 -1.7,2.7 -1.9,2.8 -5.4,7.1 -2.7,3.8 -2.4,3.8 -2.4,4.4 -1.2,2.8 -1.2,2.7 -1.9,5.5 -1.8,6.5 -1.4,7.1 -1.3,8.2 -1.1,9.9 -0.9,10.9 -0.8,13.1 -0.5,14.8 -0.4,17.5 -0.3,20.8 -0.2,25.1M741,1401.1l0.2,24 0.3,20.3 0.4,16.9 0.5,14.8 0.7,12.6 0.8,10.9 1,9.3 1.3,8.7 1.3,7.2 1.6,6.5 1.8,6 2.1,5.5 2,4.4 2.4,4.3 2.3,3.9 5,7.9 1.8,3 1.5,3 1.3,3 1,3.3 0.7,3.3 0.5,3.3 0.1,3.8 -0.1,3.8 -0.5,3.3 -0.7,3.3 -1,3.3 -1.3,3 -1.5,3 -1.8,3 -5,7.9 -2.3,3.9 -2.4,4.3 -2,4.4 -2.1,5.5 -1.8,6 -1.6,6.5 -1.3,7.2 -1.3,8.7 -1,9.3 -0.8,10.9 -0.7,12.6 -0.5,14.8 -0.4,16.9 -0.3,20.3 -0.2,24M745.4,1401.1l0.2,23.5 0.3,19.1 0.4,16.4 0.5,14.2 0.6,12.6 0.8,11 0.9,9.3 1.2,8.7 1.2,7.1 1.4,6.6 1.6,6 2,6 1.5,3.8 1.9,4.4 2.2,4.4 6.1,11.5 1.7,3.8 1.2,3.3 1,3.3 0.7,3.8 0.4,3.3 0.2,3.8 -0.2,3.8 -0.4,3.3 -0.7,3.8 -1,3.3 -1.2,3.3 -1.7,3.8 -6.1,11.5 -2.2,4.4 -1.9,4.4 -1.5,3.8 -2,6 -1.6,6 -1.4,6.6 -1.2,7.1 -1.2,8.7 -0.9,9.3 -0.8,11 -0.6,12.6 -0.5,14.2 -0.4,16.4 -0.3,19.1 -0.2,23.5M749.8,1401.1l0.5,41 0.3,15.8 0.5,14.3 0.6,12 0.8,10.9 0.9,9.9 1,8.7 1.2,7.7 1.3,6.5 1.4,6.1 1.8,6 1.7,4.9 1.9,4.9 5.7,12.6 1.6,3.8 1.3,3.3 1,3.3 0.9,3.8 0.6,3.3 0.4,3.8 0.1,3.3 -0.1,3.3 -0.4,3.8 -0.6,3.3 -0.9,3.8 -1,3.3 -1.3,3.3 -1.6,3.8 -5.7,12.6 -1.9,4.9 -1.7,4.9 -1.8,6 -1.4,6.1 -1.3,6.5 -1.2,7.7 -1,8.7 -0.9,9.9 -0.8,10.9 -0.6,12 -0.5,14.3 -0.3,15.8 -0.5,41M754.2,1401.1l0.4,39.3 0.4,15.4 0.5,13.6 0.5,12.1 0.7,10.9 0.8,9.8 1,8.8 1,7.1 1.2,7.1 1.4,6.6 1.5,6 1.4,4.9 1.9,5.5 6.6,17.5 1.2,3.8 0.9,3.3 0.8,3.8 0.5,3.3 0.3,3.3 0.2,3.8 -0.2,3.8 -0.3,3.3 -0.5,3.3 -0.8,3.8 -0.9,3.3 -1.2,3.8 -6.6,17.5 -1.9,5.5 -1.4,4.9 -1.5,6 -1.4,6.6 -1.2,7.1 -1,7.1 -1,8.8 -0.8,9.8 -0.7,10.9 -0.5,12.1 -0.5,13.6 -0.4,15.4 -0.4,39.3M758.6,1401.1l0.4,37.7 0.4,15.3 0.4,13.7 0.5,12 0.7,10.4 0.7,9.8 0.9,8.8 0.9,7.1 1.1,7.1 1.2,6.6 1.5,6.5 1.2,5 1.6,5.4 6,18.6 1.1,3.9 0.8,3.2 0.7,3.9 0.5,3.8 0.3,3.3 0.1,3.8 -0.1,3.8 -0.3,3.3 -0.5,3.8 -0.7,3.9 -0.8,3.2 -1.1,3.9 -6,18.6 -1.6,5.4 -1.2,5 -1.5,6.5 -1.2,6.6 -1.1,7.1 -0.9,7.1 -0.9,8.8 -0.7,9.8 -0.7,10.4 -0.5,12 -0.4,13.7 -0.4,15.3 -0.4,37.7M762.9,1401.1l0.5,36.6 0.7,27.9 0.5,12 0.6,10.4 0.7,9.9 0.8,8.7 0.9,7.7 1,7.1 1.1,6.5 1.3,6.6 1.2,5.5 1.4,5.4 5.3,19.2 1.6,7.1 0.6,3.8 0.5,3.8 0.3,3.9 0.1,3.8 -0.1,3.8 -0.3,3.9 -0.5,3.8 -0.6,3.8 -1.6,7.1 -5.3,19.2 -1.4,5.4 -1.2,5.5 -1.3,6.6 -1.1,6.5 -1,7.1 -0.9,7.7 -0.8,8.7 -0.7,9.9 -0.6,10.4 -0.5,12 -0.7,27.9 -0.5,36.6M767.3,1401.1l0.5,35 0.6,27.3 0.5,12 0.6,10.4 0.6,9.9 0.7,8.7 0.8,7.7 0.9,7.1 1,6.6 1.1,6.5 1,5.5 1.4,6 4.6,19.7 1.5,7.6 0.7,4.4 0.4,3.8 0.2,3.9 0.1,3.8 -0.1,3.8 -0.2,3.9 -0.4,3.8 -0.7,4.4 -1.5,7.6 -4.6,19.7 -1.4,6 -1,5.5 -1.1,6.5 -1,6.6 -0.9,7.1 -0.8,7.7 -0.7,8.7 -0.6,9.9 -0.6,10.4 -0.5,12 -0.6,27.3 -0.5,35M771.7,1401.1l0.4,33.3 0.7,26.8 0.9,21.9 0.6,9.8 0.6,8.8 0.7,7.6 0.8,7.2 0.9,7.1 1,6.5 2,11.5 4.4,21.3 1.3,7.7 0.5,4.4 0.4,3.8 0.3,4.4 0,3.8 0,3.8 -0.3,4.4 -0.4,3.8 -0.5,4.4 -1.3,7.7 -4.4,21.3 -2,11.5 -1,6.5 -0.9,7.1 -0.8,7.2 -0.7,7.6 -0.6,8.8 -0.6,9.8 -0.9,21.9 -0.7,26.8 -0.4,33.3M776.1,1401.1l0.4,32.2 0.6,26.3 0.8,21.3 0.5,9.9 0.6,8.7 1.4,14.8 0.8,7.1 0.9,7.1 1.9,12 3.7,21.3 1.2,8.2 0.5,4.4 0.4,4.4 0.2,4.4 0.1,3.8 -0.1,3.8 -0.2,4.4 -0.4,4.4 -0.5,4.4 -1.2,8.2 -3.7,21.3 -1.9,12 -0.9,7.1 -0.8,7.1 -1.4,14.8 -0.6,8.7 -0.5,9.9 -0.8,21.3 -0.6,26.3 -0.4,32.2M780.5,1401.1l0.4,31.1 0.5,25.2 0.7,21.3 1.1,18.6 1.2,14.8 1.5,14.2 1.6,12 3.4,22.5 1.1,8.7 0.8,8.7 0.2,4.4 0.1,4.4 -0.1,4.4 -0.2,4.4 -0.8,8.7 -1.1,8.7 -3.4,22.5 -1.6,12 -1.5,14.2 -1.2,14.8 -1.1,18.6 -0.7,21.3 -0.5,25.2 -0.4,31.1M784.9,1401.1l0.3,30 0.5,24.7 0.7,20.7 0.9,18.6 1.1,15.3 1.4,14.3 1.4,12 3,23 1,8.7 0.7,9.3 0.2,4.9 0.1,4.4 -0.1,4.4 -0.2,4.9 -0.7,9.3 -1,8.7 -3,23 -1.4,12 -1.4,14.3 -1.1,15.3 -0.9,18.6 -0.7,20.7 -0.5,24.7 -0.3,30M789.2,1401.1l0.4,28.9 0.4,24.1 0.7,20.8 0.8,18 1,15.3 1.2,14.3 1.2,12.5 2.7,23.6 0.9,9.3 0.7,9.8 0.2,9.3 -0.2,9.3 -0.7,9.8 -0.9,9.3 -2.7,23.6 -1.2,12.5 -1.2,14.3 -1,15.3 -0.8,18 -0.7,20.8 -0.4,24.1 -0.4,28.9M793.6,1401.1l0.3,27.9 0.4,23.5 0.6,20.2 0.7,18.1 0.9,15.3 1.1,14.2 1.1,13.1 2.5,24.1 0.7,9.3 0.6,10.4 0.2,9.8 -0.2,9.8 -0.6,10.4 -0.7,9.3 -2.5,24.1 -1.1,13.1 -1.1,14.2 -0.9,15.3 -0.7,18.1 -0.6,20.2 -0.4,23.5 -0.3,27.9M798,1401.1l0.3,26.8 0.3,22.9 0.5,19.7 0.7,18.1 0.8,15.3 1,14.7 1,13.2 2.1,24 0.8,10.4 0.5,11 0.2,9.8 -0.2,9.8 -0.5,11 -0.8,10.4 -2.1,24 -1,13.2 -1,14.7 -0.8,15.3 -0.7,18.1 -0.5,19.7 -0.3,22.9 -0.3,26.8M802.4,1401.1l0.2,25.7 0.4,22.4 0.4,19.7 0.6,17.5 0.7,15.3 0.8,14.8 0.9,13.1 2,25.1 0.6,10.4 0.5,11.5 0.2,10.4 -0.2,10.4 -0.5,11.5 -0.6,10.4 -2,25.1 -0.9,13.1 -0.8,14.8 -0.7,15.3 -0.6,17.5 -0.4,19.7 -0.4,22.4 -0.2,25.7M806.7,1401.1l0.3,25.1 0.3,21.9 0.4,19.1 0.5,17.5 0.6,15.3 0.8,14.8 2.5,38.8 0.6,10.4 0.4,12.1 0.2,10.9 -0.2,10.9 -0.4,12.1 -0.6,10.4 -2.5,38.8 -0.8,14.8 -0.6,15.3 -0.5,17.5 -0.4,19.1 -0.3,21.9 -0.3,25.1M811.1,1401.1l0.5,45.9 0.4,19.1 0.4,17 0.6,15.3 0.6,14.8 2.8,50.3 0.4,12 0.2,11.5 -0.2,11.5 -0.4,12 -2.8,50.3 -0.6,14.8 -0.6,15.3 -0.4,17 -0.4,19.1 -0.5,45.9M815.5,1401.1l0.4,44.3 0.7,35.5 1.1,30.1 2.5,51.4 0.3,12.6 0.2,12 -0.2,12 -0.3,12.6 -2.5,51.4 -1.1,30.1 -0.7,35.5 -0.4,44.3M819.8,1401.1l0.4,43.2 0.7,35 0.9,30 2.2,52.5 0.3,13.2 0.1,12 -0.1,12 -0.3,13.2 -2.2,52.5 -0.9,30 -0.7,35 -0.4,43.2M824.2,1401.1l0.3,42.6 0.6,34.5 0.8,30 1.9,52.6 0.4,13.6 0.1,12.6 -0.1,12.6 -0.4,13.6 -1.9,52.6 -0.8,30 -0.6,34.5 -0.3,42.6M828.5,1401.1l0.4,41.5 0.4,33.9 0.8,30.1 1.7,53.6 0.2,13.7 0.1,13.1 -0.1,13.1 -0.2,13.7 -1.7,53.6 -0.8,30.1 -0.4,33.9 -0.4,41.5M832.9,1401.1l0.3,40.4 0.4,33.9 0.6,29.6 1.5,54.7 0.2,14.2 0.1,13.1 -0.1,13.1 -0.2,14.2 -1.5,54.7 -0.6,29.6 -0.4,33.9 -0.3,40.4M837.3,1401.1l0.2,39.9 0.4,33.3 0.5,29.6 1.2,55.2 0.2,14.2 0.1,13.7 -0.1,13.7 -0.2,14.2 -1.2,55.2 -0.5,29.6 -0.4,33.3 -0.2,39.9M841.6,1401.1l0.2,39.3 0.3,32.8 0.5,29.6 1,55.8 0.2,28.4 -0.2,28.4 -1,55.8 -0.5,29.6 -0.3,32.8 -0.2,39.3M846,1401.1l0.1,38.2 0.3,32.9 0.3,29.5 0.9,56.3 0.2,29 -0.2,29 -0.9,56.3 -0.3,29.5 -0.3,32.9 -0.1,38.2M850.3,1401.1l0.3,70.5 1,85.9 0.2,29.5 -0.2,29.5 -1,85.9 -0.3,70.5M854.7,1401.1l0.2,70 0.7,86.4 0.1,29.5 -0.1,29.5 -0.7,86.4 -0.2,70M859,1401.1l0.2,69.4 0.5,86.4 0,30.1 0,30.1 -0.5,86.4 -0.2,69.4M863.4,1401.1l0.3,185.9 -0.3,185.9" fill="none" stroke="#2e2e2e" stroke-width="1"/>
<path d="M648.6,1564.63L867.73,1637.6M648.6,1564.9L867.73,1635.74M648.6,1565.54L867.73,1633.11M648.6,1566.55L867.73,1629.83M648.6,1567.9L867.73,1626.04M648.6,1569.56L867.73,1621.84M648.6,1571.51L867.73,1617.33M648.6,1573.7L867.73,1612.57M648.6,1576.11L867.73,1607.64M648.6,1578.68L867.73,1602.58M648.6,1581.39L867.73,1597.43M648.6,1584.17L867.73,1592.23M648.6,1587L867.73,1587M648.6,1589.83L867.73,1581.77M648.6,1592.61L867.73,1576.57M648.6,1595.32L867.73,1571.42M648.6,1597.89L867.73,1566.36M648.6,1600.3L867.73,1561.43M648.6,1602.49L867.73,1556.67M648.6,1604.44L867.73,1552.16M648.6,1606.1L867.73,1547.96M648.6,1607.45L867.73,1544.17M648.6,1608.46L867.73,1540.89M648.6,1609.1L867.73,1538.26M648.6,1609.37L867.73,1536.4" fill="none" stroke="#111" stroke-width="0.7"/>
<path d="M758.2,1587l0.9,2.7 0.9,1.1 1.8,1.6 2.8,1.9 4.6,2.7 6.5,3.4 7.3,3.7 7.4,3.5 8.3,3.8 9.2,3.9 9.2,3.8 9.2,3.7 10.1,3.8 10.2,3.7 10.1,3.6 11,3.7M758.2,1587l0.9,2.2 0.9,1.1 1.8,1.6 1.9,1.3 1.8,1.1 4.6,2.6 6.5,3.3 7.3,3.5 8.3,3.8 8.3,3.6 8.3,3.4 9.2,3.7 9.2,3.5 9.2,3.4 10.2,3.6 10.1,3.4 11,3.6M758.2,1587l0.9,1.8 0.9,1 1.8,1.5 1.9,1.3 1.8,1 4.6,2.5 6.5,3.1 7.3,3.4 8.3,3.6 8.3,3.4 8.3,3.3 9.2,3.5 9.2,3.3 9.2,3.2 10.2,3.4 10.1,3.3 11,3.5M758.2,1587l0.9,1.5 0.9,0.9 0.9,0.8 2.8,1.7 2.8,1.5 5.5,2.7 6.4,2.9 7.4,3.1 7.4,2.9 8.2,3.2 8.3,3 9.2,3.3 9.2,3.1 9.2,3 10.2,3.2 20.2,6M758.2,1587l0.9,1.2 0.9,0.8 0.9,0.7 2.8,1.6 3.7,1.8 5.5,2.4 6.4,2.6 7.4,2.8 7.4,2.7 8.3,2.9 8.2,2.8 17.5,5.5 19.4,5.7 20.2,5.5M758.2,1587l0.9,1 1.8,1.3 2.8,1.4 3.7,1.6 5.5,2.2 6.4,2.3 7.4,2.5 8.3,2.7 16.6,5.1 17.5,4.9 18.4,4.8 20.2,5M758.2,1587l0.9,0.8 0.9,0.6 1.8,0.9 2.8,1.2 3.7,1.4 5.5,1.8 6.5,2 14.7,4.3 16.6,4.4 17.5,4.3 18.4,4.3 20.2,4.3M758.2,1587l0.9,0.6 0.9,0.5 1.8,0.8 2.8,1 3.7,1.1 5.5,1.6 6.5,1.7 15.6,3.8 15.7,3.5 17.5,3.7 18.4,3.6 20.2,3.7M758.2,1587l1.8,0.9 1.8,0.6 2.8,0.8 3.7,0.9 12,2.6 15.6,3.1 16.6,3 17.5,3 18.4,2.9 19.3,2.8M758.2,1587l1.8,0.6 1.8,0.5 2.8,0.6 4.6,0.9 12,1.9 14.7,2.2 16.6,2.3 17.5,2.2 18.4,2.2 19.3,2.2M758.2,1587l3.6,0.7 7.4,1 12,1.3 14.7,1.5 15.7,1.4 17.5,1.5 38.6,3M758.2,1587l3.6,0.4 7.4,0.4 27.6,1.5 33.2,1.5 37.7,1.4M758.2,1587l109.5,0M758.2,1587l3.6-0.4 7.4-0.4 27.6-1.5 33.2-1.5 37.7-1.4M758.2,1587l3.6-0.7 7.4-1 12-1.3 14.7-1.5 15.7-1.4 17.5-1.5 38.6-3M758.2,1587l1.8-0.6 1.8-0.5 2.8-0.6 4.6-0.9 12-1.9 14.7-2.2 16.6-2.3 17.5-2.2 18.4-2.2 19.3-2.2M758.2,1587l1.8-0.9 1.8-0.6 2.8-0.8 3.7-0.9 12-2.6 15.6-3.1 16.6-3 17.5-3 18.4-2.9 19.3-2.8M758.2,1587l0.9-0.6 0.9-0.5 1.8-0.8 2.8-1 3.7-1.1 5.5-1.6 6.5-1.7 15.6-3.8 15.7-3.5 17.5-3.7 18.4-3.6 20.2-3.7M758.2,1587l0.9-0.8 0.9-0.6 1.8-0.9 2.8-1.2 3.7-1.4 5.5-1.8 6.5-2 14.7-4.3 16.6-4.4 17.5-4.3 18.4-4.3 20.2-4.3M758.2,1587l0.9-1 1.8-1.3 2.8-1.4 3.7-1.6 5.5-2.2 6.4-2.3 7.4-2.5 8.3-2.7 16.6-5.1 17.5-4.9 18.4-4.8 20.2-5M758.2,1587l0.9-1.2 0.9-0.8 0.9-0.7 2.8-1.6 3.7-1.8 5.5-2.4 6.4-2.6 7.4-2.8 7.4-2.7 8.3-2.9 8.2-2.8 17.5-5.5 19.4-5.7 20.2-5.5M758.2,1587l0.9-1.5 0.9-0.9 0.9-0.8 2.8-1.7 2.8-1.5 5.5-2.7 6.4-2.9 7.4-3.1 7.4-2.9 8.2-3.2 8.3-3 9.2-3.3 9.2-3.1 9.2-3 10.2-3.2 20.2-6M758.2,1587l0.9-1.8 0.9-1 1.8-1.5 1.9-1.3 1.8-1 4.6-2.5 6.5-3.1 7.3-3.4 8.3-3.6 8.3-3.4 8.3-3.3 9.2-3.5 9.2-3.3 9.2-3.2 10.2-3.4 10.1-3.3 11-3.5M758.2,1587l0.9-2.2 0.9-1.1 1.8-1.6 1.9-1.3 1.8-1.1 4.6-2.6 6.5-3.3 7.3-3.5 8.3-3.8 8.3-3.6 8.3-3.4 9.2-3.7 9.2-3.5 9.2-3.4 10.2-3.6 10.1-3.4 11-3.6M758.2,1587l0.9-2.7 0.9-1.1 1.8-1.6 2.8-1.9 4.6-2.7 6.5-3.4 7.3-3.7 7.4-3.5 8.3-3.8 9.2-3.9 9.2-3.8 9.2-3.7 10.1-3.8 10.2-3.7 10.1-3.6 11-3.7" fill="none" stroke="#111" stroke-width="1.05" stroke-linejoin="round"/>
<line x1="725.6" y1="1543.25" x2="725.6" y2="1630.75" stroke="#222" stroke-width="1.1"/>
<line x1="867.73" y1="1413" x2="867.73" y2="1762" stroke="#111" stroke-width="2.7" stroke-dasharray="2.5 3.47"/>
<path d="M692.43,1410 L692.43,1576.06 L758.17,1576.06 L758.17,1597.94 L692.43,1597.94 L692.43,1764" fill="none" stroke="#111" stroke-width="2.8" stroke-linejoin="miter"/>
</g>
<rect x="648.6" y="1412" width="328.7" height="350" fill="none" stroke="#333" stroke-width="1.4"/>
<line x1="670.51" y1="1762" x2="670.51" y2="1758" stroke="#333" stroke-width="1.4" />
<line x1="670.51" y1="1412" x2="670.51" y2="1416" stroke="#333" stroke-width="1.4" />
<line x1="692.43" y1="1762" x2="692.43" y2="1758" stroke="#333" stroke-width="1.4" />
<line x1="692.43" y1="1412" x2="692.43" y2="1416" stroke="#333" stroke-width="1.4" />
<line x1="714.34" y1="1762" x2="714.34" y2="1758" stroke="#333" stroke-width="1.4" />
<line x1="714.34" y1="1412" x2="714.34" y2="1416" stroke="#333" stroke-width="1.4" />
<line x1="736.25" y1="1762" x2="736.25" y2="1758" stroke="#333" stroke-width="1.4" />
<line x1="736.25" y1="1412" x2="736.25" y2="1416" stroke="#333" stroke-width="1.4" />
<line x1="758.17" y1="1762" x2="758.17" y2="1754.5" stroke="#333" stroke-width="1.4" />
<line x1="758.17" y1="1412" x2="758.17" y2="1419.5" stroke="#333" stroke-width="1.4" />
<line x1="780.08" y1="1762" x2="780.08" y2="1758" stroke="#333" stroke-width="1.4" />
<line x1="780.08" y1="1412" x2="780.08" y2="1416" stroke="#333" stroke-width="1.4" />
<line x1="801.99" y1="1762" x2="801.99" y2="1758" stroke="#333" stroke-width="1.4" />
<line x1="801.99" y1="1412" x2="801.99" y2="1416" stroke="#333" stroke-width="1.4" />
<line x1="823.91" y1="1762" x2="823.91" y2="1758" stroke="#333" stroke-width="1.4" />
<line x1="823.91" y1="1412" x2="823.91" y2="1416" stroke="#333" stroke-width="1.4" />
<line x1="845.82" y1="1762" x2="845.82" y2="1758" stroke="#333" stroke-width="1.4" />
<line x1="845.82" y1="1412" x2="845.82" y2="1416" stroke="#333" stroke-width="1.4" />
<line x1="867.73" y1="1762" x2="867.73" y2="1754.5" stroke="#333" stroke-width="1.4" />
<line x1="867.73" y1="1412" x2="867.73" y2="1419.5" stroke="#333" stroke-width="1.4" />
<line x1="889.65" y1="1762" x2="889.65" y2="1758" stroke="#333" stroke-width="1.4" />
<line x1="889.65" y1="1412" x2="889.65" y2="1416" stroke="#333" stroke-width="1.4" />
<line x1="911.56" y1="1762" x2="911.56" y2="1758" stroke="#333" stroke-width="1.4" />
<line x1="911.56" y1="1412" x2="911.56" y2="1416" stroke="#333" stroke-width="1.4" />
<line x1="933.47" y1="1762" x2="933.47" y2="1758" stroke="#333" stroke-width="1.4" />
<line x1="933.47" y1="1412" x2="933.47" y2="1416" stroke="#333" stroke-width="1.4" />
<line x1="955.39" y1="1762" x2="955.39" y2="1758" stroke="#333" stroke-width="1.4" />
<line x1="955.39" y1="1412" x2="955.39" y2="1416" stroke="#333" stroke-width="1.4" />
<line x1="648.6" y1="1740.12" x2="652.6" y2="1740.12" stroke="#333" stroke-width="1.4" />
<line x1="977.3" y1="1740.12" x2="973.3" y2="1740.12" stroke="#333" stroke-width="1.4" />
<line x1="648.6" y1="1718.25" x2="652.6" y2="1718.25" stroke="#333" stroke-width="1.4" />
<line x1="977.3" y1="1718.25" x2="973.3" y2="1718.25" stroke="#333" stroke-width="1.4" />
<line x1="648.6" y1="1696.38" x2="656.1" y2="1696.38" stroke="#333" stroke-width="1.4" />
<line x1="977.3" y1="1696.38" x2="969.8" y2="1696.38" stroke="#333" stroke-width="1.4" />
<line x1="648.6" y1="1674.5" x2="652.6" y2="1674.5" stroke="#333" stroke-width="1.4" />
<line x1="977.3" y1="1674.5" x2="973.3" y2="1674.5" stroke="#333" stroke-width="1.4" />
<line x1="648.6" y1="1652.62" x2="652.6" y2="1652.62" stroke="#333" stroke-width="1.4" />
<line x1="977.3" y1="1652.62" x2="973.3" y2="1652.62" stroke="#333" stroke-width="1.4" />
<line x1="648.6" y1="1630.75" x2="652.6" y2="1630.75" stroke="#333" stroke-width="1.4" />
<line x1="977.3" y1="1630.75" x2="973.3" y2="1630.75" stroke="#333" stroke-width="1.4" />
<line x1="648.6" y1="1608.88" x2="652.6" y2="1608.88" stroke="#333" stroke-width="1.4" />
<line x1="977.3" y1="1608.88" x2="973.3" y2="1608.88" stroke="#333" stroke-width="1.4" />
<line x1="648.6" y1="1587" x2="656.1" y2="1587" stroke="#333" stroke-width="1.4" />
<line x1="977.3" y1="1587" x2="969.8" y2="1587" stroke="#333" stroke-width="1.4" />
<line x1="648.6" y1="1565.12" x2="652.6" y2="1565.12" stroke="#333" stroke-width="1.4" />
<line x1="977.3" y1="1565.12" x2="973.3" y2="1565.12" stroke="#333" stroke-width="1.4" />
<line x1="648.6" y1="1543.25" x2="652.6" y2="1543.25" stroke="#333" stroke-width="1.4" />
<line x1="977.3" y1="1543.25" x2="973.3" y2="1543.25" stroke="#333" stroke-width="1.4" />
<line x1="648.6" y1="1521.38" x2="652.6" y2="1521.38" stroke="#333" stroke-width="1.4" />
<line x1="977.3" y1="1521.38" x2="973.3" y2="1521.38" stroke="#333" stroke-width="1.4" />
<line x1="648.6" y1="1499.5" x2="652.6" y2="1499.5" stroke="#333" stroke-width="1.4" />
<line x1="977.3" y1="1499.5" x2="973.3" y2="1499.5" stroke="#333" stroke-width="1.4" />
<line x1="648.6" y1="1477.62" x2="656.1" y2="1477.62" stroke="#333" stroke-width="1.4" />
<line x1="977.3" y1="1477.62" x2="969.8" y2="1477.62" stroke="#333" stroke-width="1.4" />
<line x1="648.6" y1="1455.75" x2="652.6" y2="1455.75" stroke="#333" stroke-width="1.4" />
<line x1="977.3" y1="1455.75" x2="973.3" y2="1455.75" stroke="#333" stroke-width="1.4" />
<line x1="648.6" y1="1433.88" x2="652.6" y2="1433.88" stroke="#333" stroke-width="1.4" />
<line x1="977.3" y1="1433.88" x2="973.3" y2="1433.88" stroke="#333" stroke-width="1.4" />
<text x="642.6" y="1792" font-size="26" text-anchor="middle" fill="#222" >-10</text>
<text x="758.47" y="1792" font-size="26" text-anchor="middle" fill="#222" >0</text>
<text x="866.73" y="1792" font-size="26" text-anchor="middle" fill="#222" >10</text>
<text x="974.7" y="1792" font-size="26" text-anchor="middle" fill="#222" >20</text>
<text x="645.7" y="1706.17" font-size="26" text-anchor="end" fill="#222" >-10</text>
<text x="634.4" y="1597.6" font-size="26" text-anchor="end" fill="#222" >0</text>
<text x="645.7" y="1487.42" font-size="26" text-anchor="end" fill="#222" >10</text>
<text x="646" y="1395" font-size="37.5" text-anchor="start" fill="#222" >p/L=0.6, r<tspan font-size="25">0</tspan>/L= 0.1</text>
</svg>
</body></html>
